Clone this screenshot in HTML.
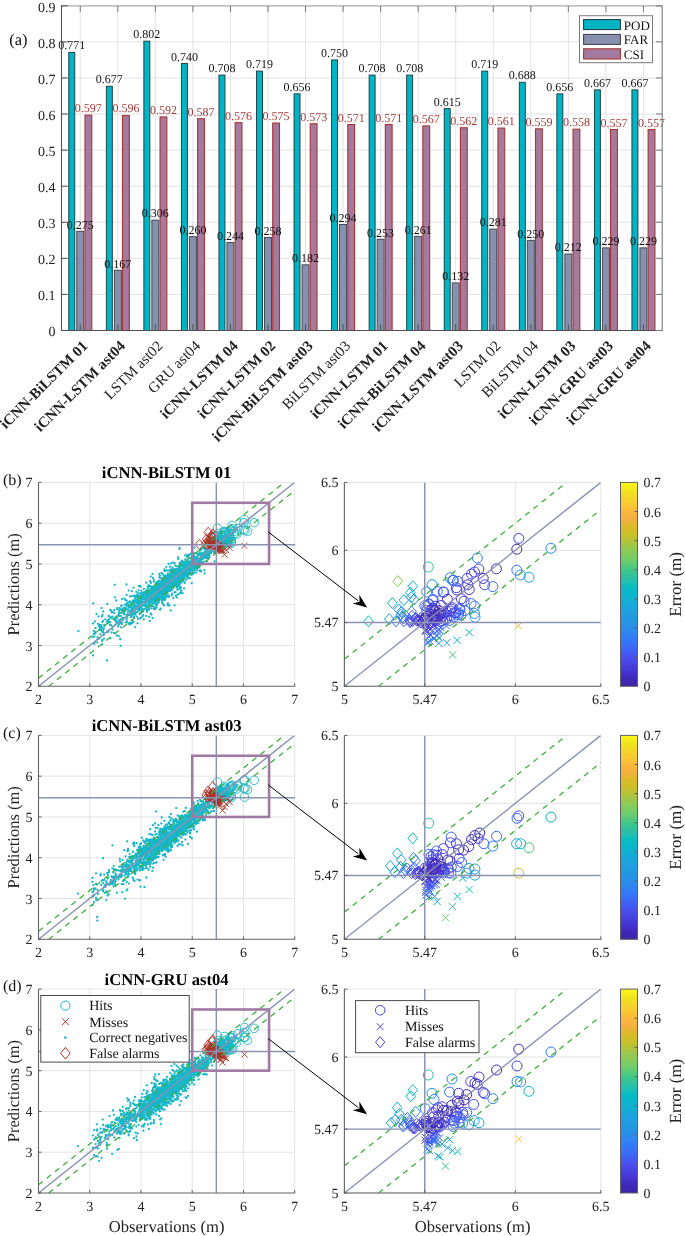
<!DOCTYPE html>
<html><head><meta charset="utf-8"><title>figure</title>
<style>
html,body{margin:0;padding:0;background:#fff;}
svg{display:block;will-change:transform;}
text{font-family:"Liberation Serif", serif;text-rendering:geometricPrecision;}
</style></head>
<body>
<svg width="685" height="1236" viewBox="0 0 685 1236">
<defs><linearGradient id="parula" x1="0" y1="0" x2="0" y2="1"><stop offset="0.000" stop-color="#f8f818"/><stop offset="0.050" stop-color="#f0e020"/><stop offset="0.100" stop-color="#f8cc30"/><stop offset="0.143" stop-color="#fbb83c"/><stop offset="0.180" stop-color="#f5b040"/><stop offset="0.220" stop-color="#daba28"/><stop offset="0.247" stop-color="#d0be28"/><stop offset="0.286" stop-color="#b4c438"/><stop offset="0.321" stop-color="#98c850"/><stop offset="0.357" stop-color="#80cc60"/><stop offset="0.390" stop-color="#68cc70"/><stop offset="0.429" stop-color="#40c888"/><stop offset="0.463" stop-color="#30c0a0"/><stop offset="0.489" stop-color="#20c0b0"/><stop offset="0.513" stop-color="#08bcc0"/><stop offset="0.537" stop-color="#08b8c8"/><stop offset="0.571" stop-color="#10b0d0"/><stop offset="0.601" stop-color="#18a8d8"/><stop offset="0.636" stop-color="#20a0e0"/><stop offset="0.670" stop-color="#2098e0"/><stop offset="0.704" stop-color="#2890e8"/><stop offset="0.733" stop-color="#3088f0"/><stop offset="0.773" stop-color="#3478f8"/><stop offset="0.811" stop-color="#3c68f8"/><stop offset="0.857" stop-color="#4850f0"/><stop offset="0.896" stop-color="#4840e0"/><stop offset="0.930" stop-color="#4434d0"/><stop offset="0.964" stop-color="#4028b8"/><stop offset="1.000" stop-color="#3c24a8"/></linearGradient></defs>
<rect width="685" height="1236" fill="#fff"/>
<line x1="61.5" y1="294.42" x2="662.2" y2="294.42" stroke="#e3e3e3" stroke-width="1"/>
<line x1="61.5" y1="258.34" x2="662.2" y2="258.34" stroke="#e3e3e3" stroke-width="1"/>
<line x1="61.5" y1="222.27" x2="662.2" y2="222.27" stroke="#e3e3e3" stroke-width="1"/>
<line x1="61.5" y1="186.19" x2="662.2" y2="186.19" stroke="#e3e3e3" stroke-width="1"/>
<line x1="61.5" y1="150.11" x2="662.2" y2="150.11" stroke="#e3e3e3" stroke-width="1"/>
<line x1="61.5" y1="114.03" x2="662.2" y2="114.03" stroke="#e3e3e3" stroke-width="1"/>
<line x1="61.5" y1="77.96" x2="662.2" y2="77.96" stroke="#e3e3e3" stroke-width="1"/>
<line x1="61.5" y1="41.88" x2="662.2" y2="41.88" stroke="#e3e3e3" stroke-width="1"/>
<line x1="80.27" y1="5.8" x2="80.27" y2="330.5" stroke="#e3e3e3" stroke-width="1"/>
<line x1="117.82" y1="5.8" x2="117.82" y2="330.5" stroke="#e3e3e3" stroke-width="1"/>
<line x1="155.36" y1="5.8" x2="155.36" y2="330.5" stroke="#e3e3e3" stroke-width="1"/>
<line x1="192.90" y1="5.8" x2="192.90" y2="330.5" stroke="#e3e3e3" stroke-width="1"/>
<line x1="230.45" y1="5.8" x2="230.45" y2="330.5" stroke="#e3e3e3" stroke-width="1"/>
<line x1="267.99" y1="5.8" x2="267.99" y2="330.5" stroke="#e3e3e3" stroke-width="1"/>
<line x1="305.53" y1="5.8" x2="305.53" y2="330.5" stroke="#e3e3e3" stroke-width="1"/>
<line x1="343.08" y1="5.8" x2="343.08" y2="330.5" stroke="#e3e3e3" stroke-width="1"/>
<line x1="380.62" y1="5.8" x2="380.62" y2="330.5" stroke="#e3e3e3" stroke-width="1"/>
<line x1="418.17" y1="5.8" x2="418.17" y2="330.5" stroke="#e3e3e3" stroke-width="1"/>
<line x1="455.71" y1="5.8" x2="455.71" y2="330.5" stroke="#e3e3e3" stroke-width="1"/>
<line x1="493.25" y1="5.8" x2="493.25" y2="330.5" stroke="#e3e3e3" stroke-width="1"/>
<line x1="530.80" y1="5.8" x2="530.80" y2="330.5" stroke="#e3e3e3" stroke-width="1"/>
<line x1="568.34" y1="5.8" x2="568.34" y2="330.5" stroke="#e3e3e3" stroke-width="1"/>
<line x1="605.88" y1="5.8" x2="605.88" y2="330.5" stroke="#e3e3e3" stroke-width="1"/>
<line x1="643.43" y1="5.8" x2="643.43" y2="330.5" stroke="#e3e3e3" stroke-width="1"/>
<rect x="68.77" y="52.34" width="6.00" height="278.16" fill="#00b4c4" stroke="#16393c" stroke-width="0.9"/>
<rect x="76.77" y="231.29" width="7.00" height="99.21" fill="#8791ad" stroke="#3a3d48" stroke-width="0.9"/>
<rect x="84.97" y="115.12" width="6.80" height="215.38" fill="#a47a9e" stroke="#a83434" stroke-width="1.1"/>
<rect x="106.32" y="86.25" width="6.00" height="244.25" fill="#00b4c4" stroke="#16393c" stroke-width="0.9"/>
<rect x="114.32" y="270.25" width="7.00" height="60.25" fill="#8791ad" stroke="#3a3d48" stroke-width="0.9"/>
<rect x="122.52" y="115.48" width="6.80" height="215.02" fill="#a47a9e" stroke="#a83434" stroke-width="1.1"/>
<rect x="143.86" y="41.16" width="6.00" height="289.34" fill="#00b4c4" stroke="#16393c" stroke-width="0.9"/>
<rect x="151.86" y="220.10" width="7.00" height="110.40" fill="#8791ad" stroke="#3a3d48" stroke-width="0.9"/>
<rect x="160.06" y="116.92" width="6.80" height="213.58" fill="#a47a9e" stroke="#a83434" stroke-width="1.1"/>
<rect x="181.40" y="63.52" width="6.00" height="266.98" fill="#00b4c4" stroke="#16393c" stroke-width="0.9"/>
<rect x="189.40" y="236.70" width="7.00" height="93.80" fill="#8791ad" stroke="#3a3d48" stroke-width="0.9"/>
<rect x="197.60" y="118.72" width="6.80" height="211.78" fill="#a47a9e" stroke="#a83434" stroke-width="1.1"/>
<rect x="218.95" y="75.07" width="6.00" height="255.43" fill="#00b4c4" stroke="#16393c" stroke-width="0.9"/>
<rect x="226.95" y="242.47" width="7.00" height="88.03" fill="#8791ad" stroke="#3a3d48" stroke-width="0.9"/>
<rect x="235.15" y="122.69" width="6.80" height="207.81" fill="#a47a9e" stroke="#a83434" stroke-width="1.1"/>
<rect x="256.49" y="71.10" width="6.00" height="259.40" fill="#00b4c4" stroke="#16393c" stroke-width="0.9"/>
<rect x="264.49" y="237.42" width="7.00" height="93.08" fill="#8791ad" stroke="#3a3d48" stroke-width="0.9"/>
<rect x="272.69" y="123.05" width="6.80" height="207.45" fill="#a47a9e" stroke="#a83434" stroke-width="1.1"/>
<rect x="294.03" y="93.83" width="6.00" height="236.67" fill="#00b4c4" stroke="#16393c" stroke-width="0.9"/>
<rect x="302.03" y="264.84" width="7.00" height="65.66" fill="#8791ad" stroke="#3a3d48" stroke-width="0.9"/>
<rect x="310.23" y="123.77" width="6.80" height="206.73" fill="#a47a9e" stroke="#a83434" stroke-width="1.1"/>
<rect x="331.58" y="59.92" width="6.00" height="270.58" fill="#00b4c4" stroke="#16393c" stroke-width="0.9"/>
<rect x="339.58" y="224.43" width="7.00" height="106.07" fill="#8791ad" stroke="#3a3d48" stroke-width="0.9"/>
<rect x="347.78" y="124.50" width="6.80" height="206.00" fill="#a47a9e" stroke="#a83434" stroke-width="1.1"/>
<rect x="369.12" y="75.07" width="6.00" height="255.43" fill="#00b4c4" stroke="#16393c" stroke-width="0.9"/>
<rect x="377.12" y="239.22" width="7.00" height="91.28" fill="#8791ad" stroke="#3a3d48" stroke-width="0.9"/>
<rect x="385.32" y="124.50" width="6.80" height="206.00" fill="#a47a9e" stroke="#a83434" stroke-width="1.1"/>
<rect x="406.67" y="75.07" width="6.00" height="255.43" fill="#00b4c4" stroke="#16393c" stroke-width="0.9"/>
<rect x="414.67" y="236.34" width="7.00" height="94.16" fill="#8791ad" stroke="#3a3d48" stroke-width="0.9"/>
<rect x="422.87" y="125.94" width="6.80" height="204.56" fill="#a47a9e" stroke="#a83434" stroke-width="1.1"/>
<rect x="444.21" y="108.62" width="6.00" height="221.88" fill="#00b4c4" stroke="#16393c" stroke-width="0.9"/>
<rect x="452.21" y="282.88" width="7.00" height="47.62" fill="#8791ad" stroke="#3a3d48" stroke-width="0.9"/>
<rect x="460.41" y="127.74" width="6.80" height="202.76" fill="#a47a9e" stroke="#a83434" stroke-width="1.1"/>
<rect x="481.75" y="71.10" width="6.00" height="259.40" fill="#00b4c4" stroke="#16393c" stroke-width="0.9"/>
<rect x="489.75" y="229.12" width="7.00" height="101.38" fill="#8791ad" stroke="#3a3d48" stroke-width="0.9"/>
<rect x="497.95" y="128.10" width="6.80" height="202.40" fill="#a47a9e" stroke="#a83434" stroke-width="1.1"/>
<rect x="519.30" y="82.28" width="6.00" height="248.22" fill="#00b4c4" stroke="#16393c" stroke-width="0.9"/>
<rect x="527.30" y="240.31" width="7.00" height="90.19" fill="#8791ad" stroke="#3a3d48" stroke-width="0.9"/>
<rect x="535.50" y="128.83" width="6.80" height="201.67" fill="#a47a9e" stroke="#a83434" stroke-width="1.1"/>
<rect x="556.84" y="93.83" width="6.00" height="236.67" fill="#00b4c4" stroke="#16393c" stroke-width="0.9"/>
<rect x="564.84" y="254.02" width="7.00" height="76.48" fill="#8791ad" stroke="#3a3d48" stroke-width="0.9"/>
<rect x="573.04" y="129.19" width="6.80" height="201.31" fill="#a47a9e" stroke="#a83434" stroke-width="1.1"/>
<rect x="594.38" y="89.86" width="6.00" height="240.64" fill="#00b4c4" stroke="#16393c" stroke-width="0.9"/>
<rect x="602.38" y="247.88" width="7.00" height="82.62" fill="#8791ad" stroke="#3a3d48" stroke-width="0.9"/>
<rect x="610.58" y="129.55" width="6.80" height="200.95" fill="#a47a9e" stroke="#a83434" stroke-width="1.1"/>
<rect x="631.93" y="89.86" width="6.00" height="240.64" fill="#00b4c4" stroke="#16393c" stroke-width="0.9"/>
<rect x="639.93" y="247.88" width="7.00" height="82.62" fill="#8791ad" stroke="#3a3d48" stroke-width="0.9"/>
<rect x="648.13" y="129.55" width="6.80" height="200.95" fill="#a47a9e" stroke="#a83434" stroke-width="1.1"/>
<text x="71.77" y="49.34" font-size="12" text-anchor="middle" fill="#111">0.771</text>
<text x="80.27" y="228.59" font-size="12" text-anchor="middle" fill="#111">0.275</text>
<text x="88.37" y="112.12" font-size="12" text-anchor="middle" fill="#a83838">0.597</text>
<text x="109.32" y="83.25" font-size="12" text-anchor="middle" fill="#111">0.677</text>
<text x="117.82" y="267.55" font-size="12" text-anchor="middle" fill="#111">0.167</text>
<text x="125.92" y="112.48" font-size="12" text-anchor="middle" fill="#a83838">0.596</text>
<text x="146.86" y="38.16" font-size="12" text-anchor="middle" fill="#111">0.802</text>
<text x="155.36" y="217.40" font-size="12" text-anchor="middle" fill="#111">0.306</text>
<text x="163.46" y="113.92" font-size="12" text-anchor="middle" fill="#a83838">0.592</text>
<text x="184.40" y="60.52" font-size="12" text-anchor="middle" fill="#111">0.740</text>
<text x="192.90" y="234.00" font-size="12" text-anchor="middle" fill="#111">0.260</text>
<text x="201.00" y="115.72" font-size="12" text-anchor="middle" fill="#a83838">0.587</text>
<text x="221.95" y="72.07" font-size="12" text-anchor="middle" fill="#111">0.708</text>
<text x="230.45" y="239.77" font-size="12" text-anchor="middle" fill="#111">0.244</text>
<text x="238.55" y="119.69" font-size="12" text-anchor="middle" fill="#a83838">0.576</text>
<text x="259.49" y="68.10" font-size="12" text-anchor="middle" fill="#111">0.719</text>
<text x="267.99" y="234.72" font-size="12" text-anchor="middle" fill="#111">0.258</text>
<text x="276.09" y="120.05" font-size="12" text-anchor="middle" fill="#a83838">0.575</text>
<text x="297.03" y="90.83" font-size="12" text-anchor="middle" fill="#111">0.656</text>
<text x="305.53" y="262.14" font-size="12" text-anchor="middle" fill="#111">0.182</text>
<text x="313.63" y="120.77" font-size="12" text-anchor="middle" fill="#a83838">0.573</text>
<text x="334.58" y="56.92" font-size="12" text-anchor="middle" fill="#111">0.750</text>
<text x="343.08" y="221.73" font-size="12" text-anchor="middle" fill="#111">0.294</text>
<text x="351.18" y="121.50" font-size="12" text-anchor="middle" fill="#a83838">0.571</text>
<text x="372.12" y="72.07" font-size="12" text-anchor="middle" fill="#111">0.708</text>
<text x="380.62" y="236.52" font-size="12" text-anchor="middle" fill="#111">0.253</text>
<text x="388.72" y="121.50" font-size="12" text-anchor="middle" fill="#a83838">0.571</text>
<text x="409.67" y="72.07" font-size="12" text-anchor="middle" fill="#111">0.708</text>
<text x="418.17" y="233.64" font-size="12" text-anchor="middle" fill="#111">0.261</text>
<text x="426.27" y="122.94" font-size="12" text-anchor="middle" fill="#a83838">0.567</text>
<text x="447.21" y="105.62" font-size="12" text-anchor="middle" fill="#111">0.615</text>
<text x="455.71" y="280.18" font-size="12" text-anchor="middle" fill="#111">0.132</text>
<text x="463.81" y="124.74" font-size="12" text-anchor="middle" fill="#a83838">0.562</text>
<text x="484.75" y="68.10" font-size="12" text-anchor="middle" fill="#111">0.719</text>
<text x="493.25" y="226.42" font-size="12" text-anchor="middle" fill="#111">0.281</text>
<text x="501.35" y="125.10" font-size="12" text-anchor="middle" fill="#a83838">0.561</text>
<text x="522.30" y="79.28" font-size="12" text-anchor="middle" fill="#111">0.688</text>
<text x="530.80" y="237.61" font-size="12" text-anchor="middle" fill="#111">0.250</text>
<text x="538.90" y="125.83" font-size="12" text-anchor="middle" fill="#a83838">0.559</text>
<text x="559.84" y="90.83" font-size="12" text-anchor="middle" fill="#111">0.656</text>
<text x="568.34" y="251.32" font-size="12" text-anchor="middle" fill="#111">0.212</text>
<text x="576.44" y="126.19" font-size="12" text-anchor="middle" fill="#a83838">0.558</text>
<text x="597.38" y="86.86" font-size="12" text-anchor="middle" fill="#111">0.667</text>
<text x="605.88" y="245.18" font-size="12" text-anchor="middle" fill="#111">0.229</text>
<text x="613.98" y="126.55" font-size="12" text-anchor="middle" fill="#a83838">0.557</text>
<text x="634.93" y="86.86" font-size="12" text-anchor="middle" fill="#111">0.667</text>
<text x="643.43" y="245.18" font-size="12" text-anchor="middle" fill="#111">0.229</text>
<text x="651.53" y="126.55" font-size="12" text-anchor="middle" fill="#a83838">0.557</text>
<line x1="61.5" y1="5.8" x2="662.2" y2="5.8" stroke="#a8a8a8" stroke-width="1.3"/>
<line x1="662.2" y1="5.8" x2="662.2" y2="330.5" stroke="#7a7a7a" stroke-width="1.1"/>
<line x1="61.5" y1="5.3" x2="61.5" y2="331.0" stroke="#505050" stroke-width="1.1"/>
<line x1="61.0" y1="330.5" x2="662.7" y2="330.5" stroke="#505050" stroke-width="1.1"/>
<line x1="61.5" y1="330.50" x2="67.7" y2="330.50" stroke="#505050" stroke-width="1"/>
<line x1="656.0" y1="330.50" x2="662.2" y2="330.50" stroke="#7a7a7a" stroke-width="1"/>
<text x="55.5" y="336.40" font-size="14" text-anchor="end" fill="#222222">0</text>
<line x1="61.5" y1="294.42" x2="67.7" y2="294.42" stroke="#505050" stroke-width="1"/>
<line x1="656.0" y1="294.42" x2="662.2" y2="294.42" stroke="#7a7a7a" stroke-width="1"/>
<text x="55.5" y="300.32" font-size="14" text-anchor="end" fill="#222222">0.1</text>
<line x1="61.5" y1="258.34" x2="67.7" y2="258.34" stroke="#505050" stroke-width="1"/>
<line x1="656.0" y1="258.34" x2="662.2" y2="258.34" stroke="#7a7a7a" stroke-width="1"/>
<text x="55.5" y="264.24" font-size="14" text-anchor="end" fill="#222222">0.2</text>
<line x1="61.5" y1="222.27" x2="67.7" y2="222.27" stroke="#505050" stroke-width="1"/>
<line x1="656.0" y1="222.27" x2="662.2" y2="222.27" stroke="#7a7a7a" stroke-width="1"/>
<text x="55.5" y="228.17" font-size="14" text-anchor="end" fill="#222222">0.3</text>
<line x1="61.5" y1="186.19" x2="67.7" y2="186.19" stroke="#505050" stroke-width="1"/>
<line x1="656.0" y1="186.19" x2="662.2" y2="186.19" stroke="#7a7a7a" stroke-width="1"/>
<text x="55.5" y="192.09" font-size="14" text-anchor="end" fill="#222222">0.4</text>
<line x1="61.5" y1="150.11" x2="67.7" y2="150.11" stroke="#505050" stroke-width="1"/>
<line x1="656.0" y1="150.11" x2="662.2" y2="150.11" stroke="#7a7a7a" stroke-width="1"/>
<text x="55.5" y="156.01" font-size="14" text-anchor="end" fill="#222222">0.5</text>
<line x1="61.5" y1="114.03" x2="67.7" y2="114.03" stroke="#505050" stroke-width="1"/>
<line x1="656.0" y1="114.03" x2="662.2" y2="114.03" stroke="#7a7a7a" stroke-width="1"/>
<text x="55.5" y="119.93" font-size="14" text-anchor="end" fill="#222222">0.6</text>
<line x1="61.5" y1="77.96" x2="67.7" y2="77.96" stroke="#505050" stroke-width="1"/>
<line x1="656.0" y1="77.96" x2="662.2" y2="77.96" stroke="#7a7a7a" stroke-width="1"/>
<text x="55.5" y="83.86" font-size="14" text-anchor="end" fill="#222222">0.7</text>
<line x1="61.5" y1="41.88" x2="67.7" y2="41.88" stroke="#505050" stroke-width="1"/>
<line x1="656.0" y1="41.88" x2="662.2" y2="41.88" stroke="#7a7a7a" stroke-width="1"/>
<text x="55.5" y="47.78" font-size="14" text-anchor="end" fill="#222222">0.8</text>
<line x1="61.5" y1="5.80" x2="67.7" y2="5.80" stroke="#505050" stroke-width="1"/>
<line x1="656.0" y1="5.80" x2="662.2" y2="5.80" stroke="#7a7a7a" stroke-width="1"/>
<text x="55.5" y="11.70" font-size="14" text-anchor="end" fill="#222222">0.9</text>
<line x1="80.27" y1="330.5" x2="80.27" y2="324.3" stroke="#505050" stroke-width="1"/>
<line x1="80.27" y1="5.8" x2="80.27" y2="12.0" stroke="#7a7a7a" stroke-width="1"/>
<line x1="117.82" y1="330.5" x2="117.82" y2="324.3" stroke="#505050" stroke-width="1"/>
<line x1="117.82" y1="5.8" x2="117.82" y2="12.0" stroke="#7a7a7a" stroke-width="1"/>
<line x1="155.36" y1="330.5" x2="155.36" y2="324.3" stroke="#505050" stroke-width="1"/>
<line x1="155.36" y1="5.8" x2="155.36" y2="12.0" stroke="#7a7a7a" stroke-width="1"/>
<line x1="192.90" y1="330.5" x2="192.90" y2="324.3" stroke="#505050" stroke-width="1"/>
<line x1="192.90" y1="5.8" x2="192.90" y2="12.0" stroke="#7a7a7a" stroke-width="1"/>
<line x1="230.45" y1="330.5" x2="230.45" y2="324.3" stroke="#505050" stroke-width="1"/>
<line x1="230.45" y1="5.8" x2="230.45" y2="12.0" stroke="#7a7a7a" stroke-width="1"/>
<line x1="267.99" y1="330.5" x2="267.99" y2="324.3" stroke="#505050" stroke-width="1"/>
<line x1="267.99" y1="5.8" x2="267.99" y2="12.0" stroke="#7a7a7a" stroke-width="1"/>
<line x1="305.53" y1="330.5" x2="305.53" y2="324.3" stroke="#505050" stroke-width="1"/>
<line x1="305.53" y1="5.8" x2="305.53" y2="12.0" stroke="#7a7a7a" stroke-width="1"/>
<line x1="343.08" y1="330.5" x2="343.08" y2="324.3" stroke="#505050" stroke-width="1"/>
<line x1="343.08" y1="5.8" x2="343.08" y2="12.0" stroke="#7a7a7a" stroke-width="1"/>
<line x1="380.62" y1="330.5" x2="380.62" y2="324.3" stroke="#505050" stroke-width="1"/>
<line x1="380.62" y1="5.8" x2="380.62" y2="12.0" stroke="#7a7a7a" stroke-width="1"/>
<line x1="418.17" y1="330.5" x2="418.17" y2="324.3" stroke="#505050" stroke-width="1"/>
<line x1="418.17" y1="5.8" x2="418.17" y2="12.0" stroke="#7a7a7a" stroke-width="1"/>
<line x1="455.71" y1="330.5" x2="455.71" y2="324.3" stroke="#505050" stroke-width="1"/>
<line x1="455.71" y1="5.8" x2="455.71" y2="12.0" stroke="#7a7a7a" stroke-width="1"/>
<line x1="493.25" y1="330.5" x2="493.25" y2="324.3" stroke="#505050" stroke-width="1"/>
<line x1="493.25" y1="5.8" x2="493.25" y2="12.0" stroke="#7a7a7a" stroke-width="1"/>
<line x1="530.80" y1="330.5" x2="530.80" y2="324.3" stroke="#505050" stroke-width="1"/>
<line x1="530.80" y1="5.8" x2="530.80" y2="12.0" stroke="#7a7a7a" stroke-width="1"/>
<line x1="568.34" y1="330.5" x2="568.34" y2="324.3" stroke="#505050" stroke-width="1"/>
<line x1="568.34" y1="5.8" x2="568.34" y2="12.0" stroke="#7a7a7a" stroke-width="1"/>
<line x1="605.88" y1="330.5" x2="605.88" y2="324.3" stroke="#505050" stroke-width="1"/>
<line x1="605.88" y1="5.8" x2="605.88" y2="12.0" stroke="#7a7a7a" stroke-width="1"/>
<line x1="643.43" y1="330.5" x2="643.43" y2="324.3" stroke="#505050" stroke-width="1"/>
<line x1="643.43" y1="5.8" x2="643.43" y2="12.0" stroke="#7a7a7a" stroke-width="1"/>
<text transform="translate(88.57,346.80) rotate(-45)" font-size="15" font-weight="bold" text-anchor="end" fill="#222222">iCNN-BiLSTM 01</text>
<text transform="translate(126.12,346.80) rotate(-45)" font-size="15" font-weight="bold" text-anchor="end" fill="#222222">iCNN-LSTM ast04</text>
<text transform="translate(163.66,346.80) rotate(-45)" font-size="15" font-weight="normal" text-anchor="end" fill="#222222">LSTM ast02</text>
<text transform="translate(201.20,346.80) rotate(-45)" font-size="15" font-weight="normal" text-anchor="end" fill="#222222">GRU ast04</text>
<text transform="translate(238.75,346.80) rotate(-45)" font-size="15" font-weight="bold" text-anchor="end" fill="#222222">iCNN-LSTM 04</text>
<text transform="translate(276.29,346.80) rotate(-45)" font-size="15" font-weight="bold" text-anchor="end" fill="#222222">iCNN-LSTM 02</text>
<text transform="translate(313.83,346.80) rotate(-45)" font-size="15" font-weight="bold" text-anchor="end" fill="#222222">iCNN-BiLSTM ast03</text>
<text transform="translate(351.38,346.80) rotate(-45)" font-size="15" font-weight="normal" text-anchor="end" fill="#222222">BiLSTM ast03</text>
<text transform="translate(388.92,346.80) rotate(-45)" font-size="15" font-weight="bold" text-anchor="end" fill="#222222">iCNN-LSTM 01</text>
<text transform="translate(426.47,346.80) rotate(-45)" font-size="15" font-weight="bold" text-anchor="end" fill="#222222">iCNN-BiLSTM 04</text>
<text transform="translate(464.01,346.80) rotate(-45)" font-size="15" font-weight="bold" text-anchor="end" fill="#222222">iCNN-LSTM ast03</text>
<text transform="translate(501.55,346.80) rotate(-45)" font-size="15" font-weight="normal" text-anchor="end" fill="#222222">LSTM 02</text>
<text transform="translate(539.10,346.80) rotate(-45)" font-size="15" font-weight="normal" text-anchor="end" fill="#222222">BiLSTM 04</text>
<text transform="translate(576.64,346.80) rotate(-45)" font-size="15" font-weight="bold" text-anchor="end" fill="#222222">iCNN-LSTM 03</text>
<text transform="translate(614.18,346.80) rotate(-45)" font-size="15" font-weight="bold" text-anchor="end" fill="#222222">iCNN-GRU ast03</text>
<text transform="translate(651.73,346.80) rotate(-45)" font-size="15" font-weight="bold" text-anchor="end" fill="#222222">iCNN-GRU ast04</text>
<text x="9.2" y="45.2" font-size="16.5" fill="#111">(a)</text>
<rect x="579.5" y="15.7" width="73" height="47" fill="#fff" stroke="#7a7a7a" stroke-width="1"/>
<rect x="583.6" y="19.6" width="36.8" height="10" fill="#00b4c4" stroke="#16393c" stroke-width="1"/>
<rect x="583.6" y="34.4" width="36.8" height="10" fill="#8791ad" stroke="#3a3d48" stroke-width="1"/>
<rect x="583.6" y="48.8" width="36.8" height="10.2" fill="#a47a9e" stroke="#a83434" stroke-width="1.1"/>
<text x="623.8" y="29.6" font-size="13" fill="#111">POD</text>
<text x="623.8" y="44.2" font-size="13" fill="#111">FAR</text>
<text x="623.8" y="58.8" font-size="13" fill="#111">CSI</text>
<line x1="89.74" y1="482.4" x2="89.74" y2="686.3" stroke="#e3e3e3" stroke-width="1"/>
<line x1="38.5" y1="645.52" x2="294.7" y2="645.52" stroke="#e3e3e3" stroke-width="1"/>
<line x1="140.98" y1="482.4" x2="140.98" y2="686.3" stroke="#e3e3e3" stroke-width="1"/>
<line x1="38.5" y1="604.74" x2="294.7" y2="604.74" stroke="#e3e3e3" stroke-width="1"/>
<line x1="192.22" y1="482.4" x2="192.22" y2="686.3" stroke="#e3e3e3" stroke-width="1"/>
<line x1="38.5" y1="563.96" x2="294.7" y2="563.96" stroke="#e3e3e3" stroke-width="1"/>
<line x1="243.46" y1="482.4" x2="243.46" y2="686.3" stroke="#e3e3e3" stroke-width="1"/>
<line x1="38.5" y1="523.18" x2="294.7" y2="523.18" stroke="#e3e3e3" stroke-width="1"/>
<line x1="294.70" y1="482.4" x2="294.70" y2="686.3" stroke="#e3e3e3" stroke-width="1"/>
<line x1="38.5" y1="482.40" x2="294.7" y2="482.40" stroke="#e3e3e3" stroke-width="1"/>
<clipPath id="cl0"><rect x="38.5" y="482.4" width="256.2" height="203.9"/></clipPath>
<g clip-path="url(#cl0)">
<path d="M157.0,590.8h0M198.6,560.0h0M198.9,564.6h0M165.3,587.9h0M170.6,572.7h0M158.4,597.3h0M197.9,554.1h0M128.5,607.6h0M110.8,625.0h0M176.3,578.0h0M201.3,555.5h0M190.7,568.9h0M159.3,594.3h0M120.2,639.0h0M164.0,585.0h0M143.8,597.6h0M168.5,586.3h0M192.8,556.5h0M169.4,581.6h0M165.2,577.1h0M165.7,593.0h0M134.6,614.5h0M141.6,607.5h0M155.0,598.1h0M176.2,582.5h0M142.4,611.8h0M196.2,563.2h0M174.5,577.6h0M136.0,606.1h0M166.0,593.7h0M154.3,589.5h0M187.0,557.0h0M214.9,547.5h0M170.8,583.3h0M151.0,589.0h0M192.3,570.7h0M151.0,599.5h0M118.1,615.7h0M210.2,551.0h0M141.7,602.0h0M181.6,575.1h0M147.3,598.9h0M165.1,585.9h0M187.3,573.2h0M162.5,588.6h0M180.5,574.8h0M187.3,567.8h0M131.8,591.2h0M152.9,589.1h0M199.4,566.1h0M133.9,609.2h0M155.0,597.5h0M137.3,611.9h0M161.0,597.2h0M160.5,590.9h0M181.3,571.1h0M177.2,579.3h0M187.3,566.6h0M160.7,584.2h0M104.7,625.7h0M152.5,573.9h0M104.1,625.2h0M161.2,585.8h0M194.0,563.4h0M163.6,591.4h0M173.6,573.9h0M142.0,595.0h0M190.0,568.9h0M154.3,597.7h0M128.0,609.4h0M192.7,567.0h0M195.4,564.0h0M139.5,601.6h0M204.3,570.1h0M149.4,591.4h0M139.2,601.6h0M149.0,608.2h0M206.0,555.2h0M144.6,602.2h0M151.9,600.2h0M199.7,561.3h0M181.4,572.6h0M173.2,586.4h0M145.5,601.5h0M102.1,640.9h0M177.0,573.1h0M165.0,586.5h0M150.0,590.3h0M124.4,598.6h0M153.8,579.7h0M180.1,570.2h0M183.2,572.0h0M199.1,554.4h0M198.7,560.6h0M157.7,584.8h0M176.1,569.6h0M182.6,574.6h0M186.8,566.9h0M177.0,577.2h0M142.9,598.3h0M142.0,603.5h0M207.4,554.0h0M191.3,569.9h0M166.2,586.3h0M185.9,563.0h0M137.2,597.8h0M184.6,583.2h0M202.3,547.7h0M165.9,589.2h0M137.1,603.4h0M189.6,569.4h0M182.4,570.0h0M165.7,589.5h0M173.4,576.5h0M155.2,600.2h0M144.9,601.6h0M139.6,607.6h0M134.8,602.4h0M170.8,581.9h0M145.4,603.8h0M145.6,603.4h0M100.0,628.6h0M183.7,575.1h0M158.9,591.9h0M147.8,595.8h0M157.7,585.4h0M130.0,596.4h0M182.0,572.4h0M199.0,554.6h0M158.2,599.2h0M126.3,614.9h0M189.3,573.2h0M167.1,591.8h0M187.0,576.0h0M118.4,621.1h0M157.0,590.9h0M131.2,623.6h0M154.9,595.9h0M138.5,590.3h0M172.9,585.8h0M203.3,558.5h0M205.3,552.7h0M174.7,563.5h0M168.0,583.5h0M162.9,604.0h0M187.2,568.1h0M190.5,566.1h0M149.6,601.4h0M133.1,610.7h0M179.5,573.8h0M159.8,594.2h0M157.5,594.5h0M114.2,612.9h0M174.7,578.7h0M163.9,585.3h0M158.4,587.9h0M186.7,565.9h0M164.7,593.4h0M160.1,592.4h0M188.9,567.8h0M152.3,594.1h0M153.4,595.9h0M169.9,566.7h0M184.4,578.2h0M169.3,575.2h0M185.3,561.5h0M203.9,557.9h0M124.8,610.1h0M184.9,569.2h0M192.7,573.9h0M183.2,572.6h0M154.4,602.1h0M156.0,603.3h0M161.8,587.6h0M150.3,593.9h0M176.0,584.3h0M152.0,605.9h0M180.6,578.2h0M105.3,619.3h0M140.0,586.5h0M160.7,593.2h0M187.2,565.7h0M134.8,604.4h0M165.3,582.2h0M106.9,621.5h0M95.0,632.2h0M199.6,561.7h0M146.6,598.7h0M173.6,578.4h0M208.9,547.6h0M155.6,593.1h0M193.8,559.1h0M179.6,575.8h0M210.7,552.7h0M171.0,584.6h0M186.6,572.3h0M187.1,563.9h0M185.1,576.3h0M160.2,594.8h0M167.8,591.1h0M147.3,597.9h0M96.5,613.9h0M193.7,565.5h0M160.1,582.6h0M205.7,555.3h0M159.2,594.8h0M170.1,579.9h0M157.9,582.3h0M148.2,593.3h0M204.8,553.4h0M145.4,604.1h0M166.5,587.7h0M182.6,566.5h0M189.5,565.5h0M159.5,593.0h0M172.9,571.5h0M183.9,568.1h0M94.8,642.7h0M157.3,591.9h0M167.4,591.7h0M136.9,601.0h0M146.4,594.3h0M170.1,585.3h0M163.6,584.0h0M159.8,585.0h0M196.2,572.6h0M204.4,557.2h0M196.1,562.0h0M132.1,614.3h0M140.3,609.0h0M99.0,629.9h0M191.6,562.9h0M189.7,568.6h0M93.6,634.0h0M204.7,573.4h0M164.1,605.4h0M170.4,583.3h0M193.0,562.1h0M171.7,587.2h0M165.8,578.6h0M189.9,578.2h0M148.3,595.9h0M174.8,577.2h0M157.5,590.7h0M195.8,557.1h0M154.5,595.6h0M198.3,560.8h0M201.1,550.0h0M165.5,585.6h0M175.2,579.2h0M164.1,586.5h0M137.5,623.4h0M102.3,622.1h0M171.4,581.0h0M173.3,576.9h0M135.3,609.8h0M141.4,590.6h0M133.5,606.8h0M179.2,586.6h0M196.7,558.3h0M141.2,606.3h0M98.1,623.9h0M156.5,593.8h0M144.1,601.2h0M172.9,579.7h0M179.5,565.4h0M154.9,594.1h0M194.0,569.9h0M146.9,598.6h0M162.0,596.8h0M178.9,575.0h0M188.6,570.2h0M171.1,563.4h0M203.5,548.4h0M195.5,561.0h0M153.0,577.8h0M158.9,580.7h0M168.1,581.6h0M190.0,567.9h0M187.4,560.8h0M150.4,593.6h0M157.3,587.7h0M183.0,580.7h0M160.0,590.2h0M194.7,561.8h0M177.0,574.8h0M146.0,601.4h0M161.8,596.8h0M171.4,573.2h0M126.4,584.5h0M159.8,597.1h0M153.7,596.5h0M186.6,572.8h0M161.2,586.4h0M163.4,588.7h0M137.0,602.3h0M148.6,595.6h0M164.3,597.0h0M132.8,612.1h0M199.4,553.2h0M165.7,577.4h0M147.2,605.6h0M179.5,572.4h0M169.0,585.5h0M157.3,600.8h0M120.5,620.2h0M150.7,597.0h0M179.8,574.7h0M132.0,623.0h0M198.8,554.8h0M161.7,598.8h0M165.1,588.0h0M162.1,602.3h0M164.8,588.9h0M162.6,592.1h0M121.6,609.8h0M176.7,586.5h0M133.4,621.9h0M156.8,588.5h0M126.4,603.7h0M212.2,545.9h0M174.2,579.9h0M141.8,598.8h0M201.3,555.9h0M174.8,582.0h0M196.6,560.0h0M165.4,594.8h0M144.5,601.1h0M209.3,557.4h0M149.7,594.4h0M187.4,554.6h0M173.0,577.7h0M171.1,581.0h0M156.6,586.4h0M164.8,590.3h0M149.2,591.0h0M164.1,597.1h0M176.6,578.3h0M182.2,580.0h0M156.2,588.4h0M151.5,597.7h0M206.8,551.3h0M188.6,564.9h0M183.1,562.4h0M164.1,595.7h0M170.9,585.7h0M142.1,598.1h0M112.5,626.4h0M181.3,593.2h0M144.3,601.9h0M196.5,567.2h0M172.0,584.0h0M104.0,638.6h0M173.3,588.1h0M194.0,567.2h0M184.0,574.5h0M147.2,600.8h0M184.1,561.9h0M173.9,574.0h0M195.4,565.4h0M166.3,576.0h0M102.2,644.4h0M176.4,578.2h0M177.7,589.8h0M171.7,583.3h0M188.4,562.9h0M161.2,588.3h0M176.5,570.4h0M168.2,581.7h0M142.6,596.9h0M175.2,569.2h0M185.6,575.8h0M192.6,573.8h0M133.3,604.6h0M177.0,576.0h0M179.5,547.8h0M195.4,565.9h0M174.4,580.6h0M191.0,574.0h0M114.7,584.8h0M192.8,572.8h0M164.9,584.5h0M173.7,569.5h0M171.9,589.9h0M186.5,576.6h0M150.3,601.0h0M191.1,561.9h0M150.1,601.1h0M182.8,571.6h0M152.6,617.9h0M119.0,613.6h0M119.1,615.8h0M161.7,599.4h0M167.1,583.0h0M177.2,580.1h0M202.5,552.8h0M127.7,613.6h0M178.0,557.5h0M187.0,572.6h0M168.2,578.8h0M156.5,599.2h0M182.6,575.4h0M176.3,587.3h0M172.1,580.0h0M139.9,604.5h0M157.4,598.6h0M117.9,622.9h0M142.5,594.1h0M173.2,578.6h0M155.5,593.8h0M197.2,569.9h0M181.1,587.5h0M169.7,589.6h0M173.7,573.2h0M169.9,587.0h0M169.7,576.1h0M128.2,611.3h0M138.5,607.7h0M146.3,607.2h0M175.6,565.8h0M176.4,577.0h0M144.1,604.7h0M189.1,570.2h0M157.0,590.5h0M177.1,581.1h0M167.7,604.1h0M192.2,568.6h0M187.0,567.8h0M133.6,610.7h0M162.4,581.4h0M178.4,580.1h0M136.8,595.0h0M209.4,553.8h0M115.3,624.6h0M161.7,593.4h0M205.5,557.0h0M148.5,591.8h0M136.8,607.6h0M151.8,593.8h0M149.0,600.8h0M130.7,605.7h0M174.9,578.5h0M163.6,588.9h0M184.9,570.0h0M101.9,616.6h0M166.3,566.9h0M151.3,589.0h0M149.3,616.9h0M135.4,607.3h0M191.4,563.7h0M188.0,556.8h0M164.0,596.1h0M184.9,562.1h0M207.3,555.9h0M159.5,577.5h0M163.7,585.9h0M162.9,599.8h0M160.4,588.1h0M140.9,599.2h0M134.8,597.5h0M150.7,594.5h0M149.2,616.7h0M132.8,612.5h0M158.8,591.6h0M176.1,572.7h0M187.7,560.4h0M110.1,624.6h0M154.4,589.4h0M154.9,602.8h0M163.6,584.4h0M180.8,562.2h0M152.5,604.8h0M158.9,592.8h0M126.6,594.9h0M167.2,587.2h0M149.4,596.5h0M154.8,597.6h0M173.7,573.8h0M153.4,599.8h0M203.8,561.6h0M171.7,586.0h0M142.0,611.9h0M165.3,583.3h0M185.1,566.2h0M132.6,614.5h0M171.8,571.1h0M177.3,579.5h0M164.3,591.8h0M181.2,576.8h0M192.1,566.2h0M121.8,624.1h0M135.2,627.1h0M183.8,562.9h0M162.7,587.2h0M151.8,602.5h0M130.8,617.1h0M174.8,578.7h0M147.5,589.9h0M98.6,616.4h0M160.3,597.3h0M155.0,603.3h0M172.1,579.5h0M155.6,587.1h0M137.7,605.4h0M115.5,617.8h0M155.3,599.0h0M180.8,570.9h0M93.1,623.5h0M176.3,568.9h0M138.9,602.1h0M137.2,616.7h0M173.9,582.8h0M172.9,583.3h0M185.5,575.6h0M193.3,558.7h0M166.3,584.3h0M184.2,565.6h0M188.3,562.2h0M181.8,573.5h0M178.5,582.9h0M119.6,608.1h0M170.6,577.0h0M170.1,587.2h0M202.9,554.6h0M120.8,613.1h0M162.5,587.3h0M193.1,562.2h0M131.3,603.0h0M181.3,576.8h0M162.3,580.7h0M204.0,554.3h0M148.9,604.3h0M192.1,567.4h0M189.4,566.7h0M159.2,585.8h0M162.9,599.7h0M162.2,591.4h0M194.4,562.6h0M162.9,586.6h0M146.7,601.8h0M213.0,547.3h0M206.4,548.6h0M130.8,612.5h0M99.3,638.4h0M169.0,583.7h0M182.9,564.8h0M190.7,558.6h0M191.7,583.2h0M162.4,582.9h0M93.7,630.8h0M207.5,552.7h0M182.6,572.8h0M179.0,581.1h0M185.4,568.9h0M110.2,609.8h0M157.7,590.4h0M187.8,568.1h0M204.4,552.5h0M185.4,568.8h0M183.2,575.5h0M137.6,609.1h0M142.2,596.6h0M129.6,624.5h0M146.5,595.9h0M131.9,603.0h0M142.3,601.6h0M153.2,601.9h0M197.3,567.9h0M122.7,609.1h0M159.8,575.8h0M195.8,564.6h0M170.5,584.0h0M149.4,604.0h0M127.2,617.4h0M151.7,598.9h0M178.2,571.0h0M153.7,588.1h0M153.8,581.8h0M131.9,609.4h0M165.3,588.8h0M142.0,604.2h0M143.5,595.2h0M206.0,555.3h0M169.1,581.4h0M167.4,592.6h0M205.9,553.3h0M170.6,578.5h0M162.4,584.8h0M192.4,567.4h0M174.4,571.3h0M142.4,605.1h0M125.0,611.0h0M179.9,568.6h0M152.6,593.6h0M169.2,576.9h0M159.9,588.7h0M202.5,559.2h0M192.4,566.5h0M177.0,597.6h0M138.5,597.0h0M134.0,595.7h0M145.5,591.8h0M197.5,563.0h0M165.4,588.7h0M163.8,595.4h0M132.8,600.7h0M203.8,557.9h0M167.2,575.7h0M162.9,592.0h0M197.2,557.0h0M175.3,575.6h0M159.5,597.7h0M185.2,566.5h0M161.0,585.1h0M173.2,579.6h0M176.8,586.7h0M185.2,555.4h0M212.6,546.9h0M162.3,582.2h0M207.2,557.8h0M188.5,568.8h0M153.3,590.0h0M126.7,600.7h0M163.6,595.5h0M182.7,574.5h0M179.5,549.0h0M146.7,599.7h0M206.8,554.9h0M152.4,597.9h0M187.5,578.5h0M155.3,588.8h0M152.5,586.4h0M190.5,564.3h0M157.8,584.2h0M176.0,583.8h0M140.2,613.2h0M139.9,598.4h0M182.7,575.9h0M190.8,561.3h0M156.9,589.0h0M177.5,575.8h0M189.8,562.2h0M194.8,556.9h0M187.4,569.2h0M177.3,581.8h0M208.0,551.8h0M107.3,631.3h0M101.5,608.1h0M168.6,580.6h0M157.5,590.1h0M148.9,595.0h0M177.3,589.3h0M118.9,624.5h0M170.4,571.1h0M184.6,575.9h0M174.8,577.1h0M182.2,573.2h0M153.7,606.8h0M209.1,555.7h0M190.3,564.6h0M174.6,584.6h0M180.2,564.0h0M139.8,609.5h0M154.5,595.4h0M173.2,576.7h0M185.7,574.3h0M180.3,583.1h0M198.3,562.8h0M180.0,578.0h0M190.3,564.1h0M174.6,578.7h0M173.5,580.2h0M130.2,610.7h0M164.6,581.6h0M165.4,584.6h0M180.2,577.9h0M107.4,603.9h0M176.8,578.5h0M141.6,599.8h0M155.5,599.1h0M182.2,566.0h0M124.8,604.8h0M120.4,623.0h0M114.4,609.9h0M156.1,596.0h0M140.9,599.0h0M184.4,571.1h0M186.5,573.5h0M174.4,582.5h0M185.0,572.3h0M183.4,567.5h0M213.4,551.5h0M188.4,570.1h0M160.4,593.7h0M148.6,585.2h0M147.2,595.6h0M185.3,559.3h0M172.9,579.9h0M159.1,598.7h0M111.4,610.8h0M197.6,563.7h0M163.6,580.9h0M196.9,559.7h0M148.1,590.9h0M107.7,623.3h0M176.9,569.0h0M169.4,581.1h0M179.3,581.7h0M176.7,582.0h0M128.3,606.3h0M177.0,581.1h0M187.3,573.9h0M164.1,577.4h0M165.4,586.5h0M160.2,586.7h0M172.3,567.6h0M127.6,603.2h0M159.4,593.3h0M125.6,610.0h0M138.1,607.7h0M194.4,561.2h0M198.1,565.5h0M144.9,594.7h0M168.0,603.4h0M142.9,599.1h0M162.8,588.6h0M193.8,565.1h0M177.7,578.8h0M135.5,597.6h0M147.2,593.3h0M144.4,599.1h0M110.1,622.2h0M173.2,582.1h0M151.8,593.7h0M102.1,631.2h0M171.7,587.7h0M168.3,579.4h0M128.3,605.7h0M130.9,611.7h0M112.5,616.7h0M161.2,598.9h0M167.6,596.5h0M156.1,603.3h0M170.7,583.0h0M205.1,548.5h0M130.5,607.2h0M158.4,588.3h0M129.8,614.9h0M168.0,605.4h0M184.7,564.8h0M157.7,596.1h0M155.5,607.4h0M177.4,566.3h0M161.9,600.5h0M142.0,595.5h0M172.1,584.9h0M172.7,581.7h0M119.9,620.1h0M140.7,586.4h0M140.6,603.1h0M187.6,576.4h0M200.3,554.4h0M199.2,558.5h0M161.1,591.9h0M133.1,614.5h0M170.9,569.7h0M149.0,596.4h0M169.9,589.6h0M159.4,591.2h0M153.5,590.4h0M180.4,574.4h0M101.9,631.7h0M150.9,596.5h0M192.0,562.0h0M163.2,579.2h0M155.4,599.7h0M107.8,632.0h0M170.9,580.9h0M184.8,572.7h0M129.2,611.3h0M98.8,626.2h0M168.7,584.0h0M102.5,615.0h0M163.1,590.3h0M146.8,596.6h0M133.2,603.9h0M177.7,579.9h0M131.8,610.2h0M171.3,573.0h0M166.3,585.9h0M152.9,589.6h0M127.2,615.5h0M179.4,573.0h0M170.8,579.9h0M148.9,592.6h0M199.0,564.4h0M150.2,594.8h0M180.1,588.1h0M178.4,581.5h0M146.2,597.4h0M201.2,562.8h0M190.6,569.1h0M147.2,599.4h0M145.1,598.1h0M164.5,593.9h0M169.0,596.8h0M181.1,578.8h0M156.9,595.1h0M169.4,575.6h0M177.2,575.7h0M190.1,562.9h0M155.3,584.3h0M165.2,591.4h0M167.9,584.3h0M166.9,592.2h0M164.0,591.3h0M164.0,585.0h0M160.8,597.7h0M176.2,578.5h0M92.7,637.3h0M150.2,597.4h0M187.0,574.1h0M126.6,619.4h0M152.2,595.1h0M158.8,602.3h0M156.9,592.9h0M151.1,593.0h0M146.0,605.2h0M157.6,582.2h0M150.7,576.6h0M161.4,591.9h0M160.9,587.9h0M168.2,581.7h0M131.3,608.2h0M170.4,589.3h0M169.4,576.6h0M158.8,592.2h0M119.4,621.3h0M177.7,575.9h0M128.5,623.4h0M171.8,579.1h0M166.0,570.7h0M160.5,591.3h0M144.9,604.4h0M128.9,605.1h0M187.7,561.9h0M162.7,593.1h0M178.0,571.8h0M169.3,590.9h0M216.1,550.9h0M125.7,622.4h0M161.7,597.5h0M101.2,627.2h0M162.1,588.0h0M161.3,584.1h0M180.4,588.9h0M158.3,586.2h0M164.8,589.1h0M190.7,553.6h0M185.7,573.8h0M127.8,603.1h0M160.0,609.8h0M159.1,583.5h0M173.2,579.2h0M109.0,619.3h0M158.7,599.1h0M156.6,582.7h0M175.3,578.0h0M122.7,617.9h0M128.4,605.9h0M132.8,607.7h0M163.2,586.1h0M94.0,643.8h0M152.5,599.7h0M147.3,589.7h0M192.1,566.9h0M139.7,614.0h0M187.5,566.1h0M180.5,568.5h0M176.3,580.8h0M205.5,551.0h0M112.5,612.0h0M145.4,601.5h0M158.3,591.1h0M119.0,610.3h0M208.1,551.1h0M143.7,604.8h0M123.2,619.8h0M164.8,577.1h0M180.6,580.4h0M183.3,567.4h0M214.3,549.0h0M135.7,596.9h0M181.9,578.5h0M152.0,594.0h0M195.0,568.7h0M159.5,590.2h0M151.6,592.7h0M176.5,578.8h0M138.1,598.2h0M170.4,571.1h0M139.5,605.6h0M161.6,587.0h0M171.5,587.9h0M167.8,584.0h0M173.1,572.3h0M192.8,567.7h0M175.6,571.1h0M200.2,554.0h0M179.1,567.7h0M173.5,570.5h0M194.7,567.5h0M186.3,573.1h0M141.7,610.8h0M117.2,608.2h0M168.0,573.3h0M167.4,581.8h0M156.5,598.2h0M181.6,574.8h0M99.7,625.0h0M182.7,573.0h0M164.8,587.8h0M187.6,566.4h0M175.6,583.6h0M186.2,569.4h0M123.9,608.0h0M135.7,612.5h0M165.7,575.4h0M175.4,582.0h0M182.6,593.1h0M177.7,576.1h0M160.9,595.8h0M170.0,584.8h0M151.7,590.4h0M203.0,554.5h0M191.3,565.3h0M158.2,590.6h0M199.2,567.4h0M167.9,582.9h0M116.1,622.2h0M131.9,596.1h0M102.8,630.5h0M200.1,553.9h0M181.0,572.4h0M95.4,633.3h0M159.5,596.2h0M177.6,594.6h0M135.4,598.0h0M164.5,569.4h0M101.3,625.2h0M188.2,577.6h0M190.0,572.5h0M177.2,586.9h0M165.2,579.8h0M174.6,605.3h0M154.0,593.0h0M178.1,569.1h0M174.5,576.5h0M204.9,556.8h0M160.8,591.6h0M152.0,595.1h0M146.1,608.9h0M148.1,595.1h0M149.1,593.5h0M177.3,580.3h0M162.1,597.0h0M186.2,571.3h0M128.6,602.5h0M167.7,587.7h0M174.6,592.4h0M185.8,575.5h0M139.6,600.5h0M141.4,600.4h0M168.0,586.0h0M184.6,573.8h0M160.6,581.5h0M185.0,573.0h0M100.3,629.8h0M146.0,591.0h0M156.4,597.9h0M138.0,605.9h0M100.9,629.5h0M169.6,585.3h0M193.2,560.0h0M155.3,596.2h0M178.5,574.8h0M136.1,611.9h0M179.6,572.6h0M148.6,609.0h0M156.7,586.8h0M179.6,585.0h0M148.4,602.6h0M149.1,609.7h0M134.9,612.6h0M163.8,575.7h0M151.1,594.0h0M139.3,597.3h0M171.4,580.2h0M199.5,570.8h0M208.3,558.6h0M165.6,576.8h0M170.0,576.6h0M155.3,588.1h0M206.5,556.3h0M138.3,610.7h0M161.1,593.0h0M186.1,566.7h0M156.8,598.7h0M192.1,563.5h0M175.5,572.1h0M179.5,563.3h0M189.3,564.9h0M184.1,572.8h0M157.2,594.9h0M159.4,594.4h0M159.0,584.6h0M179.1,578.7h0M153.0,594.4h0M155.9,595.8h0M164.7,600.0h0M161.7,599.4h0M196.7,562.8h0M165.5,587.6h0M128.5,607.4h0M165.7,588.4h0M201.0,553.8h0M177.4,581.8h0M201.1,557.5h0M157.0,588.3h0M147.0,610.8h0M133.2,605.7h0M179.9,569.1h0M93.3,603.4h0M159.3,573.9h0M171.5,579.8h0M157.0,597.9h0M179.6,565.9h0M170.2,587.3h0M173.3,579.2h0M172.4,582.4h0M195.1,558.6h0M192.5,563.1h0M163.1,584.9h0M111.5,632.5h0M159.3,581.1h0M166.2,589.7h0M165.7,583.5h0M137.7,605.2h0M185.7,571.5h0M194.1,563.2h0M168.7,589.0h0M164.9,585.4h0M148.9,594.6h0M117.3,622.9h0M161.8,597.2h0M158.3,588.7h0M155.3,596.9h0M180.1,592.8h0M157.8,603.2h0M175.5,581.3h0M173.7,584.1h0M190.1,564.2h0M195.5,567.9h0M190.2,568.9h0M141.4,608.7h0M140.0,598.0h0M176.0,576.8h0M111.5,617.8h0M179.5,571.8h0M122.1,599.0h0M174.8,582.9h0M138.3,593.5h0M125.3,599.9h0M156.0,589.4h0M185.7,579.9h0M204.2,554.6h0M204.6,552.0h0M119.4,615.9h0M112.4,629.5h0M155.2,599.2h0M170.4,583.4h0M195.7,556.9h0M159.8,598.4h0M153.9,609.0h0M139.5,601.4h0M214.6,561.4h0M183.1,572.4h0M150.1,581.1h0M164.0,592.1h0M201.9,556.5h0M152.8,586.7h0M181.7,578.4h0M160.3,589.3h0M123.9,614.3h0M161.8,578.2h0M117.2,618.4h0M122.7,612.4h0M157.4,596.8h0M157.3,598.3h0M194.9,560.1h0M120.1,622.4h0M153.6,591.5h0M151.0,594.8h0M116.7,635.4h0M159.1,593.5h0M183.9,573.3h0M168.9,588.8h0M163.9,597.8h0M211.2,553.1h0M160.2,588.6h0M193.2,566.0h0M190.0,568.6h0M155.7,600.9h0M164.0,593.4h0M150.2,599.3h0M153.5,597.0h0M160.8,590.9h0M121.5,605.5h0M155.6,590.9h0M139.6,603.8h0M199.9,550.3h0M128.7,615.1h0M186.1,568.4h0M162.5,573.8h0M158.3,583.7h0M160.8,592.5h0M143.8,619.3h0M179.4,577.6h0M176.8,572.8h0M165.9,586.6h0M160.4,584.5h0M141.4,617.6h0M161.1,592.1h0M173.2,580.1h0M173.5,574.0h0M193.2,567.5h0M188.5,556.3h0M181.1,576.7h0M158.0,596.7h0M164.9,591.4h0M169.8,587.3h0M190.2,569.4h0M140.9,595.3h0M184.4,577.0h0M196.8,562.6h0M183.8,572.4h0M191.8,559.7h0M172.7,582.2h0M189.4,565.0h0M145.9,599.6h0M165.3,594.4h0M180.7,569.0h0M187.8,567.3h0M165.5,580.7h0M162.0,580.1h0M196.5,564.7h0M110.5,617.8h0M157.7,588.7h0M174.0,578.9h0M194.9,558.7h0M208.3,552.5h0M199.8,559.4h0M156.2,592.0h0M174.1,572.2h0M173.2,562.4h0M161.5,572.9h0M175.7,595.8h0M177.9,578.1h0M107.0,660.5h0M189.9,571.9h0M205.3,554.0h0M178.0,573.1h0M145.2,602.2h0M197.7,555.5h0M169.1,590.9h0M187.2,568.3h0M116.2,617.4h0M181.0,571.5h0M144.7,592.5h0M195.3,558.9h0M177.1,577.5h0M190.1,569.8h0M141.0,606.2h0M150.6,597.2h0M140.2,597.1h0M149.1,593.0h0M145.1,597.7h0M151.0,582.9h0M173.8,584.0h0M124.4,612.6h0M180.3,574.8h0M130.3,607.6h0M169.6,582.0h0M191.2,561.9h0M160.4,593.1h0M102.3,627.5h0M143.2,592.8h0M139.8,607.7h0M173.6,582.4h0M169.7,578.9h0M184.3,570.1h0M136.4,595.9h0M97.3,642.5h0M174.9,573.2h0M179.0,574.0h0M140.4,593.2h0M163.0,598.5h0M129.9,601.3h0M178.9,584.2h0M154.5,588.9h0M134.0,617.2h0M162.9,579.8h0M134.7,599.9h0M177.1,572.8h0M141.7,608.6h0M148.3,602.5h0M172.2,577.3h0M171.7,581.0h0M167.2,581.0h0M171.5,582.7h0M153.6,587.3h0M157.4,586.3h0M134.8,601.7h0M176.1,581.8h0M161.7,598.1h0M141.2,598.0h0M191.9,562.8h0M165.3,599.6h0M142.7,604.5h0M168.5,564.0h0M115.9,620.4h0M179.7,573.0h0M186.3,576.0h0M161.6,588.0h0M176.0,575.8h0M172.8,575.2h0M159.0,593.0h0M208.2,552.0h0M148.0,599.4h0M103.3,611.5h0M212.3,547.7h0M150.0,593.0h0M162.1,588.6h0M175.8,572.1h0M177.4,575.3h0M201.0,558.9h0M185.3,570.1h0M182.7,577.1h0M171.7,595.4h0M189.4,571.0h0M159.3,591.9h0M138.8,603.5h0M189.2,561.6h0M147.3,595.4h0M200.7,559.0h0M108.5,622.0h0M194.0,561.9h0M144.8,604.4h0M146.1,604.1h0M130.2,622.6h0M167.0,586.3h0M185.6,568.7h0M142.1,598.4h0M179.3,578.4h0M186.2,570.8h0M114.9,597.3h0M168.2,577.4h0M174.3,577.2h0M165.9,586.4h0M180.2,572.9h0M201.0,559.8h0M97.7,639.3h0M153.7,603.3h0M152.0,593.8h0M167.7,587.3h0M166.4,584.9h0M166.2,589.5h0M172.3,576.3h0M200.8,559.1h0M160.4,578.1h0M163.7,583.8h0M148.9,595.5h0M186.8,564.9h0M180.9,578.0h0M120.4,609.5h0M170.0,583.1h0M169.5,588.6h0M178.2,577.2h0M179.7,573.0h0M190.3,567.2h0M146.9,598.8h0M152.6,588.1h0M107.7,620.4h0M132.8,601.6h0M151.5,594.2h0M160.9,591.6h0M168.3,585.0h0M144.0,609.2h0M166.1,582.6h0M137.6,596.0h0M162.4,583.4h0M166.9,570.4h0M196.4,553.1h0M187.9,575.7h0M135.0,605.8h0M184.4,568.8h0M156.1,594.4h0M168.2,574.9h0M178.9,580.4h0M153.5,602.8h0M175.4,574.3h0M178.3,580.3h0M123.4,610.9h0M168.1,578.6h0M146.7,594.0h0M194.6,547.6h0M180.8,578.5h0M166.1,577.8h0M179.3,567.2h0M103.1,632.2h0M169.3,580.4h0M154.3,587.1h0M191.5,574.9h0M174.7,569.7h0M165.2,592.9h0M156.5,592.1h0M195.1,561.3h0M181.5,591.1h0M204.1,556.9h0M166.5,578.5h0M142.7,615.9h0M139.7,602.2h0M108.7,630.7h0M172.2,585.9h0M148.4,587.9h0M174.7,578.3h0M186.6,565.7h0M175.0,575.7h0M176.7,580.8h0M169.9,583.5h0M178.2,584.8h0M193.7,555.2h0M196.5,561.8h0M201.2,571.5h0M174.9,582.0h0M170.4,590.8h0M172.1,579.2h0M195.0,566.1h0M158.3,595.0h0M131.6,616.7h0M172.8,582.6h0M208.5,548.2h0M150.8,586.4h0M171.5,584.1h0M158.3,584.4h0M143.7,609.4h0M155.5,590.4h0M163.9,588.9h0M166.7,586.1h0M134.5,609.5h0M170.4,574.6h0M155.8,595.0h0M114.1,613.1h0M150.1,594.5h0M149.0,585.9h0M209.4,555.5h0M201.7,558.6h0M161.1,598.7h0M171.0,580.8h0M185.3,575.6h0M155.1,588.6h0M151.4,591.2h0M131.0,607.2h0M165.8,597.4h0M171.2,578.8h0M196.8,558.3h0M140.8,612.8h0M159.5,596.1h0M138.9,585.8h0M158.3,585.4h0M155.6,602.1h0M135.7,608.5h0M200.8,560.6h0M160.5,586.0h0M149.7,595.8h0M142.6,598.7h0M204.4,552.3h0M171.5,577.2h0M163.6,585.5h0M191.2,561.9h0M162.6,589.3h0M166.8,588.7h0M166.4,593.9h0M131.7,615.6h0M185.0,570.0h0M117.3,616.2h0M167.2,595.9h0M102.3,640.0h0M162.1,590.3h0M177.3,578.9h0M103.6,632.6h0M175.7,579.2h0M161.3,587.6h0M206.8,555.5h0M168.5,576.0h0M118.9,612.5h0M186.7,564.3h0M205.2,551.8h0M173.1,584.6h0M100.3,634.3h0M163.4,583.1h0M159.0,591.1h0M187.9,577.6h0M147.0,596.6h0M139.0,597.4h0M181.9,568.3h0M144.3,601.6h0M149.0,605.2h0M154.4,589.9h0M97.5,637.1h0M192.5,560.0h0M163.6,595.7h0M149.5,597.2h0M140.3,618.2h0M149.3,591.9h0M191.0,562.6h0M109.2,615.9h0M164.0,585.7h0M209.4,551.4h0M119.2,621.6h0M165.9,585.2h0M168.8,582.4h0M158.7,588.3h0M200.3,555.6h0M160.6,590.4h0M151.3,591.9h0M110.4,638.3h0M157.6,586.4h0M178.8,579.8h0M174.7,574.6h0M152.4,590.4h0M183.0,572.1h0M160.8,584.4h0M192.7,571.9h0M188.8,567.3h0M156.8,598.4h0M168.8,581.8h0M199.9,560.7h0M203.3,553.1h0M157.2,591.3h0M155.7,595.6h0M211.3,551.5h0M144.1,601.3h0M198.8,563.5h0M193.6,568.5h0M157.6,589.5h0M184.7,575.8h0M192.1,561.7h0M164.2,587.8h0M162.7,591.1h0M113.9,619.5h0M124.2,607.7h0M155.1,596.9h0M147.4,592.2h0M176.8,578.4h0M179.8,567.5h0M121.2,618.9h0M168.3,588.9h0M193.0,565.6h0M199.8,552.6h0M178.0,571.3h0M150.8,594.7h0M171.5,569.1h0M148.7,596.4h0M126.8,605.5h0M164.3,586.9h0M152.2,593.8h0M171.4,587.6h0M200.9,549.0h0M201.7,554.8h0M179.2,575.1h0M147.1,592.2h0M164.3,578.9h0M151.7,590.6h0M181.6,582.3h0M168.0,574.0h0M169.2,582.3h0M133.5,587.7h0M154.3,595.8h0M164.0,590.4h0M147.5,599.3h0M171.0,579.6h0M180.0,566.7h0M125.7,608.0h0M213.8,552.2h0M156.0,604.9h0M171.3,577.7h0M188.2,565.6h0M152.9,593.3h0M162.3,593.9h0M168.5,587.5h0M185.0,570.4h0M163.1,582.0h0M155.7,587.9h0M154.0,592.3h0M167.3,581.1h0M184.1,588.5h0M170.5,586.7h0M118.0,626.4h0M194.0,569.8h0M178.6,572.9h0M139.5,599.9h0M141.5,593.5h0M158.6,586.4h0M123.6,612.7h0M160.1,598.5h0M136.5,596.4h0M110.1,625.0h0M197.4,566.6h0M165.3,580.4h0M194.0,573.2h0M172.7,581.4h0M174.5,570.9h0M178.0,569.3h0M188.5,562.1h0M188.9,563.9h0M146.8,592.7h0M177.9,589.2h0M151.1,590.7h0M194.9,570.6h0M184.5,582.1h0M180.5,571.0h0M194.8,563.0h0M143.9,588.9h0M184.3,568.1h0M120.9,615.9h0M206.4,555.5h0M156.3,596.6h0M207.0,552.9h0M183.3,565.8h0M159.1,581.7h0M165.1,584.6h0M197.5,562.3h0M168.3,589.6h0M179.6,571.3h0M173.6,574.8h0M209.9,547.9h0M154.8,600.4h0M197.3,569.1h0M200.8,561.6h0M146.1,595.5h0M186.4,571.0h0M162.2,593.8h0M135.2,596.4h0M143.2,592.4h0M177.3,569.7h0M94.5,636.4h0M188.8,569.0h0M184.3,567.9h0M187.8,561.3h0M153.2,595.0h0M171.2,576.3h0M129.4,602.3h0M188.3,574.2h0M143.5,605.5h0M173.3,578.0h0M176.0,576.6h0M132.1,620.2h0M140.1,605.7h0M176.6,578.1h0M194.6,563.1h0M133.7,603.0h0M159.1,591.6h0M146.0,615.9h0M181.5,564.9h0M183.9,571.4h0M182.5,574.8h0M135.7,614.6h0M182.0,560.6h0M164.6,578.3h0M177.7,582.7h0M148.8,601.6h0M158.5,590.5h0M160.6,608.6h0M165.1,584.4h0M175.3,579.4h0M195.0,558.6h0M150.3,593.8h0M161.4,587.4h0M153.4,595.9h0M168.6,595.5h0M160.1,586.9h0M155.9,583.4h0M146.7,606.0h0M161.8,592.1h0M144.0,592.9h0M188.3,569.3h0M202.1,562.4h0M185.7,572.6h0M186.1,575.1h0M203.9,555.3h0M157.0,588.1h0M175.5,592.0h0M159.2,600.5h0M164.3,598.1h0M187.4,564.3h0M171.5,575.8h0M176.2,579.6h0M146.1,582.7h0M182.6,577.6h0M145.2,606.4h0M172.0,583.5h0M158.9,590.1h0M143.5,595.7h0M159.7,589.6h0M188.1,573.1h0M170.6,583.8h0M178.8,584.4h0M143.3,611.1h0M137.3,603.3h0M128.5,606.5h0M162.3,574.2h0M180.0,578.0h0M136.3,600.1h0M189.4,569.9h0M158.3,586.4h0M204.6,548.9h0M189.5,554.8h0M205.4,549.4h0M190.8,570.1h0M134.8,604.8h0M151.5,608.3h0M159.6,598.0h0M166.1,588.8h0M173.4,598.0h0M132.7,604.1h0M170.4,588.7h0M158.3,586.6h0M171.8,581.2h0M126.6,609.2h0M214.5,552.4h0M138.6,595.9h0M169.0,570.4h0M154.3,596.3h0M139.0,605.3h0M157.2,583.3h0M162.4,594.6h0M199.1,560.7h0M148.7,600.1h0M164.1,587.9h0M159.5,593.6h0M108.1,620.7h0M165.5,580.5h0M162.4,591.0h0M175.9,572.7h0M177.0,573.7h0M199.6,565.1h0M182.4,565.0h0M210.2,553.0h0M169.5,605.5h0M135.1,606.4h0M143.1,615.1h0M149.9,603.3h0M146.8,609.4h0M182.0,576.8h0M159.6,592.4h0M167.5,577.3h0M172.7,584.6h0M194.7,560.9h0M186.8,572.8h0M138.7,600.8h0M128.6,614.1h0M170.4,590.8h0M167.4,585.9h0M177.0,580.2h0M183.9,576.8h0M187.8,572.3h0M117.2,609.0h0M144.9,592.1h0M147.0,611.8h0M208.1,548.5h0M178.8,575.8h0M175.4,579.9h0M149.7,597.9h0M164.6,579.4h0M177.5,594.7h0M170.5,580.9h0M164.9,582.8h0M172.7,571.4h0M114.8,619.9h0M178.5,575.4h0M194.4,565.4h0M188.8,566.3h0M188.5,562.7h0M181.4,570.4h0M174.2,578.7h0M135.2,606.9h0M174.5,583.2h0M146.3,607.4h0M170.7,610.4h0M150.9,606.2h0M152.0,591.8h0M167.7,590.0h0M171.6,585.9h0M195.6,557.2h0M174.5,584.9h0M131.0,612.6h0M155.2,609.2h0M169.0,582.7h0M168.8,586.1h0M194.0,553.1h0M206.8,561.3h0M156.9,583.4h0M150.7,582.3h0M167.3,580.6h0M185.0,573.1h0M178.4,580.9h0M179.4,576.4h0M169.8,583.8h0M172.9,584.8h0M171.8,575.4h0M154.4,594.4h0M171.0,583.8h0M190.1,572.4h0M192.5,565.0h0M180.9,574.9h0M162.0,580.1h0M176.0,577.3h0M182.7,572.2h0M160.7,591.2h0M170.4,579.7h0M164.6,593.7h0M192.8,564.9h0M153.4,593.5h0M142.4,610.0h0M171.2,585.8h0M172.7,580.5h0M93.0,655.4h0M174.3,582.0h0M151.2,588.2h0M161.6,591.0h0M157.8,593.0h0M213.1,547.4h0M168.3,587.9h0M183.5,578.7h0M167.4,576.0h0M116.2,600.4h0M94.8,621.4h0M95.6,628.0h0M111.6,612.3h0M184.2,575.5h0M187.2,570.2h0M156.1,591.0h0M188.2,564.8h0M203.8,553.7h0M157.7,595.7h0M118.8,636.1h0M177.2,578.8h0M150.9,601.9h0M153.5,599.0h0M179.3,567.8h0M166.9,590.1h0M206.1,558.2h0M167.0,587.9h0M150.7,613.3h0M179.5,580.3h0M99.6,626.5h0M104.1,628.5h0M203.0,554.3h0M190.5,569.0h0M157.0,605.1h0M200.5,570.5h0M120.6,645.9h0M176.7,584.6h0M188.4,569.6h0M166.0,587.9h0M198.3,558.1h0M172.4,575.2h0M138.0,619.0h0M108.4,621.1h0M180.2,577.5h0M174.9,583.4h0M108.5,616.1h0M164.4,571.0h0M211.2,546.4h0M139.1,596.8h0M157.3,581.8h0M172.2,593.6h0M197.0,560.1h0M136.4,592.0h0M156.3,588.2h0M166.9,585.2h0M145.8,596.4h0M168.0,582.6h0M161.0,586.1h0M175.9,574.7h0M150.0,599.2h0M153.8,601.7h0M180.3,574.5h0M151.3,596.5h0M202.5,556.4h0M146.8,600.6h0M180.7,590.5h0M121.9,622.4h0M167.4,593.2h0M166.7,583.4h0M157.7,593.6h0M164.3,583.4h0M178.8,571.1h0M170.2,587.3h0M127.1,621.6h0M149.0,593.7h0M178.3,576.8h0M155.6,595.0h0M168.0,579.1h0M103.7,634.9h0M103.1,620.9h0M187.6,564.3h0M97.8,638.8h0M155.8,600.4h0M156.3,591.0h0M168.8,578.6h0M145.7,597.5h0M179.1,580.9h0M189.0,561.9h0M187.2,557.3h0M159.2,600.1h0M160.5,591.0h0M181.9,570.1h0M151.6,593.2h0M159.5,591.0h0M114.0,632.9h0M190.7,564.2h0M185.0,565.7h0M179.3,583.1h0M197.4,558.7h0M177.8,575.6h0M169.9,579.9h0M124.7,617.8h0M151.4,614.5h0M163.4,586.1h0M184.6,582.8h0M160.3,593.1h0M203.7,555.4h0M163.7,585.7h0M121.2,605.6h0M150.4,599.9h0M163.7,589.5h0M160.9,597.1h0M187.0,567.2h0M156.7,588.3h0M156.5,589.6h0M110.9,617.4h0M103.7,628.7h0M184.0,567.6h0M148.0,601.9h0M167.3,582.8h0M130.6,605.8h0M179.4,571.9h0M164.5,587.5h0M165.6,586.5h0M164.3,585.2h0M174.8,577.2h0M121.1,627.4h0M159.2,599.4h0M178.3,559.1h0M175.2,582.0h0M147.2,590.3h0M145.3,604.8h0M177.7,576.3h0M177.6,572.0h0M205.3,556.1h0M150.7,597.1h0M149.7,620.9h0M198.0,558.1h0M156.6,607.5h0M147.6,586.6h0M173.2,578.1h0M139.2,608.9h0M179.5,566.6h0M164.6,587.4h0M182.2,574.3h0M179.5,566.9h0M139.8,596.7h0M139.4,610.3h0M158.7,601.3h0M121.6,606.4h0M178.4,594.2h0M135.6,607.3h0M128.7,590.6h0M78.5,631.2h0" stroke="#17b6c8" stroke-width="2.3" stroke-linecap="round" fill="none"/>
<g><circle cx="244.5" cy="519.6" r="4.3" fill="none" stroke="#17b6c8" stroke-width="0.9"/><circle cx="243.9" cy="522.8" r="4.3" fill="none" stroke="#17b6c8" stroke-width="0.9"/><circle cx="254.2" cy="522.6" r="4.3" fill="none" stroke="#17b6c8" stroke-width="0.9"/><circle cx="232.1" cy="525.5" r="4.3" fill="none" stroke="#17b6c8" stroke-width="0.9"/><circle cx="217.4" cy="528.2" r="4.3" fill="none" stroke="#17b6c8" stroke-width="0.9"/><circle cx="237.8" cy="528.7" r="4.3" fill="none" stroke="#17b6c8" stroke-width="0.9"/><circle cx="243.9" cy="529.1" r="4.3" fill="none" stroke="#17b6c8" stroke-width="0.9"/><circle cx="244.9" cy="530.5" r="4.3" fill="none" stroke="#17b6c8" stroke-width="0.9"/><circle cx="247.6" cy="531.2" r="4.3" fill="none" stroke="#17b6c8" stroke-width="0.9"/><circle cx="232.5" cy="528.8" r="4.3" fill="none" stroke="#17b6c8" stroke-width="0.9"/><circle cx="231.2" cy="529.7" r="4.3" fill="none" stroke="#17b6c8" stroke-width="0.9"/><circle cx="230.3" cy="530.3" r="4.3" fill="none" stroke="#17b6c8" stroke-width="0.9"/><circle cx="233.8" cy="531.6" r="4.3" fill="none" stroke="#17b6c8" stroke-width="0.9"/><circle cx="234.3" cy="533.5" r="4.3" fill="none" stroke="#17b6c8" stroke-width="0.9"/><circle cx="236.7" cy="534.0" r="4.3" fill="none" stroke="#17b6c8" stroke-width="0.9"/><circle cx="229.0" cy="531.6" r="4.3" fill="none" stroke="#17b6c8" stroke-width="0.9"/><circle cx="229.2" cy="533.5" r="4.3" fill="none" stroke="#17b6c8" stroke-width="0.9"/><circle cx="229.6" cy="534.9" r="4.3" fill="none" stroke="#17b6c8" stroke-width="0.9"/><circle cx="226.1" cy="532.5" r="4.3" fill="none" stroke="#17b6c8" stroke-width="0.9"/><circle cx="225.9" cy="535.1" r="4.3" fill="none" stroke="#17b6c8" stroke-width="0.9"/><circle cx="223.9" cy="531.4" r="4.3" fill="none" stroke="#17b6c8" stroke-width="0.9"/><circle cx="224.7" cy="532.2" r="4.3" fill="none" stroke="#17b6c8" stroke-width="0.9"/><circle cx="218.5" cy="533.5" r="4.3" fill="none" stroke="#17b6c8" stroke-width="0.9"/><circle cx="222.0" cy="535.7" r="4.3" fill="none" stroke="#17b6c8" stroke-width="0.9"/><circle cx="231.2" cy="539.9" r="4.3" fill="none" stroke="#17b6c8" stroke-width="0.9"/><circle cx="231.2" cy="542.1" r="4.3" fill="none" stroke="#17b6c8" stroke-width="0.9"/><circle cx="231.4" cy="543.2" r="4.3" fill="none" stroke="#17b6c8" stroke-width="0.9"/><circle cx="227.3" cy="537.7" r="4.3" fill="none" stroke="#17b6c8" stroke-width="0.9"/><circle cx="220.1" cy="535.5" r="4.3" fill="none" stroke="#17b6c8" stroke-width="0.9"/><circle cx="221.8" cy="535.7" r="4.3" fill="none" stroke="#17b6c8" stroke-width="0.9"/><circle cx="224.9" cy="532.2" r="4.3" fill="none" stroke="#17b6c8" stroke-width="0.9"/><circle cx="225.8" cy="534.4" r="4.3" fill="none" stroke="#17b6c8" stroke-width="0.9"/><circle cx="226.7" cy="540.6" r="4.3" fill="none" stroke="#17b6c8" stroke-width="0.9"/><circle cx="216.9" cy="535.6" r="4.3" fill="none" stroke="#17b6c8" stroke-width="0.9"/><circle cx="216.3" cy="539.8" r="4.3" fill="none" stroke="#17b6c8" stroke-width="0.9"/><circle cx="219.2" cy="541.3" r="4.3" fill="none" stroke="#17b6c8" stroke-width="0.9"/><circle cx="219.4" cy="543.9" r="4.3" fill="none" stroke="#17b6c8" stroke-width="0.9"/><circle cx="220.9" cy="544.5" r="4.3" fill="none" stroke="#17b6c8" stroke-width="0.9"/><circle cx="219.7" cy="544.2" r="4.3" fill="none" stroke="#17b6c8" stroke-width="0.9"/><circle cx="221.7" cy="544.3" r="4.3" fill="none" stroke="#17b6c8" stroke-width="0.9"/><circle cx="226.5" cy="542.5" r="4.3" fill="none" stroke="#17b6c8" stroke-width="0.9"/><circle cx="225.1" cy="543.1" r="4.3" fill="none" stroke="#17b6c8" stroke-width="0.9"/><circle cx="218.8" cy="538.0" r="4.3" fill="none" stroke="#17b6c8" stroke-width="0.9"/><circle cx="219.2" cy="542.8" r="4.3" fill="none" stroke="#17b6c8" stroke-width="0.9"/><circle cx="226.5" cy="542.0" r="4.3" fill="none" stroke="#17b6c8" stroke-width="0.9"/><circle cx="224.6" cy="540.4" r="4.3" fill="none" stroke="#17b6c8" stroke-width="0.9"/><circle cx="227.2" cy="542.6" r="4.3" fill="none" stroke="#17b6c8" stroke-width="0.9"/><circle cx="219.4" cy="539.9" r="4.3" fill="none" stroke="#17b6c8" stroke-width="0.9"/><circle cx="218.7" cy="538.1" r="4.3" fill="none" stroke="#17b6c8" stroke-width="0.9"/><circle cx="217.6" cy="539.3" r="4.3" fill="none" stroke="#17b6c8" stroke-width="0.9"/><circle cx="216.9" cy="544.1" r="4.3" fill="none" stroke="#17b6c8" stroke-width="0.9"/><circle cx="221.3" cy="539.7" r="4.3" fill="none" stroke="#17b6c8" stroke-width="0.9"/><circle cx="216.9" cy="541.3" r="4.3" fill="none" stroke="#17b6c8" stroke-width="0.9"/><circle cx="218.7" cy="542.3" r="4.3" fill="none" stroke="#17b6c8" stroke-width="0.9"/><circle cx="216.9" cy="539.9" r="4.3" fill="none" stroke="#17b6c8" stroke-width="0.9"/><circle cx="224.3" cy="540.8" r="4.3" fill="none" stroke="#17b6c8" stroke-width="0.9"/><circle cx="218.1" cy="541.2" r="4.3" fill="none" stroke="#17b6c8" stroke-width="0.9"/><circle cx="220.5" cy="542.4" r="4.3" fill="none" stroke="#17b6c8" stroke-width="0.9"/><circle cx="225.5" cy="541.9" r="4.3" fill="none" stroke="#17b6c8" stroke-width="0.9"/><circle cx="222.7" cy="541.4" r="4.3" fill="none" stroke="#17b6c8" stroke-width="0.9"/><circle cx="217.5" cy="539.5" r="4.3" fill="none" stroke="#17b6c8" stroke-width="0.9"/><circle cx="220.8" cy="542.7" r="4.3" fill="none" stroke="#17b6c8" stroke-width="0.9"/><circle cx="217.5" cy="542.8" r="4.3" fill="none" stroke="#17b6c8" stroke-width="0.9"/><circle cx="228.1" cy="538.4" r="4.3" fill="none" stroke="#17b6c8" stroke-width="0.9"/><circle cx="219.7" cy="542.9" r="4.3" fill="none" stroke="#17b6c8" stroke-width="0.9"/><circle cx="223.1" cy="537.9" r="4.3" fill="none" stroke="#17b6c8" stroke-width="0.9"/><circle cx="230.2" cy="539.1" r="4.3" fill="none" stroke="#17b6c8" stroke-width="0.9"/><circle cx="220.6" cy="541.3" r="4.3" fill="none" stroke="#17b6c8" stroke-width="0.9"/><circle cx="218.7" cy="540.6" r="4.3" fill="none" stroke="#17b6c8" stroke-width="0.9"/><circle cx="219.3" cy="543.7" r="4.3" fill="none" stroke="#17b6c8" stroke-width="0.9"/><circle cx="225.1" cy="542.0" r="4.3" fill="none" stroke="#17b6c8" stroke-width="0.9"/><circle cx="221.1" cy="542.1" r="4.3" fill="none" stroke="#17b6c8" stroke-width="0.9"/><circle cx="226.9" cy="541.0" r="4.3" fill="none" stroke="#17b6c8" stroke-width="0.9"/><circle cx="219.3" cy="541.3" r="4.3" fill="none" stroke="#17b6c8" stroke-width="0.9"/><circle cx="223.9" cy="544.2" r="4.3" fill="none" stroke="#17b6c8" stroke-width="0.9"/><circle cx="221.6" cy="543.0" r="4.3" fill="none" stroke="#17b6c8" stroke-width="0.9"/><circle cx="216.4" cy="543.5" r="4.3" fill="none" stroke="#17b6c8" stroke-width="0.9"/><circle cx="222.8" cy="543.6" r="4.3" fill="none" stroke="#17b6c8" stroke-width="0.9"/><circle cx="220.2" cy="543.3" r="4.3" fill="none" stroke="#17b6c8" stroke-width="0.9"/><circle cx="225.7" cy="541.9" r="4.3" fill="none" stroke="#17b6c8" stroke-width="0.9"/><circle cx="222.2" cy="543.9" r="4.3" fill="none" stroke="#17b6c8" stroke-width="0.9"/><circle cx="222.1" cy="541.9" r="4.3" fill="none" stroke="#17b6c8" stroke-width="0.9"/><circle cx="219.5" cy="543.9" r="4.3" fill="none" stroke="#17b6c8" stroke-width="0.9"/><circle cx="224.0" cy="542.8" r="4.3" fill="none" stroke="#17b6c8" stroke-width="0.9"/><circle cx="228.3" cy="541.3" r="4.3" fill="none" stroke="#17b6c8" stroke-width="0.9"/><circle cx="218.7" cy="543.3" r="4.3" fill="none" stroke="#17b6c8" stroke-width="0.9"/><circle cx="223.9" cy="541.4" r="4.3" fill="none" stroke="#17b6c8" stroke-width="0.9"/></g>
<g><path d="M241.3,542.8L247.3,548.8M241.3,548.8L247.3,542.8" stroke="#a83228" stroke-width="0.9" fill="none"/><path d="M226.6,544.8L232.6,550.8M226.6,550.8L232.6,544.8" stroke="#a83228" stroke-width="0.9" fill="none"/><path d="M223.0,547.2L229.0,553.2M223.0,553.2L229.0,547.2" stroke="#a83228" stroke-width="0.9" fill="none"/><path d="M221.7,551.5L227.7,557.5M221.7,557.5L227.7,551.5" stroke="#a83228" stroke-width="0.9" fill="none"/><path d="M217.5,548.1L223.5,554.1M217.5,554.1L223.5,548.1" stroke="#a83228" stroke-width="0.9" fill="none"/><path d="M217.0,544.3L223.0,550.3M217.0,550.3L223.0,544.3" stroke="#a83228" stroke-width="0.9" fill="none"/><path d="M218.2,543.4L224.2,549.4M218.2,549.4L224.2,543.4" stroke="#a83228" stroke-width="0.9" fill="none"/><path d="M215.6,542.0L221.6,548.0M215.6,548.0L221.6,542.0" stroke="#a83228" stroke-width="0.9" fill="none"/><path d="M217.7,546.4L223.7,552.4M217.7,552.4L223.7,546.4" stroke="#a83228" stroke-width="0.9" fill="none"/><path d="M217.4,544.0L223.4,550.0M217.4,550.0L223.4,544.0" stroke="#a83228" stroke-width="0.9" fill="none"/><path d="M213.7,544.1L219.7,550.1M213.7,550.1L219.7,544.1" stroke="#a83228" stroke-width="0.9" fill="none"/><path d="M216.1,546.4L222.1,552.4M216.1,552.4L222.1,546.4" stroke="#a83228" stroke-width="0.9" fill="none"/><path d="M216.0,546.7L222.0,552.7M216.0,552.7L222.0,546.7" stroke="#a83228" stroke-width="0.9" fill="none"/><path d="M213.6,544.0L219.6,550.0M213.6,550.0L219.6,544.0" stroke="#a83228" stroke-width="0.9" fill="none"/><path d="M214.7,542.4L220.7,548.4M214.7,548.4L220.7,542.4" stroke="#a83228" stroke-width="0.9" fill="none"/><path d="M216.9,544.5L222.9,550.5M216.9,550.5L222.9,544.5" stroke="#a83228" stroke-width="0.9" fill="none"/><path d="M215.0,545.5L221.0,551.5M215.0,551.5L221.0,545.5" stroke="#a83228" stroke-width="0.9" fill="none"/><path d="M214.9,547.4L220.9,553.4M214.9,553.4L220.9,547.4" stroke="#a83228" stroke-width="0.9" fill="none"/><path d="M219.9,547.9L225.9,553.9M219.9,553.9L225.9,547.9" stroke="#a83228" stroke-width="0.9" fill="none"/><path d="M214.2,544.4L220.2,550.4M214.2,550.4L220.2,544.4" stroke="#a83228" stroke-width="0.9" fill="none"/><path d="M214.6,546.2L220.6,552.2M214.6,552.2L220.6,546.2" stroke="#a83228" stroke-width="0.9" fill="none"/><path d="M215.4,544.5L221.4,550.5M215.4,550.5L221.4,544.5" stroke="#a83228" stroke-width="0.9" fill="none"/><path d="M214.0,543.0L220.0,549.0M214.0,549.0L220.0,543.0" stroke="#a83228" stroke-width="0.9" fill="none"/><path d="M218.0,544.3L224.0,550.3M218.0,550.3L224.0,544.3" stroke="#a83228" stroke-width="0.9" fill="none"/><path d="M219.8,542.9L225.8,548.9M219.8,548.9L225.8,542.9" stroke="#a83228" stroke-width="0.9" fill="none"/><path d="M215.2,543.7L221.2,549.7M215.2,549.7L221.2,543.7" stroke="#a83228" stroke-width="0.9" fill="none"/><path d="M215.9,542.7L221.9,548.7M215.9,548.7L221.9,542.7" stroke="#a83228" stroke-width="0.9" fill="none"/><path d="M217.1,545.8L223.1,551.8M217.1,551.8L223.1,545.8" stroke="#a83228" stroke-width="0.9" fill="none"/><path d="M214.1,547.9L220.1,553.9M214.1,553.9L220.1,547.9" stroke="#a83228" stroke-width="0.9" fill="none"/><path d="M216.0,542.4L222.0,548.4M216.0,548.4L222.0,542.4" stroke="#a83228" stroke-width="0.9" fill="none"/><path d="M213.5,544.4L219.5,550.4M213.5,550.4L219.5,544.4" stroke="#a83228" stroke-width="0.9" fill="none"/><path d="M213.8,542.2L219.8,548.2M213.8,548.2L219.8,542.2" stroke="#a83228" stroke-width="0.9" fill="none"/><path d="M214.4,547.7L220.4,553.7M214.4,553.7L220.4,547.7" stroke="#a83228" stroke-width="0.9" fill="none"/></g>
<g><path d="M208.2,527.2L212.4,532.4L208.2,537.6L204.0,532.4Z" stroke="#a83228" stroke-width="0.9" fill="none"/><path d="M212.7,528.8L216.9,534.0L212.7,539.2L208.5,534.0Z" stroke="#a83228" stroke-width="0.9" fill="none"/><path d="M206.6,533.8L210.8,539.0L206.6,544.2L202.4,539.0Z" stroke="#a83228" stroke-width="0.9" fill="none"/><path d="M199.4,539.3L203.6,544.5L199.4,549.7L195.2,544.5Z" stroke="#a83228" stroke-width="0.9" fill="none"/><path d="M210.0,532.9L214.2,538.1L210.0,543.3L205.8,538.1Z" stroke="#a83228" stroke-width="0.9" fill="none"/><path d="M212.0,530.7L216.2,535.9L212.0,541.1L207.8,535.9Z" stroke="#a83228" stroke-width="0.9" fill="none"/><path d="M212.2,532.0L216.4,537.2L212.2,542.4L208.0,537.2Z" stroke="#a83228" stroke-width="0.9" fill="none"/><path d="M213.1,532.7L217.3,537.9L213.1,543.1L208.9,537.9Z" stroke="#a83228" stroke-width="0.9" fill="none"/><path d="M208.5,535.8L212.7,541.0L208.5,546.2L204.3,541.0Z" stroke="#a83228" stroke-width="0.9" fill="none"/><path d="M209.4,536.4L213.6,541.6L209.4,546.8L205.2,541.6Z" stroke="#a83228" stroke-width="0.9" fill="none"/><path d="M205.6,538.6L209.8,543.8L205.6,549.0L201.4,543.8Z" stroke="#a83228" stroke-width="0.9" fill="none"/><path d="M207.6,539.3L211.8,544.5L207.6,549.7L203.4,544.5Z" stroke="#a83228" stroke-width="0.9" fill="none"/><path d="M210.0,539.3L214.2,544.5L210.0,549.7L205.8,544.5Z" stroke="#a83228" stroke-width="0.9" fill="none"/><path d="M211.8,538.8L216.0,544.0L211.8,549.2L207.6,544.0Z" stroke="#a83228" stroke-width="0.9" fill="none"/><path d="M213.5,538.4L217.7,543.6L213.5,548.8L209.3,543.6Z" stroke="#a83228" stroke-width="0.9" fill="none"/><path d="M214.4,539.0L218.6,544.2L214.4,549.5L210.2,544.2Z" stroke="#a83228" stroke-width="0.9" fill="none"/><path d="M215.0,538.3L219.2,543.5L215.0,548.7L210.8,543.5Z" stroke="#a83228" stroke-width="0.9" fill="none"/><path d="M212.5,537.6L216.7,542.8L212.5,548.0L208.3,542.8Z" stroke="#a83228" stroke-width="0.9" fill="none"/><path d="M212.0,539.1L216.2,544.3L212.0,549.5L207.8,544.3Z" stroke="#a83228" stroke-width="0.9" fill="none"/><path d="M212.7,539.1L216.9,544.3L212.7,549.5L208.5,544.3Z" stroke="#a83228" stroke-width="0.9" fill="none"/><path d="M209.7,537.9L213.9,543.1L209.7,548.3L205.5,543.1Z" stroke="#a83228" stroke-width="0.9" fill="none"/><path d="M215.7,539.0L219.9,544.2L215.7,549.4L211.5,544.2Z" stroke="#a83228" stroke-width="0.9" fill="none"/><path d="M213.8,538.4L218.0,543.6L213.8,548.8L209.6,543.6Z" stroke="#a83228" stroke-width="0.9" fill="none"/><path d="M213.9,539.1L218.1,544.3L213.9,549.5L209.7,544.3Z" stroke="#a83228" stroke-width="0.9" fill="none"/><path d="M215.9,538.8L220.1,544.0L215.9,549.2L211.7,544.0Z" stroke="#a83228" stroke-width="0.9" fill="none"/><path d="M209.9,538.4L214.1,543.6L209.9,548.8L205.7,543.6Z" stroke="#a83228" stroke-width="0.9" fill="none"/><path d="M211.9,539.5L216.1,544.7L211.9,549.9L207.7,544.7Z" stroke="#a83228" stroke-width="0.9" fill="none"/><path d="M216.0,538.3L220.2,543.5L216.0,548.7L211.8,543.5Z" stroke="#a83228" stroke-width="0.9" fill="none"/><path d="M214.8,539.1L219.0,544.3L214.8,549.5L210.6,544.3Z" stroke="#a83228" stroke-width="0.9" fill="none"/><path d="M215.2,539.6L219.4,544.8L215.2,550.0L211.0,544.8Z" stroke="#a83228" stroke-width="0.9" fill="none"/><path d="M212.3,536.4L216.5,541.6L212.3,546.8L208.1,541.6Z" stroke="#a83228" stroke-width="0.9" fill="none"/><path d="M209.2,537.3L213.4,542.5L209.2,547.7L205.0,542.5Z" stroke="#a83228" stroke-width="0.9" fill="none"/></g>
<line x1="38.50" y1="686.30" x2="294.70" y2="482.40" stroke="#8a93b2" stroke-width="1.45"/>
<line x1="38.50" y1="678.14" x2="284.45" y2="482.40" stroke="#3aad3a" stroke-width="1.25" stroke-dasharray="5.5,5"/>
<line x1="48.75" y1="686.30" x2="294.70" y2="490.56" stroke="#3aad3a" stroke-width="1.25" stroke-dasharray="5.5,5"/>
<line x1="216.30" y1="482.4" x2="216.30" y2="686.3" stroke="#8a93b2" stroke-width="1.45"/>
</g>
<line x1="38.5" y1="544.79" x2="295.2" y2="544.79" stroke="#8a93b2" stroke-width="1.45"/>
<rect x="192.22" y="502.79" width="76.86" height="61.17" fill="none" stroke="#a07aa4" stroke-width="2.6"/>
<line x1="38.5" y1="482.4" x2="38.5" y2="686.8" stroke="#626262" stroke-width="1.1"/>
<line x1="38.0" y1="686.3" x2="295.2" y2="686.3" stroke="#626262" stroke-width="1.1"/>
<line x1="38.50" y1="686.3" x2="38.50" y2="683.3" stroke="#626262" stroke-width="1"/>
<line x1="38.5" y1="686.30" x2="41.5" y2="686.30" stroke="#626262" stroke-width="1"/>
<text x="38.50" y="704.30" font-size="14" text-anchor="middle" fill="#222222">2</text>
<text x="32.50" y="691.30" font-size="14" text-anchor="end" fill="#222222">2</text>
<line x1="89.74" y1="686.3" x2="89.74" y2="683.3" stroke="#626262" stroke-width="1"/>
<line x1="38.5" y1="645.52" x2="41.5" y2="645.52" stroke="#626262" stroke-width="1"/>
<text x="89.74" y="704.30" font-size="14" text-anchor="middle" fill="#222222">3</text>
<text x="32.50" y="650.52" font-size="14" text-anchor="end" fill="#222222">3</text>
<line x1="140.98" y1="686.3" x2="140.98" y2="683.3" stroke="#626262" stroke-width="1"/>
<line x1="38.5" y1="604.74" x2="41.5" y2="604.74" stroke="#626262" stroke-width="1"/>
<text x="140.98" y="704.30" font-size="14" text-anchor="middle" fill="#222222">4</text>
<text x="32.50" y="609.74" font-size="14" text-anchor="end" fill="#222222">4</text>
<line x1="192.22" y1="686.3" x2="192.22" y2="683.3" stroke="#626262" stroke-width="1"/>
<line x1="38.5" y1="563.96" x2="41.5" y2="563.96" stroke="#626262" stroke-width="1"/>
<text x="192.22" y="704.30" font-size="14" text-anchor="middle" fill="#222222">5</text>
<text x="32.50" y="568.96" font-size="14" text-anchor="end" fill="#222222">5</text>
<line x1="243.46" y1="686.3" x2="243.46" y2="683.3" stroke="#626262" stroke-width="1"/>
<line x1="38.5" y1="523.18" x2="41.5" y2="523.18" stroke="#626262" stroke-width="1"/>
<text x="243.46" y="704.30" font-size="14" text-anchor="middle" fill="#222222">6</text>
<text x="32.50" y="528.18" font-size="14" text-anchor="end" fill="#222222">6</text>
<line x1="294.70" y1="686.3" x2="294.70" y2="683.3" stroke="#626262" stroke-width="1"/>
<line x1="38.5" y1="482.40" x2="41.5" y2="482.40" stroke="#626262" stroke-width="1"/>
<text x="294.70" y="704.30" font-size="14" text-anchor="middle" fill="#222222">7</text>
<text x="32.50" y="487.40" font-size="14" text-anchor="end" fill="#222222">7</text>
<text x="166.60" y="478.40" font-size="16.6" font-weight="bold" text-anchor="middle" fill="#000">iCNN-BiLSTM 01</text>
<text x="3" y="484.60" font-size="16" fill="#111">(b)</text>
<text transform="translate(18.5,584.35) rotate(-90)" font-size="16.5" text-anchor="middle" fill="#222222">Predictions (m)</text>
<line x1="344.40" y1="482.4" x2="344.40" y2="686.3" stroke="#e3e3e3" stroke-width="1"/>
<line x1="344.4" y1="686.30" x2="600.8" y2="686.30" stroke="#e3e3e3" stroke-width="1"/>
<line x1="424.74" y1="482.4" x2="424.74" y2="686.3" stroke="#e3e3e3" stroke-width="1"/>
<line x1="344.4" y1="622.41" x2="600.8" y2="622.41" stroke="#e3e3e3" stroke-width="1"/>
<line x1="515.33" y1="482.4" x2="515.33" y2="686.3" stroke="#e3e3e3" stroke-width="1"/>
<line x1="344.4" y1="550.37" x2="600.8" y2="550.37" stroke="#e3e3e3" stroke-width="1"/>
<line x1="600.80" y1="482.4" x2="600.80" y2="686.3" stroke="#e3e3e3" stroke-width="1"/>
<line x1="344.4" y1="482.40" x2="600.8" y2="482.40" stroke="#e3e3e3" stroke-width="1"/>
<clipPath id="cr0"><rect x="344.4" y="482.4" width="256.4" height="203.9"/></clipPath>
<g clip-path="url(#cr0)">
<g><circle cx="518.8" cy="538.4" r="5.0" fill="none" stroke="#473ddd" stroke-width="1"/><circle cx="516.8" cy="549.2" r="5.0" fill="none" stroke="#3c24a8" stroke-width="1"/><circle cx="551.0" cy="548.3" r="5.0" fill="none" stroke="#2d8bed" stroke-width="1"/><circle cx="477.4" cy="558.0" r="5.0" fill="none" stroke="#337cf6" stroke-width="1"/><circle cx="428.3" cy="567.0" r="5.0" fill="none" stroke="#37c495" stroke-width="1"/><circle cx="496.4" cy="568.8" r="5.0" fill="none" stroke="#4028b8" stroke-width="1"/><circle cx="516.8" cy="570.2" r="5.0" fill="none" stroke="#3575f8" stroke-width="1"/><circle cx="520.3" cy="574.9" r="5.0" fill="none" stroke="#2791e7" stroke-width="1"/><circle cx="529.0" cy="577.2" r="5.0" fill="none" stroke="#19a7d9" stroke-width="1"/><circle cx="478.8" cy="569.0" r="5.0" fill="none" stroke="#4842e2" stroke-width="1"/><circle cx="474.5" cy="572.0" r="5.0" fill="none" stroke="#4844e4" stroke-width="1"/><circle cx="471.5" cy="574.0" r="5.0" fill="none" stroke="#4846e6" stroke-width="1"/><circle cx="483.2" cy="578.4" r="5.0" fill="none" stroke="#3f27b4" stroke-width="1"/><circle cx="484.7" cy="584.8" r="5.0" fill="none" stroke="#4841e1" stroke-width="1"/><circle cx="492.8" cy="586.6" r="5.0" fill="none" stroke="#3b69f8" stroke-width="1"/><circle cx="467.2" cy="578.4" r="5.0" fill="none" stroke="#4842e2" stroke-width="1"/><circle cx="467.7" cy="584.8" r="5.0" fill="none" stroke="#4028b8" stroke-width="1"/><circle cx="469.2" cy="589.5" r="5.0" fill="none" stroke="#3f27b3" stroke-width="1"/><circle cx="457.5" cy="581.3" r="5.0" fill="none" stroke="#4458f3" stroke-width="1"/><circle cx="456.9" cy="590.0" r="5.0" fill="none" stroke="#4435d1" stroke-width="1"/><circle cx="450.2" cy="577.8" r="5.0" fill="none" stroke="#3184f2" stroke-width="1"/><circle cx="452.6" cy="580.4" r="5.0" fill="none" stroke="#3870f8" stroke-width="1"/><circle cx="432.1" cy="584.8" r="5.0" fill="none" stroke="#2099e0" stroke-width="1"/><circle cx="443.8" cy="592.1" r="5.0" fill="none" stroke="#4458f3" stroke-width="1"/><circle cx="474.5" cy="606.1" r="5.0" fill="none" stroke="#327ff5" stroke-width="1"/><circle cx="474.5" cy="613.4" r="5.0" fill="none" stroke="#2296e2" stroke-width="1"/><circle cx="475.0" cy="617.2" r="5.0" fill="none" stroke="#20a0e0" stroke-width="1"/><circle cx="461.3" cy="598.8" r="5.0" fill="none" stroke="#4330c7" stroke-width="1"/><circle cx="437.4" cy="591.4" r="5.0" fill="none" stroke="#3575f8" stroke-width="1"/><circle cx="443.2" cy="592.1" r="5.0" fill="none" stroke="#425bf4" stroke-width="1"/><circle cx="453.4" cy="580.4" r="5.0" fill="none" stroke="#396df8" stroke-width="1"/><circle cx="456.4" cy="587.7" r="5.0" fill="none" stroke="#483fde" stroke-width="1"/><circle cx="459.4" cy="608.5" r="5.0" fill="none" stroke="#4851f0" stroke-width="1"/><circle cx="426.6" cy="591.9" r="5.0" fill="none" stroke="#2692e6" stroke-width="1"/><circle cx="424.8" cy="605.7" r="5.0" fill="none" stroke="#4061f6" stroke-width="1"/><circle cx="434.5" cy="610.7" r="5.0" fill="none" stroke="#412abc" stroke-width="1"/><circle cx="435.1" cy="619.3" r="5.0" fill="none" stroke="#422ec5" stroke-width="1"/><circle cx="440.1" cy="621.5" r="5.0" fill="none" stroke="#4846e6" stroke-width="1"/><circle cx="436.1" cy="620.5" r="5.0" fill="none" stroke="#4536d2" stroke-width="1"/><circle cx="442.7" cy="620.8" r="5.0" fill="none" stroke="#484cec" stroke-width="1"/><circle cx="458.6" cy="614.6" r="5.0" fill="none" stroke="#396df8" stroke-width="1"/><circle cx="454.2" cy="616.9" r="5.0" fill="none" stroke="#3c68f8" stroke-width="1"/><circle cx="433.1" cy="599.8" r="5.0" fill="none" stroke="#415df4" stroke-width="1"/><circle cx="434.5" cy="615.8" r="5.0" fill="none" stroke="#3d25ae" stroke-width="1"/><circle cx="458.6" cy="613.0" r="5.0" fill="none" stroke="#3d66f7" stroke-width="1"/><circle cx="452.3" cy="607.7" r="5.0" fill="none" stroke="#4536d2" stroke-width="1"/><circle cx="461.0" cy="615.1" r="5.0" fill="none" stroke="#3478f8" stroke-width="1"/><circle cx="435.1" cy="606.2" r="5.0" fill="none" stroke="#4639d6" stroke-width="1"/><circle cx="432.6" cy="600.1" r="5.0" fill="none" stroke="#415df4" stroke-width="1"/><circle cx="429.1" cy="604.0" r="5.0" fill="none" stroke="#4457f2" stroke-width="1"/><circle cx="426.8" cy="620.0" r="5.0" fill="none" stroke="#3d25ac" stroke-width="1"/><circle cx="441.3" cy="605.5" r="5.0" fill="none" stroke="#4029bb" stroke-width="1"/><circle cx="426.7" cy="610.6" r="5.0" fill="none" stroke="#4842e2" stroke-width="1"/><circle cx="432.9" cy="614.1" r="5.0" fill="none" stroke="#3e26b1" stroke-width="1"/><circle cx="426.8" cy="606.2" r="5.0" fill="none" stroke="#4556f2" stroke-width="1"/><circle cx="451.3" cy="609.2" r="5.0" fill="none" stroke="#4639d6" stroke-width="1"/><circle cx="430.9" cy="610.4" r="5.0" fill="none" stroke="#4536d2" stroke-width="1"/><circle cx="438.6" cy="614.4" r="5.0" fill="none" stroke="#4028b6" stroke-width="1"/><circle cx="455.6" cy="612.8" r="5.0" fill="none" stroke="#4557f2" stroke-width="1"/><circle cx="446.1" cy="611.1" r="5.0" fill="none" stroke="#4330c8" stroke-width="1"/><circle cx="428.7" cy="604.6" r="5.0" fill="none" stroke="#4556f2" stroke-width="1"/><circle cx="439.9" cy="615.3" r="5.0" fill="none" stroke="#422ec3" stroke-width="1"/><circle cx="428.8" cy="615.9" r="5.0" fill="none" stroke="#4028b8" stroke-width="1"/><circle cx="464.1" cy="601.2" r="5.0" fill="none" stroke="#4841e1" stroke-width="1"/><circle cx="436.0" cy="616.0" r="5.0" fill="none" stroke="#3f27b4" stroke-width="1"/><circle cx="447.4" cy="599.3" r="5.0" fill="none" stroke="#422ec4" stroke-width="1"/><circle cx="471.1" cy="603.5" r="5.0" fill="none" stroke="#3c68f8" stroke-width="1"/><circle cx="439.0" cy="610.7" r="5.0" fill="none" stroke="#3c24aa" stroke-width="1"/><circle cx="432.8" cy="608.3" r="5.0" fill="none" stroke="#4538d5" stroke-width="1"/><circle cx="434.6" cy="618.7" r="5.0" fill="none" stroke="#412bbd" stroke-width="1"/><circle cx="454.0" cy="613.0" r="5.0" fill="none" stroke="#4751f0" stroke-width="1"/><circle cx="440.7" cy="613.5" r="5.0" fill="none" stroke="#4029ba" stroke-width="1"/><circle cx="460.0" cy="609.8" r="5.0" fill="none" stroke="#435af3" stroke-width="1"/><circle cx="434.7" cy="610.8" r="5.0" fill="none" stroke="#4029b9" stroke-width="1"/><circle cx="450.0" cy="620.4" r="5.0" fill="none" stroke="#3c69f8" stroke-width="1"/><circle cx="442.5" cy="616.4" r="5.0" fill="none" stroke="#4639d7" stroke-width="1"/><circle cx="425.2" cy="618.2" r="5.0" fill="none" stroke="#4029bb" stroke-width="1"/><circle cx="446.6" cy="618.4" r="5.0" fill="none" stroke="#484fef" stroke-width="1"/><circle cx="437.8" cy="617.6" r="5.0" fill="none" stroke="#4330c8" stroke-width="1"/><circle cx="456.1" cy="612.6" r="5.0" fill="none" stroke="#4459f3" stroke-width="1"/><circle cx="444.5" cy="619.6" r="5.0" fill="none" stroke="#484ded" stroke-width="1"/><circle cx="443.9" cy="612.6" r="5.0" fill="none" stroke="#4330c7" stroke-width="1"/><circle cx="435.4" cy="619.3" r="5.0" fill="none" stroke="#422fc7" stroke-width="1"/><circle cx="450.4" cy="615.6" r="5.0" fill="none" stroke="#4850f0" stroke-width="1"/><circle cx="464.8" cy="610.6" r="5.0" fill="none" stroke="#3771f8" stroke-width="1"/><circle cx="432.9" cy="617.4" r="5.0" fill="none" stroke="#3e26af" stroke-width="1"/><circle cx="450.2" cy="611.0" r="5.0" fill="none" stroke="#473cdb" stroke-width="1"/></g>
<g><path d="M514.6,622.1L521.8,629.3M514.6,629.3L521.8,622.1" stroke="#f2b13d" stroke-width="1" fill="none"/><path d="M465.6,628.8L472.8,636.0M465.6,636.0L472.8,628.8" stroke="#08bac3" stroke-width="1" fill="none"/><path d="M453.5,636.7L460.7,643.9M453.5,643.9L460.7,636.7" stroke="#09b7c9" stroke-width="1" fill="none"/><path d="M449.0,651.3L456.2,658.5M449.0,658.5L456.2,651.3" stroke="#43c886" stroke-width="1" fill="none"/><path d="M435.2,639.8L442.4,647.0M435.2,647.0L442.4,639.8" stroke="#209ae0" stroke-width="1" fill="none"/><path d="M433.3,627.2L440.5,634.4M433.3,634.4L440.5,627.2" stroke="#3c69f8" stroke-width="1" fill="none"/><path d="M437.4,624.1L444.6,631.3M437.4,631.3L444.6,624.1" stroke="#3c69f8" stroke-width="1" fill="none"/><path d="M428.8,619.5L436.0,626.7M428.8,626.7L436.0,619.5" stroke="#4435d1" stroke-width="1" fill="none"/><path d="M435.7,634.3L442.9,641.5M435.7,641.5L442.9,634.3" stroke="#2b8deb" stroke-width="1" fill="none"/><path d="M435.0,626.3L442.2,633.5M435.0,633.5L442.2,626.3" stroke="#3b6af8" stroke-width="1" fill="none"/><path d="M422.4,626.5L429.6,633.7M422.4,633.7L429.6,626.5" stroke="#473cda" stroke-width="1" fill="none"/><path d="M430.3,634.2L437.5,641.4M430.3,641.4L437.5,634.2" stroke="#337df6" stroke-width="1" fill="none"/><path d="M430.1,635.2L437.3,642.4M430.1,642.4L437.3,635.2" stroke="#3280f4" stroke-width="1" fill="none"/><path d="M422.0,626.3L429.2,633.5M422.0,633.5L429.2,626.3" stroke="#463ad8" stroke-width="1" fill="none"/><path d="M425.7,620.7L432.9,627.9M425.7,627.9L432.9,620.7" stroke="#4330c8" stroke-width="1" fill="none"/><path d="M433.3,627.7L440.5,634.9M433.3,634.9L440.5,627.7" stroke="#3b6bf8" stroke-width="1" fill="none"/><path d="M426.6,631.1L433.8,638.3M426.6,638.3L433.8,631.1" stroke="#4061f6" stroke-width="1" fill="none"/><path d="M426.3,637.4L433.5,644.6M426.3,644.6L433.5,637.4" stroke="#337df6" stroke-width="1" fill="none"/><path d="M443.2,639.1L450.4,646.3M443.2,646.3L450.4,639.1" stroke="#18a8d8" stroke-width="1" fill="none"/><path d="M424.1,627.7L431.3,634.9M424.1,634.9L431.3,627.7" stroke="#4846e6" stroke-width="1" fill="none"/><path d="M425.5,633.4L432.7,640.6M425.5,640.6L432.7,633.4" stroke="#3c69f8" stroke-width="1" fill="none"/><path d="M428.3,627.9L435.5,635.1M428.3,635.1L435.5,627.9" stroke="#4556f2" stroke-width="1" fill="none"/><path d="M423.6,622.9L430.8,630.1M423.6,630.1L430.8,622.9" stroke="#4332cb" stroke-width="1" fill="none"/><path d="M436.8,627.3L444.0,634.5M436.8,634.5L444.0,627.3" stroke="#3575f8" stroke-width="1" fill="none"/><path d="M442.9,622.4L450.1,629.6M442.9,629.6L450.1,622.4" stroke="#3675f8" stroke-width="1" fill="none"/><path d="M427.5,625.2L434.7,632.4M427.5,632.4L434.7,625.2" stroke="#4847e7" stroke-width="1" fill="none"/><path d="M429.8,621.8L437.0,629.0M429.8,629.0L437.0,621.8" stroke="#4840e0" stroke-width="1" fill="none"/><path d="M433.9,632.3L441.1,639.5M433.9,639.5L441.1,632.3" stroke="#3281f4" stroke-width="1" fill="none"/><path d="M423.7,639.1L430.9,646.3M423.7,646.3L430.9,639.1" stroke="#337bf6" stroke-width="1" fill="none"/><path d="M430.1,620.7L437.3,627.9M430.1,627.9L437.3,620.7" stroke="#473ddc" stroke-width="1" fill="none"/><path d="M422.0,627.7L429.2,634.9M422.0,634.9L429.2,627.7" stroke="#483fde" stroke-width="1" fill="none"/><path d="M422.8,620.3L430.0,627.5M422.8,627.5L430.0,620.3" stroke="#3f27b5" stroke-width="1" fill="none"/><path d="M424.7,638.7L431.9,645.9M424.7,645.9L431.9,638.7" stroke="#337df6" stroke-width="1" fill="none"/></g>
<g><path d="M397.7,575.6L402.5,581.2L397.7,586.8L392.9,581.2Z" stroke="#8bca59" stroke-width="1" fill="none"/><path d="M412.8,580.7L417.6,586.3L412.8,591.9L408.0,586.3Z" stroke="#08bbc3" stroke-width="1" fill="none"/><path d="M392.4,597.5L397.2,603.1L392.4,608.7L387.6,603.1Z" stroke="#08bac5" stroke-width="1" fill="none"/><path d="M368.5,615.7L373.3,621.3L368.5,626.9L363.7,621.3Z" stroke="#08bbc2" stroke-width="1" fill="none"/><path d="M403.8,594.5L408.6,600.1L403.8,605.7L399.0,600.1Z" stroke="#15abd5" stroke-width="1" fill="none"/><path d="M410.4,587.2L415.2,592.8L410.4,598.4L405.6,592.8Z" stroke="#10b0d0" stroke-width="1" fill="none"/><path d="M411.1,591.6L415.9,597.2L411.1,602.8L406.3,597.2Z" stroke="#1da3dd" stroke-width="1" fill="none"/><path d="M414.0,593.8L418.8,599.4L414.0,605.0L409.2,599.4Z" stroke="#2098e0" stroke-width="1" fill="none"/><path d="M398.7,604.0L403.5,609.6L398.7,615.2L393.9,609.6Z" stroke="#209de0" stroke-width="1" fill="none"/><path d="M401.6,606.2L406.4,611.8L401.6,617.4L396.8,611.8Z" stroke="#2692e6" stroke-width="1" fill="none"/><path d="M389.2,613.5L394.0,619.1L389.2,624.7L384.4,619.1Z" stroke="#2098e0" stroke-width="1" fill="none"/><path d="M395.8,615.7L400.6,621.3L395.8,626.9L391.0,621.3Z" stroke="#3183f3" stroke-width="1" fill="none"/><path d="M403.8,615.7L408.6,621.3L403.8,626.9L399.0,621.3Z" stroke="#3d67f8" stroke-width="1" fill="none"/><path d="M409.6,614.3L414.4,619.9L409.6,625.5L404.8,619.9Z" stroke="#4555f2" stroke-width="1" fill="none"/><path d="M415.5,612.8L420.3,618.4L415.5,624.0L410.7,618.4Z" stroke="#4846e6" stroke-width="1" fill="none"/><path d="M418.4,615.0L423.2,620.6L418.4,626.2L413.6,620.6Z" stroke="#4435d1" stroke-width="1" fill="none"/><path d="M420.5,612.6L425.3,618.2L420.5,623.8L415.7,618.2Z" stroke="#4537d5" stroke-width="1" fill="none"/><path d="M412.0,610.2L416.8,615.8L412.0,621.4L407.2,615.8Z" stroke="#3f61f6" stroke-width="1" fill="none"/><path d="M410.3,615.3L415.1,620.9L410.3,626.5L405.5,620.9Z" stroke="#484ded" stroke-width="1" fill="none"/><path d="M412.6,615.3L417.4,620.9L412.6,626.5L407.8,620.9Z" stroke="#4846e6" stroke-width="1" fill="none"/><path d="M402.8,611.3L407.6,616.9L402.8,622.5L398.0,616.9Z" stroke="#337ef5" stroke-width="1" fill="none"/><path d="M422.6,614.8L427.4,620.4L422.6,626.0L417.8,620.4Z" stroke="#4029ba" stroke-width="1" fill="none"/><path d="M416.3,612.8L421.1,618.4L416.3,624.0L411.5,618.4Z" stroke="#4843e3" stroke-width="1" fill="none"/><path d="M416.7,615.1L421.5,620.7L416.7,626.3L411.9,620.7Z" stroke="#4639d7" stroke-width="1" fill="none"/><path d="M423.3,614.2L428.1,619.8L423.3,625.4L418.5,619.8Z" stroke="#4029bb" stroke-width="1" fill="none"/><path d="M403.4,612.9L408.2,618.5L403.4,624.1L398.6,618.5Z" stroke="#3675f8" stroke-width="1" fill="none"/><path d="M410.0,616.6L414.8,622.2L410.0,627.8L405.2,622.2Z" stroke="#4849e9" stroke-width="1" fill="none"/><path d="M423.6,612.5L428.4,618.1L423.6,623.7L418.8,618.1Z" stroke="#422ec5" stroke-width="1" fill="none"/><path d="M419.8,615.1L424.6,620.7L419.8,626.3L415.0,620.7Z" stroke="#4330c8" stroke-width="1" fill="none"/><path d="M420.9,616.8L425.7,622.4L420.9,628.0L416.1,622.4Z" stroke="#4028b7" stroke-width="1" fill="none"/><path d="M411.5,606.0L416.3,611.6L411.5,617.2L406.7,611.6Z" stroke="#3577f8" stroke-width="1" fill="none"/><path d="M400.9,609.1L405.7,614.7L400.9,620.3L396.1,614.7Z" stroke="#2c8cec" stroke-width="1" fill="none"/></g>
<line x1="344.40" y1="686.30" x2="600.80" y2="482.40" stroke="#8a93b2" stroke-width="1.45"/>
<line x1="344.40" y1="659.11" x2="566.61" y2="482.40" stroke="#3aad3a" stroke-width="1.25" stroke-dasharray="5.5,5"/>
<line x1="378.59" y1="686.30" x2="600.80" y2="509.59" stroke="#3aad3a" stroke-width="1.25" stroke-dasharray="5.5,5"/>
<line x1="424.74" y1="482.4" x2="424.74" y2="686.3" stroke="#8a93b2" stroke-width="1.45"/>
<line x1="344.4" y1="622.41" x2="600.8" y2="622.41" stroke="#8a93b2" stroke-width="1.45"/>
</g>
<line x1="344.4" y1="482.4" x2="344.4" y2="686.8" stroke="#626262" stroke-width="1.1"/>
<line x1="343.9" y1="686.3" x2="601.3" y2="686.3" stroke="#626262" stroke-width="1.1"/>
<line x1="344.40" y1="686.3" x2="344.40" y2="683.3" stroke="#626262" stroke-width="1"/>
<line x1="344.4" y1="686.30" x2="347.4" y2="686.30" stroke="#626262" stroke-width="1"/>
<text x="344.40" y="704.30" font-size="14" text-anchor="middle" fill="#222222">5</text>
<text x="338.50" y="691.30" font-size="14" text-anchor="end" fill="#222222">5</text>
<line x1="424.74" y1="686.3" x2="424.74" y2="683.3" stroke="#626262" stroke-width="1"/>
<line x1="344.4" y1="622.41" x2="347.4" y2="622.41" stroke="#626262" stroke-width="1"/>
<text x="424.74" y="704.30" font-size="14" text-anchor="middle" fill="#222222">5.47</text>
<text x="338.50" y="627.41" font-size="14" text-anchor="end" fill="#222222">5.47</text>
<line x1="515.33" y1="686.3" x2="515.33" y2="683.3" stroke="#626262" stroke-width="1"/>
<line x1="344.4" y1="550.37" x2="347.4" y2="550.37" stroke="#626262" stroke-width="1"/>
<text x="515.33" y="704.30" font-size="14" text-anchor="middle" fill="#222222">6</text>
<text x="338.50" y="555.37" font-size="14" text-anchor="end" fill="#222222">6</text>
<line x1="600.80" y1="686.3" x2="600.80" y2="683.3" stroke="#626262" stroke-width="1"/>
<line x1="344.4" y1="482.40" x2="347.4" y2="482.40" stroke="#626262" stroke-width="1"/>
<text x="600.80" y="704.30" font-size="14" text-anchor="middle" fill="#222222">6.5</text>
<text x="338.50" y="487.40" font-size="14" text-anchor="end" fill="#222222">6.5</text>
<rect x="620.5" y="482.4" width="17.0" height="203.9" fill="url(#parula)" stroke="#626262" stroke-width="1"/>
<text x="643.50" y="691.30" font-size="14" text-anchor="start" fill="#222222">0</text>
<line x1="634.5" y1="657.17" x2="637.5" y2="657.17" stroke="#626262" stroke-width="1"/>
<text x="643.50" y="662.17" font-size="14" text-anchor="start" fill="#222222">0.1</text>
<line x1="634.5" y1="628.04" x2="637.5" y2="628.04" stroke="#626262" stroke-width="1"/>
<text x="643.50" y="633.04" font-size="14" text-anchor="start" fill="#222222">0.2</text>
<line x1="634.5" y1="598.91" x2="637.5" y2="598.91" stroke="#626262" stroke-width="1"/>
<text x="643.50" y="603.91" font-size="14" text-anchor="start" fill="#222222">0.3</text>
<line x1="634.5" y1="569.79" x2="637.5" y2="569.79" stroke="#626262" stroke-width="1"/>
<text x="643.50" y="574.79" font-size="14" text-anchor="start" fill="#222222">0.4</text>
<line x1="634.5" y1="540.66" x2="637.5" y2="540.66" stroke="#626262" stroke-width="1"/>
<text x="643.50" y="545.66" font-size="14" text-anchor="start" fill="#222222">0.5</text>
<line x1="634.5" y1="511.53" x2="637.5" y2="511.53" stroke="#626262" stroke-width="1"/>
<text x="643.50" y="516.53" font-size="14" text-anchor="start" fill="#222222">0.6</text>
<text x="643.50" y="487.40" font-size="14" text-anchor="start" fill="#222222">0.7</text>
<text transform="translate(680.6,584.35) rotate(-90)" font-size="17" text-anchor="middle" fill="#222222">Error (m)</text>
<line x1="268.2" y1="531.90" x2="358.37" y2="600.91" stroke="#000" stroke-width="1"/>
<path d="M367.10,607.60L352.64,603.46L359.56,601.83L359.33,594.72Z" fill="#000"/>
<line x1="89.74" y1="735.4" x2="89.74" y2="939.3" stroke="#e3e3e3" stroke-width="1"/>
<line x1="38.5" y1="898.52" x2="294.7" y2="898.52" stroke="#e3e3e3" stroke-width="1"/>
<line x1="140.98" y1="735.4" x2="140.98" y2="939.3" stroke="#e3e3e3" stroke-width="1"/>
<line x1="38.5" y1="857.74" x2="294.7" y2="857.74" stroke="#e3e3e3" stroke-width="1"/>
<line x1="192.22" y1="735.4" x2="192.22" y2="939.3" stroke="#e3e3e3" stroke-width="1"/>
<line x1="38.5" y1="816.96" x2="294.7" y2="816.96" stroke="#e3e3e3" stroke-width="1"/>
<line x1="243.46" y1="735.4" x2="243.46" y2="939.3" stroke="#e3e3e3" stroke-width="1"/>
<line x1="38.5" y1="776.18" x2="294.7" y2="776.18" stroke="#e3e3e3" stroke-width="1"/>
<line x1="294.70" y1="735.4" x2="294.70" y2="939.3" stroke="#e3e3e3" stroke-width="1"/>
<line x1="38.5" y1="735.40" x2="294.7" y2="735.40" stroke="#e3e3e3" stroke-width="1"/>
<clipPath id="cl1"><rect x="38.5" y="735.4" width="256.2" height="203.9"/></clipPath>
<g clip-path="url(#cl1)">
<path d="M180.9,827.3h0M148.7,858.7h0M156.4,855.7h0M169.6,832.5h0M164.6,848.0h0M140.7,866.4h0M194.1,823.2h0M182.8,828.1h0M190.3,821.5h0M186.0,816.2h0M134.1,842.3h0M180.8,828.2h0M166.7,843.6h0M176.1,829.9h0M193.3,813.9h0M165.8,829.5h0M161.4,831.6h0M151.3,834.5h0M162.8,840.2h0M146.7,852.9h0M192.3,823.5h0M146.4,852.4h0M152.5,834.9h0M169.4,837.9h0M188.2,823.7h0M196.2,814.9h0M191.2,822.3h0M134.8,869.6h0M189.6,819.3h0M191.1,824.7h0M140.2,859.0h0M135.8,865.6h0M166.1,847.9h0M141.7,869.0h0M140.0,855.7h0M171.9,834.6h0M164.7,849.4h0M188.2,820.7h0M167.1,850.8h0M182.0,817.5h0M141.1,862.1h0M155.7,849.2h0M111.0,883.9h0M187.9,816.1h0M134.3,843.8h0M161.6,843.9h0M162.0,840.5h0M155.4,848.3h0M169.9,828.6h0M193.7,817.1h0M175.2,837.9h0M190.5,822.2h0M167.9,832.5h0M171.4,830.5h0M167.7,843.6h0M181.3,827.5h0M185.9,830.8h0M158.8,845.1h0M107.9,874.5h0M174.8,836.6h0M160.1,846.9h0M173.5,823.0h0M158.7,852.4h0M190.2,822.5h0M145.5,865.4h0M173.5,822.7h0M171.0,827.1h0M148.1,859.4h0M179.0,826.4h0M177.8,827.7h0M151.6,854.3h0M129.7,861.4h0M143.8,853.2h0M187.9,824.4h0M163.8,842.0h0M164.6,845.8h0M103.2,883.1h0M146.3,846.3h0M128.1,869.4h0M160.6,838.2h0M136.2,867.6h0M178.1,821.7h0M192.4,817.0h0M118.9,876.9h0M165.3,834.2h0M179.2,822.5h0M126.7,864.3h0M187.0,816.4h0M171.0,835.6h0M149.2,853.0h0M128.3,870.1h0M177.4,826.7h0M179.5,828.7h0M179.4,829.2h0M138.5,853.2h0M173.1,829.1h0M143.7,851.0h0M151.4,855.9h0M190.5,824.0h0M93.3,896.2h0M172.3,834.7h0M150.0,843.4h0M198.7,810.1h0M165.5,838.7h0M171.3,826.7h0M173.3,820.7h0M193.9,817.1h0M161.6,830.3h0M193.1,808.8h0M132.2,865.1h0M150.0,847.7h0M145.2,845.8h0M178.1,832.7h0M156.7,846.6h0M191.9,838.4h0M178.4,827.9h0M165.7,824.7h0M187.2,830.9h0M148.5,861.2h0M199.7,810.4h0M169.9,836.2h0M161.9,846.6h0M205.8,802.7h0M185.9,819.8h0M189.9,816.5h0M203.2,807.0h0M174.2,821.0h0M136.2,868.2h0M138.5,861.2h0M183.6,825.5h0M128.2,876.7h0M145.5,851.6h0M163.1,846.1h0M144.0,851.5h0M160.7,834.1h0M170.7,828.1h0M184.5,827.0h0M202.8,815.9h0M189.0,815.7h0M149.3,834.2h0M168.4,835.8h0M181.7,830.9h0M134.5,880.9h0M181.2,823.5h0M181.3,826.3h0M135.4,853.8h0M197.6,811.1h0M180.6,829.7h0M154.4,850.3h0M168.4,835.5h0M166.0,841.8h0M162.9,848.9h0M179.9,825.6h0M128.0,871.5h0M150.1,847.6h0M194.4,817.9h0M188.3,815.8h0M187.0,823.1h0M169.6,832.4h0M173.1,836.4h0M114.5,877.5h0M108.8,894.3h0M94.1,895.0h0M158.3,844.3h0M114.0,869.6h0M141.1,855.9h0M149.7,849.2h0M172.3,831.8h0M121.5,866.9h0M196.9,831.7h0M131.5,860.1h0M186.2,829.1h0M213.1,808.3h0M184.8,822.9h0M195.5,811.0h0M190.6,823.8h0M190.7,824.9h0M201.3,801.2h0M176.0,841.6h0M141.7,852.6h0M169.3,827.0h0M161.5,837.4h0M190.2,820.3h0M132.5,860.5h0M120.5,873.8h0M168.3,851.2h0M92.7,895.9h0M179.6,826.8h0M145.7,855.0h0M172.2,835.8h0M133.4,867.3h0M145.7,840.6h0M202.7,814.1h0M159.4,846.3h0M155.6,842.9h0M150.7,854.9h0M126.2,874.1h0M154.4,847.3h0M153.4,848.4h0M162.1,839.3h0M163.3,833.9h0M138.8,847.0h0M145.8,852.0h0M200.0,813.0h0M115.9,874.7h0M149.7,839.8h0M211.7,811.2h0M132.5,877.6h0M155.5,849.1h0M165.8,835.9h0M173.1,837.5h0M148.6,861.5h0M161.4,848.0h0M142.6,849.6h0M188.6,820.4h0M163.2,843.1h0M134.6,868.6h0M155.1,831.5h0M156.4,850.7h0M143.5,849.0h0M192.5,808.3h0M115.6,873.7h0M172.7,838.2h0M168.3,839.6h0M156.3,850.6h0M127.4,851.0h0M153.1,852.6h0M154.3,851.3h0M170.9,842.8h0M153.6,842.5h0M197.6,813.0h0M152.8,849.7h0M193.3,813.1h0M176.3,841.3h0M124.7,880.3h0M92.5,892.2h0M170.6,827.9h0M153.3,850.8h0M179.2,823.3h0M168.8,842.3h0M184.4,822.9h0M136.0,855.9h0M185.1,816.2h0M187.6,815.6h0M144.3,852.1h0M169.8,845.5h0M166.1,840.1h0M173.1,830.1h0M143.3,859.2h0M105.8,884.8h0M150.0,847.6h0M144.9,858.3h0M191.3,814.5h0M194.9,810.8h0M127.5,870.0h0M197.5,817.9h0M143.9,853.2h0M159.2,841.3h0M196.8,810.7h0M160.9,833.2h0M158.6,853.8h0M165.9,845.0h0M179.5,824.6h0M182.7,820.6h0M196.1,811.1h0M157.2,849.3h0M145.8,866.6h0M104.1,880.1h0M125.3,872.2h0M176.3,824.9h0M184.1,824.3h0M203.7,802.7h0M166.7,840.3h0M189.8,817.0h0M152.8,860.6h0M153.3,849.4h0M177.5,829.9h0M178.6,826.7h0M143.0,849.6h0M207.0,807.7h0M138.2,850.3h0M200.0,799.9h0M174.7,831.3h0M145.0,852.2h0M148.2,851.0h0M140.1,861.1h0M182.1,842.1h0M181.2,831.2h0M160.5,848.8h0M159.9,841.1h0M192.0,809.0h0M166.4,834.4h0M158.1,847.9h0M172.9,832.3h0M171.1,840.1h0M165.0,834.3h0M148.4,852.4h0M181.1,828.6h0M166.8,837.8h0M171.1,833.2h0M137.5,879.6h0M146.5,845.9h0M164.3,841.7h0M161.9,842.4h0M118.7,879.3h0M161.6,848.9h0M192.8,825.7h0M135.0,856.1h0M159.4,854.0h0M189.3,818.6h0M195.0,820.6h0M155.8,862.8h0M206.0,801.5h0M128.9,873.6h0M186.7,828.0h0M179.2,816.5h0M166.9,835.6h0M157.6,849.2h0M184.7,834.0h0M179.7,832.7h0M115.2,877.5h0M154.1,848.3h0M147.4,850.5h0M167.8,826.5h0M208.9,801.3h0M151.1,854.8h0M163.6,843.9h0M146.9,849.5h0M155.1,851.8h0M160.2,847.4h0M171.0,841.1h0M174.2,828.7h0M144.0,861.1h0M181.0,826.4h0M200.0,807.2h0M170.4,845.0h0M166.3,845.5h0M154.5,845.1h0M166.0,839.8h0M151.9,849.2h0M139.6,854.7h0M125.6,856.3h0M163.4,837.9h0M187.9,825.1h0M187.3,816.4h0M154.9,843.0h0M184.1,833.2h0M97.2,916.9h0M153.8,837.5h0M155.6,847.6h0M147.3,852.3h0M176.9,835.9h0M192.6,826.3h0M174.5,833.8h0M167.0,838.5h0M168.7,842.8h0M172.6,839.9h0M210.4,812.4h0M169.4,816.9h0M129.0,862.0h0M166.2,839.7h0M143.8,863.0h0M162.5,844.5h0M184.3,830.3h0M174.9,837.8h0M203.1,811.2h0M127.9,868.3h0M154.2,844.5h0M137.0,858.5h0M179.7,830.9h0M204.2,805.9h0M199.6,812.4h0M169.0,840.0h0M159.9,839.4h0M145.9,862.9h0M162.8,844.5h0M154.7,840.6h0M176.5,825.4h0M148.9,841.6h0M164.6,854.3h0M171.3,818.4h0M166.7,850.3h0M170.9,847.6h0M155.0,849.6h0M167.0,835.4h0M151.7,844.9h0M164.8,834.7h0M158.7,844.2h0M188.6,820.0h0M147.4,847.3h0M205.1,799.0h0M168.6,835.5h0M147.0,844.2h0M157.0,842.4h0M191.5,815.6h0M165.7,835.0h0M140.4,853.2h0M183.7,830.2h0M120.4,871.1h0M171.4,831.1h0M193.9,811.4h0M178.3,833.3h0M148.1,860.8h0M136.2,866.6h0M160.3,843.1h0M183.4,827.5h0M141.0,852.9h0M213.6,800.8h0M167.1,835.4h0M192.7,816.6h0M198.7,813.8h0M179.3,826.9h0M187.2,827.8h0M178.2,832.4h0M162.6,847.2h0M158.9,834.4h0M165.6,856.8h0M157.4,842.7h0M142.8,851.7h0M187.5,826.2h0M154.0,847.8h0M168.1,846.5h0M174.6,828.0h0M179.9,826.1h0M122.1,875.4h0M202.7,811.3h0M160.6,838.5h0M172.6,834.1h0M139.5,858.6h0M110.6,882.7h0M174.9,835.3h0M158.9,841.9h0M202.0,811.8h0M214.4,802.8h0M179.3,827.2h0M165.8,828.0h0M122.9,864.4h0M156.7,853.7h0M106.8,891.5h0M149.9,847.8h0M174.0,836.8h0M182.2,825.9h0M156.6,862.2h0M190.5,821.2h0M158.0,846.9h0M165.6,833.9h0M160.7,836.0h0M163.9,845.0h0M190.0,814.5h0M193.0,803.6h0M123.2,880.9h0M139.2,867.3h0M166.7,845.5h0M137.7,856.2h0M156.3,846.6h0M166.2,848.9h0M129.3,874.4h0M198.0,804.6h0M155.6,827.8h0M172.4,832.5h0M160.9,845.4h0M144.6,856.6h0M158.3,838.9h0M183.0,830.0h0M170.3,836.7h0M155.3,853.7h0M180.9,837.5h0M162.1,840.5h0M96.0,884.0h0M170.4,825.8h0M126.1,872.0h0M163.9,836.3h0M185.7,818.8h0M141.2,867.4h0M200.8,811.2h0M161.6,843.6h0M188.7,818.0h0M192.8,824.3h0M187.1,818.5h0M171.3,828.3h0M192.9,818.4h0M152.2,848.7h0M153.2,848.0h0M153.7,858.6h0M180.3,829.0h0M175.9,828.6h0M162.5,842.0h0M199.5,810.0h0M174.6,833.8h0M148.6,853.1h0M117.9,877.0h0M152.6,843.8h0M198.3,816.6h0M193.1,815.7h0M102.8,890.9h0M181.0,824.5h0M163.3,843.4h0M193.7,810.4h0M201.4,808.1h0M148.2,854.2h0M187.6,821.6h0M172.5,834.7h0M169.9,829.2h0M208.7,804.5h0M150.4,847.8h0M172.4,835.0h0M144.3,860.6h0M113.0,881.9h0M183.2,835.0h0M115.4,881.0h0M159.1,832.0h0M107.0,884.0h0M169.3,835.7h0M162.5,850.7h0M126.3,867.2h0M136.9,850.3h0M182.0,815.5h0M119.8,858.9h0M177.1,824.7h0M184.0,825.2h0M164.7,839.5h0M155.5,850.1h0M186.4,818.0h0M176.9,831.3h0M167.4,824.3h0M120.2,875.0h0M145.7,868.2h0M152.9,852.2h0M209.3,808.2h0M189.9,817.5h0M180.9,828.0h0M139.4,861.1h0M172.7,832.9h0M123.4,884.2h0M146.9,858.3h0M173.0,837.8h0M204.7,805.3h0M128.0,848.9h0M180.1,834.5h0M109.1,871.9h0M185.5,825.6h0M160.9,847.1h0M167.4,831.8h0M137.4,870.0h0M160.7,845.8h0M171.7,838.5h0M157.8,838.4h0M172.0,836.3h0M213.5,800.5h0M186.2,824.4h0M177.5,845.8h0M180.0,831.1h0M138.5,863.9h0M195.7,813.2h0M162.9,845.2h0M179.2,831.6h0M180.0,823.5h0M166.7,827.1h0M96.3,884.0h0M155.0,856.6h0M161.4,847.1h0M185.4,823.5h0M174.2,830.8h0M113.6,886.3h0M196.9,817.5h0M190.5,813.3h0M215.4,801.4h0M183.1,821.8h0M134.5,865.9h0M174.5,823.3h0M144.1,861.1h0M166.9,850.8h0M181.8,825.1h0M131.0,871.2h0M151.0,848.8h0M185.9,820.4h0M154.0,859.0h0M92.4,881.8h0M130.0,867.1h0M194.8,807.7h0M191.4,822.3h0M92.5,905.2h0M182.3,821.7h0M178.7,831.3h0M175.6,826.9h0M181.0,826.7h0M111.5,876.5h0M183.8,825.5h0M178.1,840.9h0M171.4,832.2h0M181.0,820.3h0M180.6,816.2h0M201.6,806.9h0M172.5,835.2h0M194.3,821.0h0M183.5,822.8h0M153.3,843.9h0M179.8,828.4h0M159.8,839.9h0M187.2,815.2h0M143.2,861.9h0M187.3,832.6h0M196.8,808.1h0M190.3,810.9h0M196.8,822.0h0M185.9,827.1h0M145.0,842.6h0M134.9,873.7h0M151.4,853.7h0M154.3,846.9h0M190.4,818.7h0M203.3,811.5h0M193.7,813.2h0M160.7,850.5h0M163.3,841.2h0M172.6,826.4h0M189.4,825.2h0M156.4,847.4h0M169.6,834.3h0M172.9,826.1h0M195.7,810.1h0M101.3,884.9h0M200.1,812.5h0M149.0,861.3h0M176.3,829.9h0M194.3,817.7h0M169.8,850.7h0M158.6,839.5h0M185.5,820.1h0M176.6,827.8h0M199.0,807.2h0M196.0,823.9h0M180.8,825.9h0M193.4,826.0h0M177.6,828.0h0M146.6,849.7h0M152.7,847.0h0M159.0,845.7h0M151.6,858.7h0M194.5,822.0h0M158.8,853.0h0M151.2,849.9h0M177.6,827.8h0M136.4,864.2h0M146.2,863.8h0M180.8,818.7h0M172.3,835.6h0M204.7,812.5h0M127.5,859.6h0M168.5,829.5h0M161.5,840.7h0M158.4,844.1h0M158.6,849.5h0M182.8,821.5h0M184.0,828.3h0M180.4,832.9h0M198.8,815.6h0M176.8,826.9h0M129.0,868.2h0M126.4,863.2h0M178.2,830.0h0M120.4,875.8h0M177.4,822.6h0M96.3,899.5h0M178.3,834.3h0M149.6,858.3h0M207.6,810.5h0M206.1,807.2h0M167.8,834.6h0M176.2,808.1h0M134.7,858.2h0M136.7,843.2h0M161.7,840.2h0M203.7,807.3h0M175.8,839.3h0M197.1,816.9h0M158.6,842.1h0M212.4,801.4h0M196.2,808.7h0M173.4,841.4h0M181.2,829.9h0M169.3,828.5h0M161.1,841.5h0M122.7,867.5h0M123.5,871.3h0M97.6,890.1h0M113.4,872.4h0M158.4,825.2h0M194.1,815.2h0M182.5,818.0h0M191.7,818.0h0M128.9,868.0h0M186.1,822.8h0M153.3,843.5h0M153.7,851.2h0M181.2,830.2h0M209.1,807.3h0M155.0,847.4h0M147.8,844.4h0M150.4,845.0h0M145.6,858.2h0M150.8,849.6h0M209.5,800.4h0M115.5,881.8h0M170.1,836.5h0M174.5,837.5h0M206.1,808.8h0M121.7,884.1h0M141.1,843.4h0M166.1,836.1h0M212.1,798.1h0M167.6,837.1h0M163.0,843.4h0M146.1,862.3h0M165.3,848.9h0M195.6,811.1h0M142.6,854.1h0M166.7,840.3h0M162.4,839.7h0M176.7,825.9h0M201.1,801.5h0M154.1,845.0h0M169.5,840.6h0M133.3,878.3h0M162.2,843.9h0M203.8,809.4h0M157.2,851.1h0M168.6,851.6h0M149.1,857.2h0M198.2,810.7h0M150.0,841.2h0M169.3,844.7h0M169.4,833.6h0M152.7,858.5h0M159.4,843.7h0M143.9,841.8h0M140.5,886.7h0M131.1,869.7h0M187.5,815.4h0M162.6,838.8h0M195.0,813.6h0M158.0,842.4h0M121.1,874.3h0M152.3,870.9h0M115.7,879.4h0M139.4,867.5h0M151.0,862.7h0M173.2,834.5h0M94.1,901.8h0M173.4,826.7h0M155.2,834.6h0M113.7,883.4h0M187.7,824.3h0M139.7,848.8h0M169.9,845.5h0M185.0,819.6h0M194.4,826.2h0M190.7,813.0h0M142.9,854.7h0M142.4,848.5h0M190.7,826.6h0M157.9,844.2h0M191.3,816.4h0M182.3,821.2h0M144.2,851.8h0M167.5,828.1h0M170.5,837.8h0M207.7,811.3h0M130.1,868.1h0M150.1,866.6h0M126.8,882.0h0M123.5,863.8h0M169.4,851.1h0M153.0,849.7h0M93.5,888.7h0M155.4,845.9h0M139.9,859.6h0M177.8,836.6h0M180.9,829.5h0M197.7,815.3h0M159.6,850.1h0M156.0,843.1h0M162.6,850.8h0M158.4,846.2h0M150.0,849.9h0M162.3,833.8h0M194.2,814.4h0M176.5,825.1h0M187.6,819.1h0M141.6,851.1h0M177.5,833.9h0M158.3,836.9h0M196.5,806.2h0M180.9,823.1h0M129.2,865.4h0M164.9,847.9h0M138.7,865.4h0M162.3,846.5h0M142.6,870.0h0M174.4,826.2h0M170.9,833.3h0M169.1,835.6h0M158.7,848.8h0M192.9,817.0h0M173.9,833.3h0M152.7,854.5h0M170.7,845.3h0M177.6,839.3h0M160.5,837.3h0M216.2,799.8h0M153.5,858.0h0M181.7,818.2h0M178.6,824.2h0M180.0,824.7h0M97.4,900.3h0M195.1,815.9h0M178.8,822.7h0M126.6,890.4h0M167.1,834.6h0M103.0,858.2h0M168.0,832.1h0M172.3,835.7h0M143.7,854.9h0M136.4,863.0h0M105.7,892.1h0M174.6,835.5h0M154.4,846.2h0M187.8,820.5h0M160.6,830.6h0M150.1,829.2h0M148.1,852.3h0M187.1,831.3h0M209.7,800.4h0M175.8,840.5h0M174.1,834.6h0M151.7,842.9h0M184.3,826.7h0M153.1,825.2h0M171.3,834.5h0M199.1,816.4h0M156.6,840.1h0M157.4,843.4h0M164.8,828.4h0M189.0,830.6h0M121.4,869.6h0M159.2,842.9h0M183.4,823.2h0M156.6,834.1h0M159.9,831.5h0M179.6,823.4h0M127.1,877.3h0M180.8,826.2h0M157.6,828.2h0M147.7,839.9h0M169.1,840.2h0M140.6,850.2h0M134.1,872.6h0M141.2,853.6h0M165.6,844.5h0M123.7,869.4h0M144.5,854.7h0M180.5,832.1h0M181.7,834.3h0M183.5,821.2h0M196.5,818.2h0M203.1,807.9h0M151.7,845.5h0M185.6,815.5h0M143.1,849.3h0M98.1,894.1h0M178.2,827.8h0M129.0,883.6h0M173.5,835.5h0M195.0,822.7h0M176.4,832.8h0M179.1,835.8h0M132.8,857.9h0M196.1,812.9h0M135.3,872.0h0M172.3,833.7h0M174.9,837.3h0M145.9,847.4h0M160.1,835.2h0M155.3,840.7h0M183.6,829.6h0M138.2,861.4h0M149.6,843.2h0M165.1,854.0h0M162.8,834.0h0M119.5,875.3h0M181.4,837.3h0M150.0,864.5h0M154.8,852.2h0M159.4,831.6h0M161.6,849.0h0M178.9,833.0h0M131.6,857.9h0M152.7,850.3h0M140.3,862.4h0M206.4,802.7h0M184.4,830.8h0M170.1,827.8h0M216.1,803.6h0M185.3,830.5h0M103.4,889.6h0M175.3,833.6h0M165.3,847.5h0M163.9,844.5h0M198.3,803.4h0M192.7,817.1h0M145.0,858.1h0M183.9,821.5h0M190.5,816.2h0M183.4,832.5h0M160.9,841.3h0M176.7,832.9h0M159.3,849.3h0M168.9,836.7h0M186.5,824.7h0M129.2,857.0h0M172.2,837.5h0M138.4,860.9h0M149.5,851.0h0M188.3,822.6h0M198.9,806.4h0M149.2,858.4h0M199.5,815.8h0M104.3,874.7h0M202.8,809.8h0M177.7,834.6h0M179.2,826.0h0M92.3,877.9h0M161.8,843.1h0M170.6,836.5h0M182.7,828.1h0M183.5,819.1h0M180.6,820.3h0M148.6,844.2h0M147.8,864.0h0M169.4,833.9h0M139.0,863.0h0M202.5,806.5h0M147.6,855.6h0M190.4,822.2h0M130.6,862.7h0M176.2,828.5h0M163.1,846.1h0M143.4,853.2h0M182.2,825.6h0M165.1,829.5h0M185.7,825.5h0M108.9,870.2h0M143.0,863.0h0M95.6,888.8h0M187.1,818.6h0M140.5,847.0h0M124.2,850.2h0M147.4,859.0h0M167.2,848.4h0M189.4,812.9h0M159.3,832.3h0M202.7,808.7h0M127.5,865.4h0M201.3,813.8h0M140.1,853.9h0M134.1,871.5h0M179.5,826.0h0M197.2,817.2h0M209.9,799.3h0M139.0,862.5h0M193.0,815.1h0M122.6,867.2h0M176.6,830.1h0M169.1,839.7h0M183.6,825.5h0M193.0,824.9h0M142.2,857.0h0M153.0,840.1h0M188.7,821.6h0M152.1,848.9h0M185.3,824.0h0M150.3,840.7h0M192.2,800.2h0M201.2,815.4h0M172.9,836.5h0M161.6,833.0h0M115.2,884.5h0M128.3,864.6h0M186.2,823.0h0M153.7,856.4h0M171.2,839.1h0M146.3,854.1h0M162.3,846.2h0M125.7,870.4h0M193.4,828.1h0M198.9,811.5h0M163.3,854.8h0M151.7,841.0h0M144.7,854.9h0M138.7,861.0h0M143.6,846.0h0M167.7,841.4h0M171.4,834.4h0M181.1,825.5h0M179.8,831.3h0M132.9,852.1h0M125.0,898.7h0M171.3,839.2h0M186.8,827.4h0M163.6,839.9h0M160.7,838.8h0M137.5,865.0h0M151.8,846.2h0M139.6,880.2h0M148.5,851.2h0M151.1,850.3h0M203.0,801.4h0M164.0,833.2h0M182.0,830.8h0M174.2,833.6h0M177.5,833.9h0M205.5,809.0h0M147.9,840.7h0M181.8,826.0h0M203.1,820.4h0M161.3,823.4h0M145.0,843.0h0M193.0,818.3h0M185.8,828.2h0M105.4,886.9h0M107.9,877.3h0M140.0,867.8h0M181.9,825.1h0M144.4,855.2h0M155.2,857.6h0M176.4,832.3h0M197.5,810.0h0M145.7,852.5h0M155.4,840.5h0M149.8,846.2h0M167.4,837.9h0M195.9,813.2h0M125.3,871.2h0M110.6,882.5h0M156.9,843.4h0M199.1,812.8h0M139.3,865.4h0M182.5,821.8h0M169.6,840.6h0M156.4,843.4h0M154.9,844.2h0M171.2,835.9h0M154.7,850.8h0M201.9,814.0h0M154.9,852.0h0M181.4,826.5h0M128.7,873.6h0M158.5,837.1h0M163.6,831.4h0M170.6,843.0h0M203.8,806.7h0M183.8,828.4h0M191.6,819.6h0M167.4,839.2h0M107.1,872.8h0M151.2,844.4h0M146.5,863.1h0M134.2,846.0h0M146.3,858.4h0M187.0,828.3h0M177.7,831.1h0M180.4,821.7h0M102.7,879.9h0M171.0,849.9h0M146.9,845.4h0M172.0,835.8h0M123.2,867.3h0M206.2,809.7h0M139.8,854.8h0M181.3,826.9h0M156.0,847.5h0M136.4,855.3h0M164.0,840.0h0M171.7,839.5h0M126.1,869.5h0M143.3,853.4h0M152.7,853.3h0M190.0,836.8h0M175.7,826.5h0M195.8,812.4h0M122.5,870.6h0M172.0,830.4h0M169.5,842.9h0M121.2,877.1h0M198.7,807.4h0M183.2,824.5h0M172.1,830.2h0M156.3,851.1h0M181.6,828.2h0M168.2,840.2h0M166.0,831.0h0M201.8,814.8h0M184.9,831.3h0M178.8,823.1h0M148.0,850.7h0M207.6,806.8h0M165.1,843.9h0M130.2,867.1h0M173.2,834.6h0M137.7,869.2h0M154.6,842.7h0M202.6,809.7h0M199.3,806.6h0M209.0,806.6h0M169.7,836.8h0M198.4,817.5h0M196.6,814.7h0M189.9,815.1h0M181.9,827.0h0M151.0,843.5h0M189.3,819.0h0M157.9,847.5h0M171.6,835.6h0M172.1,832.1h0M155.9,856.5h0M198.3,823.0h0M114.2,879.1h0M164.6,835.2h0M139.1,851.2h0M151.9,854.2h0M190.1,821.1h0M158.4,843.0h0M138.1,860.5h0M113.5,876.8h0M186.9,826.4h0M183.3,820.1h0M206.0,816.2h0M178.9,821.8h0M125.9,866.5h0M148.6,850.5h0M194.0,829.4h0M196.8,821.4h0M163.4,834.5h0M151.9,843.9h0M112.5,877.7h0M197.5,816.2h0M145.0,848.0h0M138.2,849.3h0M203.4,810.0h0M177.2,836.2h0M175.9,827.5h0M159.3,850.4h0M164.3,820.8h0M191.7,819.3h0M204.1,808.1h0M117.7,877.9h0M156.8,857.0h0M112.4,868.4h0M190.4,821.1h0M180.7,823.2h0M146.1,856.3h0M184.3,816.9h0M168.0,845.3h0M177.2,829.4h0M176.9,840.0h0M144.7,850.8h0M180.9,830.3h0M163.6,839.6h0M173.1,829.9h0M126.4,863.8h0M204.7,804.3h0M164.3,839.5h0M176.1,826.9h0M175.9,829.3h0M175.7,835.5h0M159.7,830.4h0M131.3,856.7h0M172.7,830.2h0M189.8,812.2h0M164.1,832.2h0M167.8,842.9h0M119.3,866.7h0M167.8,840.0h0M121.9,864.8h0M193.8,807.7h0M188.6,816.0h0M163.0,831.4h0M170.3,835.9h0M144.4,887.2h0M146.1,851.1h0M168.5,849.0h0M171.0,843.3h0M158.5,841.9h0M162.1,831.0h0M146.4,855.2h0M142.2,850.6h0M93.5,884.9h0M113.8,865.8h0M135.6,860.6h0M156.5,848.8h0M157.9,852.7h0M172.7,835.7h0M178.2,825.3h0M135.3,874.2h0M128.5,861.0h0M167.9,836.1h0M165.7,836.0h0M176.8,829.3h0M158.9,840.2h0M124.6,875.7h0M183.1,824.8h0M139.9,880.5h0M121.0,871.0h0M176.7,829.0h0M200.9,816.5h0M154.3,846.2h0M150.9,848.6h0M208.0,802.7h0M112.4,845.4h0M141.1,860.6h0M155.6,846.1h0M195.9,811.4h0M190.2,818.5h0M122.3,892.2h0M194.1,816.1h0M167.5,844.4h0M144.0,852.4h0M177.8,827.9h0M111.0,880.2h0M197.7,804.4h0M180.8,821.4h0M184.0,816.7h0M141.1,862.9h0M141.4,858.9h0M177.1,830.0h0M148.7,853.4h0M154.4,849.7h0M209.7,808.2h0M141.3,851.7h0M173.4,820.8h0M188.1,822.4h0M179.5,827.6h0M175.3,834.4h0M129.6,854.1h0M161.4,849.1h0M170.6,834.5h0M179.9,821.9h0M199.4,810.0h0M186.8,820.2h0M177.8,821.6h0M167.4,834.8h0M174.9,834.8h0M187.6,824.0h0M191.1,830.0h0M158.3,837.9h0M191.3,827.1h0M155.1,823.4h0M195.4,819.0h0M163.7,836.8h0M176.4,835.0h0M127.4,889.5h0M174.2,834.1h0M157.6,847.7h0M169.4,844.5h0M167.5,836.7h0M159.5,853.3h0M164.7,845.2h0M163.8,831.0h0M186.6,822.8h0M191.7,825.7h0M165.2,845.2h0M125.2,873.1h0M96.0,873.3h0M179.6,830.7h0M179.7,818.1h0M198.4,807.7h0M211.3,806.6h0M160.5,847.8h0M133.6,855.8h0M168.8,843.4h0M204.2,818.6h0M188.4,826.9h0M196.0,820.5h0M126.6,861.6h0M200.1,805.2h0M194.1,819.2h0M164.2,837.3h0M164.4,847.0h0M143.0,867.2h0M172.7,836.2h0M165.8,838.4h0M162.7,838.6h0M141.8,837.7h0M174.5,831.6h0M168.6,834.1h0M154.5,854.3h0M120.2,877.0h0M146.6,857.8h0M161.7,817.4h0M188.0,823.7h0M203.8,808.8h0M175.6,839.5h0M176.1,827.2h0M182.8,831.4h0M191.0,814.5h0M174.1,830.4h0M150.1,845.7h0M201.2,809.3h0M158.4,838.5h0M172.2,829.7h0M178.8,844.4h0M185.4,831.0h0M164.3,845.8h0M194.0,813.2h0M175.5,819.6h0M186.1,827.4h0M164.9,855.2h0M169.5,837.4h0M136.4,857.6h0M125.4,869.5h0M161.8,837.4h0M189.7,814.8h0M151.3,847.3h0M194.5,805.5h0M174.6,835.8h0M171.9,830.9h0M213.0,806.7h0M177.4,829.7h0M169.9,841.3h0M210.5,798.3h0M173.2,833.3h0M182.9,832.4h0M137.5,859.8h0M186.3,821.8h0M153.2,852.5h0M192.4,813.9h0M154.9,843.1h0M112.4,884.1h0M186.3,823.3h0M135.5,856.9h0M133.5,879.9h0M177.2,822.8h0M156.1,857.9h0M142.8,863.9h0M151.3,849.2h0M158.4,844.7h0M160.1,841.7h0M205.4,809.8h0M148.5,843.7h0M97.3,920.6h0M165.8,836.1h0M154.4,839.5h0M188.5,822.4h0M175.9,819.0h0M106.5,883.1h0M174.6,835.7h0M152.4,842.1h0M215.6,799.3h0M123.5,869.1h0M173.8,837.0h0M133.1,851.6h0M143.2,840.3h0M153.3,863.7h0M126.0,872.6h0M193.9,802.7h0M174.0,826.3h0M176.5,820.5h0M171.0,838.3h0M92.8,896.6h0M132.4,867.6h0M155.5,843.6h0M149.3,848.6h0M191.2,812.5h0M172.3,841.2h0M150.0,843.2h0M151.9,845.6h0M147.5,850.9h0M196.8,815.2h0M181.9,822.0h0M192.6,816.2h0M187.4,818.3h0M175.8,820.9h0M172.8,838.2h0M117.6,876.8h0M167.8,839.3h0M106.2,900.1h0M159.6,841.9h0M133.3,865.0h0M204.4,817.3h0M210.0,805.4h0M186.2,830.6h0M191.2,824.9h0M175.9,837.8h0M149.9,851.0h0M180.3,830.7h0M162.6,833.7h0M174.1,839.9h0M189.1,828.2h0M165.8,843.5h0M167.1,840.8h0M175.9,835.2h0M187.4,823.9h0M197.4,814.5h0M177.8,824.8h0M130.9,857.8h0M202.1,811.2h0M172.5,836.9h0M164.6,835.7h0M162.3,843.8h0M127.6,869.4h0M180.8,818.8h0M163.3,840.4h0M158.3,842.3h0M169.9,833.2h0M146.8,857.8h0M190.6,816.2h0M162.5,828.7h0M148.9,858.8h0M150.4,846.1h0M111.9,882.6h0M209.0,804.6h0M156.8,850.2h0M132.5,865.4h0M181.4,822.4h0M190.4,836.9h0M177.4,829.1h0M161.5,843.8h0M205.0,820.1h0M153.5,856.6h0M168.2,842.7h0M176.2,831.9h0M132.5,859.4h0M171.0,814.0h0M151.7,844.7h0M169.2,835.6h0M104.8,885.3h0M180.6,827.4h0M160.5,841.8h0M180.8,829.4h0M182.4,830.6h0M168.7,844.4h0M155.9,848.5h0M164.6,845.3h0M210.1,807.7h0M139.7,857.0h0M145.1,850.9h0M173.3,830.0h0M101.7,880.8h0M146.5,853.6h0M148.2,854.6h0M201.6,808.8h0M199.1,811.6h0M133.7,863.8h0M165.2,835.3h0M206.7,810.3h0M187.4,819.4h0M155.8,841.9h0M146.1,856.5h0M168.2,836.0h0M184.8,826.5h0M192.9,819.2h0M168.9,841.5h0M191.5,823.7h0M141.5,851.7h0M139.9,866.8h0M205.7,809.5h0M115.2,876.0h0M175.1,834.8h0M190.2,830.6h0M163.0,837.3h0M180.9,824.4h0M166.8,828.8h0M165.3,845.3h0M213.2,799.6h0M115.8,877.2h0M172.6,828.3h0M137.3,864.3h0M158.9,843.2h0M211.6,804.8h0M186.5,815.5h0M188.8,826.9h0M170.1,824.6h0M161.7,842.8h0M171.2,843.1h0M181.6,824.1h0M94.4,888.5h0M190.8,826.6h0M186.3,819.3h0M167.7,839.5h0M169.3,823.3h0M144.8,863.3h0M162.5,841.3h0M154.1,849.1h0M196.5,811.0h0M173.3,832.3h0M169.9,832.8h0M183.2,824.6h0M207.6,802.0h0M147.3,848.9h0M201.4,813.4h0M187.9,844.0h0M190.0,819.2h0M136.6,861.8h0M172.3,831.6h0M201.5,818.7h0M140.0,844.4h0M191.9,822.3h0M171.3,833.0h0M180.9,820.7h0M142.4,852.8h0M162.0,840.4h0M152.3,858.2h0M148.8,847.9h0M128.3,874.1h0M162.4,837.8h0M149.7,843.8h0M147.8,868.3h0M160.6,844.3h0M127.2,841.4h0M151.2,844.2h0M177.7,831.9h0M165.4,837.7h0M178.2,826.4h0M180.0,822.9h0M124.3,866.0h0M186.0,821.6h0M189.8,832.6h0M185.7,829.4h0M134.0,870.4h0M183.3,811.7h0M190.1,824.2h0M158.2,846.4h0M206.4,806.2h0M158.6,856.9h0M190.1,816.1h0M164.7,837.4h0M152.8,839.4h0M189.1,826.5h0M170.9,841.4h0M185.3,814.8h0M159.7,850.1h0M195.4,821.1h0M170.8,829.8h0M168.5,835.6h0M154.9,852.0h0M113.7,880.7h0M187.4,819.4h0M163.9,828.9h0M215.2,802.8h0M181.3,825.3h0M142.0,855.5h0M190.6,822.2h0M151.2,851.4h0M205.8,811.3h0M173.2,821.5h0M152.0,855.3h0M143.5,847.9h0M152.3,849.3h0M128.6,869.8h0M185.6,821.2h0M192.6,813.9h0M151.7,860.4h0M176.8,822.2h0M185.8,834.5h0M162.2,838.4h0M156.7,842.1h0M167.5,837.7h0M177.6,824.9h0M131.8,856.3h0M117.9,876.9h0M136.5,854.0h0M152.3,855.7h0M155.7,840.3h0M150.4,847.1h0M185.6,815.9h0M165.5,834.4h0M127.7,874.4h0M103.0,891.3h0M165.4,841.2h0M202.0,804.3h0M212.7,803.3h0M176.0,838.3h0M141.8,854.2h0M133.0,867.4h0M173.3,834.6h0M173.5,834.8h0M182.3,825.7h0M175.3,830.8h0M162.6,845.2h0M170.4,820.5h0M161.8,846.1h0M161.5,846.2h0M153.8,856.3h0M128.0,866.1h0M160.0,849.8h0M178.9,831.8h0M160.9,836.2h0M148.2,840.9h0M191.2,818.8h0M189.8,817.0h0M178.8,828.9h0M156.4,850.4h0M147.7,849.7h0M186.2,826.4h0M143.8,849.8h0M158.0,842.1h0M116.0,870.4h0M158.8,841.4h0M186.9,821.9h0M148.2,858.1h0M106.6,883.5h0M206.3,806.3h0M205.4,805.3h0M182.8,832.8h0M185.6,818.8h0M111.2,882.6h0M198.1,810.3h0M166.8,839.1h0M192.6,817.3h0M177.6,822.3h0M179.0,828.4h0M189.8,819.4h0M204.1,812.4h0M104.7,886.7h0M107.5,895.6h0M191.2,808.6h0M160.0,847.6h0M175.9,836.9h0M179.6,828.8h0M116.0,874.6h0M162.8,855.4h0M179.4,832.6h0M183.5,825.7h0M152.8,858.0h0M176.5,820.9h0M161.3,846.4h0M202.2,804.5h0M160.2,845.2h0M139.9,870.4h0M193.0,818.3h0M187.4,826.6h0M175.0,829.9h0M191.0,819.8h0M185.4,839.6h0M151.5,841.0h0M180.8,844.3h0M139.4,850.5h0M187.5,822.7h0M150.6,849.8h0M205.9,811.5h0M162.8,831.0h0M157.5,857.0h0M176.3,828.5h0M177.8,833.6h0M159.2,845.2h0M188.1,827.0h0M145.7,857.9h0M114.4,869.1h0M147.5,861.3h0M143.5,869.2h0M180.1,828.3h0M136.4,870.6h0M132.9,865.3h0M157.1,848.2h0M177.9,828.3h0M182.7,825.9h0M208.8,813.6h0M133.9,868.2h0M178.9,823.0h0M144.7,853.6h0M172.2,825.8h0M176.9,827.2h0M135.5,870.8h0M148.3,847.5h0M189.7,819.2h0M96.1,898.0h0M194.7,817.8h0M147.1,841.3h0M190.3,833.6h0M214.0,811.0h0M151.6,854.1h0M137.0,858.5h0M179.9,834.6h0M169.8,834.5h0M173.5,819.7h0M122.2,870.7h0M165.7,845.9h0M201.5,807.5h0M146.4,839.0h0M162.1,842.3h0M185.2,820.8h0M150.7,860.6h0M156.8,852.8h0M176.3,841.5h0M170.6,833.1h0M163.2,837.3h0M198.1,809.2h0M180.9,826.4h0M130.1,866.3h0M165.5,837.5h0M160.0,847.8h0M155.7,854.9h0M175.1,831.2h0M177.7,815.4h0M166.7,835.4h0M175.4,828.7h0M160.5,831.9h0M139.2,859.6h0M180.5,829.2h0M138.2,860.2h0M179.4,829.2h0M185.2,826.2h0M195.7,809.9h0M151.4,852.8h0M160.2,843.0h0M183.8,829.8h0M150.4,856.4h0M175.7,830.4h0M161.6,835.2h0M144.5,861.6h0M165.0,837.3h0M180.6,830.4h0M156.0,811.4h0M154.2,841.7h0M155.6,854.7h0M169.4,837.8h0M161.6,851.0h0M133.0,843.7h0M185.0,821.2h0M191.9,819.6h0M181.7,826.7h0M167.2,837.4h0M162.8,843.3h0M160.2,843.9h0M168.4,829.6h0M155.3,857.9h0M156.8,850.0h0M199.8,820.1h0M161.0,838.5h0M165.4,844.6h0M158.7,845.9h0M170.5,836.8h0M179.0,823.2h0M187.6,822.0h0M132.3,857.2h0M164.6,840.5h0M164.6,843.1h0M187.9,819.0h0M202.9,819.7h0M178.6,835.6h0M167.9,842.4h0M190.2,816.2h0M148.6,869.8h0M214.5,806.5h0M122.9,869.8h0M180.2,819.9h0M192.3,824.0h0M186.2,816.4h0M185.5,821.0h0M155.8,851.1h0M178.3,831.5h0M197.6,800.9h0M193.6,822.6h0M168.2,835.6h0M170.1,839.0h0M172.8,831.3h0M154.0,843.7h0M197.0,811.1h0M182.2,831.1h0M162.3,837.5h0M167.7,839.5h0M175.3,827.0h0M168.7,837.3h0M172.7,831.9h0M192.9,819.7h0M194.5,814.8h0M200.0,807.5h0M145.1,857.6h0M168.8,833.6h0M170.0,841.6h0M197.6,815.3h0M162.2,842.7h0M133.5,858.7h0M178.6,823.5h0M152.7,847.2h0M175.3,841.4h0M146.7,863.1h0M150.4,843.0h0M139.6,860.8h0M185.2,827.2h0M157.0,846.9h0M148.8,844.3h0M202.4,808.2h0M173.2,838.3h0M175.8,841.5h0M172.1,846.9h0M128.8,869.8h0M198.8,819.5h0M184.5,815.9h0M145.5,846.0h0M193.2,809.4h0M175.1,829.9h0M195.3,817.2h0M131.7,864.7h0M149.3,852.6h0M187.0,820.4h0M178.1,822.5h0M175.9,833.4h0M170.6,832.6h0M185.7,807.9h0M137.3,854.0h0M146.0,865.3h0M146.3,859.2h0M129.1,871.1h0M171.8,837.9h0M143.5,864.8h0M170.6,839.1h0M180.3,833.4h0M194.7,814.6h0M106.4,881.4h0M191.7,817.2h0M175.7,826.8h0M125.3,865.2h0M142.6,869.9h0M161.7,841.5h0M184.8,811.1h0M173.9,831.1h0M204.0,804.9h0M191.9,819.1h0M157.7,837.3h0M162.5,830.8h0M192.4,807.8h0M153.7,841.0h0M171.8,845.7h0M203.1,812.3h0M164.7,839.8h0M182.6,829.4h0M171.6,832.4h0M200.7,805.0h0M155.1,844.5h0M167.1,837.8h0M184.1,830.3h0M188.2,821.0h0M122.4,860.1h0M165.1,841.7h0M164.5,826.6h0M193.1,809.8h0M173.0,836.8h0M180.9,826.5h0M179.2,833.0h0M131.7,871.3h0M131.4,864.3h0M109.2,884.9h0M172.9,829.9h0M140.2,853.6h0M158.3,848.0h0M175.5,829.8h0M203.3,810.9h0M191.0,822.2h0M152.9,852.9h0M184.6,825.4h0M196.6,807.6h0M188.8,818.4h0M192.2,814.2h0M168.0,851.7h0M160.3,828.8h0M153.0,842.4h0M175.3,834.2h0M206.9,807.8h0M183.6,826.5h0M131.5,859.7h0M178.7,829.2h0M168.2,849.0h0M147.9,855.5h0M173.4,827.8h0M185.8,824.7h0M141.8,866.2h0M117.0,892.7h0M174.6,839.7h0M132.1,856.3h0M171.8,824.9h0M136.1,863.9h0M181.2,818.5h0M131.9,862.6h0M175.2,830.5h0M163.3,837.5h0M160.9,839.8h0M120.1,861.4h0M163.5,859.8h0M174.7,827.7h0M93.6,891.0h0M162.4,841.4h0M157.6,847.6h0M173.7,835.7h0M145.8,849.7h0M154.3,858.2h0M118.5,870.4h0M194.2,821.2h0M165.2,848.2h0M146.4,877.5h0M196.1,817.2h0M188.9,814.7h0M107.6,878.5h0M121.5,874.5h0M169.6,844.6h0M174.7,839.5h0M151.1,859.1h0M180.6,822.2h0M149.2,863.1h0M115.0,877.3h0M199.4,820.7h0M165.2,840.0h0M182.7,845.4h0M100.5,875.4h0M177.4,825.7h0M152.6,841.5h0M195.8,811.8h0M156.3,852.9h0M116.9,870.2h0M152.3,841.8h0M180.4,833.7h0M177.2,829.3h0M199.0,814.1h0M167.8,838.0h0M145.0,856.0h0M150.1,857.3h0M165.0,841.7h0M182.7,834.4h0M100.8,873.9h0M165.9,833.0h0M163.2,834.1h0M171.4,828.8h0M178.3,826.8h0M206.8,803.0h0M174.5,843.1h0M163.1,843.2h0M171.8,844.5h0M158.7,851.5h0M168.7,822.5h0M157.0,841.5h0M196.1,815.0h0M156.7,848.4h0M215.2,798.8h0M127.6,860.7h0M162.8,848.1h0M190.5,818.7h0M194.0,809.5h0M162.4,841.6h0M148.5,856.2h0M150.8,839.5h0M189.2,817.1h0M168.9,834.4h0M156.0,852.0h0M165.6,835.0h0M167.7,837.9h0M161.7,834.1h0M142.1,865.7h0M181.5,824.9h0M170.4,829.5h0M128.2,850.7h0M147.7,849.0h0M207.7,801.3h0M128.8,867.4h0M174.9,833.1h0M130.7,861.0h0M158.6,845.7h0M180.8,832.6h0M104.8,892.8h0M193.3,819.8h0M148.4,839.7h0M129.9,869.1h0M153.9,849.6h0M153.8,863.2h0M175.2,833.5h0M154.4,851.9h0M167.3,834.2h0M171.1,842.1h0M191.4,820.4h0M162.3,850.0h0M162.0,838.5h0M174.4,825.2h0M177.7,825.8h0M177.7,827.5h0M193.6,815.0h0M153.1,867.7h0M140.6,848.9h0M164.5,836.6h0M167.6,850.3h0M164.2,842.4h0M78.0,893.6h0" stroke="#17b6c8" stroke-width="2.3" stroke-linecap="round" fill="none"/>
<g><circle cx="217.5" cy="782.1" r="4.3" fill="none" stroke="#17b6c8" stroke-width="0.9"/><circle cx="244.5" cy="779.9" r="4.3" fill="none" stroke="#17b6c8" stroke-width="0.9"/><circle cx="244.0" cy="780.7" r="4.3" fill="none" stroke="#17b6c8" stroke-width="0.9"/><circle cx="254.2" cy="780.3" r="4.3" fill="none" stroke="#17b6c8" stroke-width="0.9"/><circle cx="237.8" cy="786.1" r="4.3" fill="none" stroke="#17b6c8" stroke-width="0.9"/><circle cx="232.8" cy="785.1" r="4.3" fill="none" stroke="#17b6c8" stroke-width="0.9"/><circle cx="231.3" cy="785.8" r="4.3" fill="none" stroke="#17b6c8" stroke-width="0.9"/><circle cx="230.4" cy="787.0" r="4.3" fill="none" stroke="#17b6c8" stroke-width="0.9"/><circle cx="232.3" cy="786.7" r="4.3" fill="none" stroke="#17b6c8" stroke-width="0.9"/><circle cx="234.0" cy="788.3" r="4.3" fill="none" stroke="#17b6c8" stroke-width="0.9"/><circle cx="236.7" cy="789.0" r="4.3" fill="none" stroke="#17b6c8" stroke-width="0.9"/><circle cx="229.5" cy="789.1" r="4.3" fill="none" stroke="#17b6c8" stroke-width="0.9"/><circle cx="226.5" cy="790.1" r="4.3" fill="none" stroke="#17b6c8" stroke-width="0.9"/><circle cx="225.8" cy="788.3" r="4.3" fill="none" stroke="#17b6c8" stroke-width="0.9"/><circle cx="224.2" cy="786.3" r="4.3" fill="none" stroke="#17b6c8" stroke-width="0.9"/><circle cx="224.0" cy="788.0" r="4.3" fill="none" stroke="#17b6c8" stroke-width="0.9"/><circle cx="221.9" cy="789.8" r="4.3" fill="none" stroke="#17b6c8" stroke-width="0.9"/><circle cx="219.8" cy="790.5" r="4.3" fill="none" stroke="#17b6c8" stroke-width="0.9"/><circle cx="218.8" cy="791.6" r="4.3" fill="none" stroke="#17b6c8" stroke-width="0.9"/><circle cx="243.8" cy="788.3" r="4.3" fill="none" stroke="#17b6c8" stroke-width="0.9"/><circle cx="245.1" cy="788.3" r="4.3" fill="none" stroke="#17b6c8" stroke-width="0.9"/><circle cx="247.5" cy="789.5" r="4.3" fill="none" stroke="#17b6c8" stroke-width="0.9"/><circle cx="244.5" cy="797.1" r="4.3" fill="none" stroke="#17b6c8" stroke-width="0.9"/><circle cx="231.3" cy="795.9" r="4.3" fill="none" stroke="#17b6c8" stroke-width="0.9"/><circle cx="231.3" cy="797.7" r="4.3" fill="none" stroke="#17b6c8" stroke-width="0.9"/><circle cx="228.9" cy="797.1" r="4.3" fill="none" stroke="#17b6c8" stroke-width="0.9"/><circle cx="220.2" cy="792.9" r="4.3" fill="none" stroke="#17b6c8" stroke-width="0.9"/><circle cx="223.4" cy="797.0" r="4.3" fill="none" stroke="#17b6c8" stroke-width="0.9"/><circle cx="218.2" cy="796.9" r="4.3" fill="none" stroke="#17b6c8" stroke-width="0.9"/><circle cx="228.0" cy="790.2" r="4.3" fill="none" stroke="#17b6c8" stroke-width="0.9"/><circle cx="218.5" cy="795.2" r="4.3" fill="none" stroke="#17b6c8" stroke-width="0.9"/><circle cx="219.8" cy="791.8" r="4.3" fill="none" stroke="#17b6c8" stroke-width="0.9"/><circle cx="217.2" cy="796.3" r="4.3" fill="none" stroke="#17b6c8" stroke-width="0.9"/><circle cx="226.6" cy="792.7" r="4.3" fill="none" stroke="#17b6c8" stroke-width="0.9"/><circle cx="223.9" cy="793.5" r="4.3" fill="none" stroke="#17b6c8" stroke-width="0.9"/><circle cx="221.4" cy="795.2" r="4.3" fill="none" stroke="#17b6c8" stroke-width="0.9"/><circle cx="219.9" cy="796.9" r="4.3" fill="none" stroke="#17b6c8" stroke-width="0.9"/><circle cx="218.7" cy="796.2" r="4.3" fill="none" stroke="#17b6c8" stroke-width="0.9"/><circle cx="217.6" cy="791.5" r="4.3" fill="none" stroke="#17b6c8" stroke-width="0.9"/><circle cx="219.3" cy="794.3" r="4.3" fill="none" stroke="#17b6c8" stroke-width="0.9"/><circle cx="226.1" cy="795.1" r="4.3" fill="none" stroke="#17b6c8" stroke-width="0.9"/><circle cx="221.6" cy="791.6" r="4.3" fill="none" stroke="#17b6c8" stroke-width="0.9"/><circle cx="222.2" cy="796.9" r="4.3" fill="none" stroke="#17b6c8" stroke-width="0.9"/><circle cx="221.6" cy="796.3" r="4.3" fill="none" stroke="#17b6c8" stroke-width="0.9"/><circle cx="222.0" cy="796.4" r="4.3" fill="none" stroke="#17b6c8" stroke-width="0.9"/><circle cx="223.2" cy="793.1" r="4.3" fill="none" stroke="#17b6c8" stroke-width="0.9"/><circle cx="217.7" cy="797.0" r="4.3" fill="none" stroke="#17b6c8" stroke-width="0.9"/><circle cx="220.5" cy="796.5" r="4.3" fill="none" stroke="#17b6c8" stroke-width="0.9"/><circle cx="221.1" cy="795.9" r="4.3" fill="none" stroke="#17b6c8" stroke-width="0.9"/><circle cx="218.6" cy="793.9" r="4.3" fill="none" stroke="#17b6c8" stroke-width="0.9"/><circle cx="219.6" cy="796.8" r="4.3" fill="none" stroke="#17b6c8" stroke-width="0.9"/><circle cx="217.0" cy="796.1" r="4.3" fill="none" stroke="#17b6c8" stroke-width="0.9"/><circle cx="227.4" cy="793.9" r="4.3" fill="none" stroke="#17b6c8" stroke-width="0.9"/><circle cx="219.4" cy="795.7" r="4.3" fill="none" stroke="#17b6c8" stroke-width="0.9"/><circle cx="216.3" cy="795.6" r="4.3" fill="none" stroke="#17b6c8" stroke-width="0.9"/><circle cx="220.2" cy="796.8" r="4.3" fill="none" stroke="#17b6c8" stroke-width="0.9"/><circle cx="219.1" cy="796.2" r="4.3" fill="none" stroke="#17b6c8" stroke-width="0.9"/><circle cx="220.8" cy="795.0" r="4.3" fill="none" stroke="#17b6c8" stroke-width="0.9"/><circle cx="218.6" cy="795.9" r="4.3" fill="none" stroke="#17b6c8" stroke-width="0.9"/><circle cx="217.3" cy="795.1" r="4.3" fill="none" stroke="#17b6c8" stroke-width="0.9"/><circle cx="229.5" cy="795.7" r="4.3" fill="none" stroke="#17b6c8" stroke-width="0.9"/><circle cx="223.3" cy="795.8" r="4.3" fill="none" stroke="#17b6c8" stroke-width="0.9"/><circle cx="218.2" cy="792.1" r="4.3" fill="none" stroke="#17b6c8" stroke-width="0.9"/><circle cx="219.7" cy="794.3" r="4.3" fill="none" stroke="#17b6c8" stroke-width="0.9"/><circle cx="221.5" cy="795.9" r="4.3" fill="none" stroke="#17b6c8" stroke-width="0.9"/><circle cx="224.1" cy="797.1" r="4.3" fill="none" stroke="#17b6c8" stroke-width="0.9"/><circle cx="218.5" cy="793.1" r="4.3" fill="none" stroke="#17b6c8" stroke-width="0.9"/><circle cx="219.4" cy="794.8" r="4.3" fill="none" stroke="#17b6c8" stroke-width="0.9"/><circle cx="222.1" cy="796.4" r="4.3" fill="none" stroke="#17b6c8" stroke-width="0.9"/><circle cx="218.5" cy="794.3" r="4.3" fill="none" stroke="#17b6c8" stroke-width="0.9"/><circle cx="224.3" cy="795.3" r="4.3" fill="none" stroke="#17b6c8" stroke-width="0.9"/></g>
<g><path d="M219.5,807.5L225.5,813.5M219.5,813.5L225.5,807.5" stroke="#a83228" stroke-width="0.9" fill="none"/><path d="M221.6,804.1L227.6,810.1M221.6,810.1L227.6,804.1" stroke="#a83228" stroke-width="0.9" fill="none"/><path d="M223.1,801.1L229.1,807.1M223.1,807.1L229.1,801.1" stroke="#a83228" stroke-width="0.9" fill="none"/><path d="M226.6,799.0L232.6,805.0M226.6,805.0L232.6,799.0" stroke="#a83228" stroke-width="0.9" fill="none"/><path d="M224.7,795.6L230.7,801.6M224.7,801.6L230.7,795.6" stroke="#a83228" stroke-width="0.9" fill="none"/><path d="M216.3,801.1L222.3,807.1M216.3,807.1L222.3,801.1" stroke="#a83228" stroke-width="0.9" fill="none"/><path d="M214.9,799.5L220.9,805.5M214.9,805.5L220.9,799.5" stroke="#a83228" stroke-width="0.9" fill="none"/><path d="M217.1,796.5L223.1,802.5M217.1,802.5L223.1,796.5" stroke="#a83228" stroke-width="0.9" fill="none"/><path d="M214.9,795.9L220.9,801.9M214.9,801.9L220.9,795.9" stroke="#a83228" stroke-width="0.9" fill="none"/><path d="M214.1,797.3L220.1,803.3M214.1,803.3L220.1,797.3" stroke="#a83228" stroke-width="0.9" fill="none"/><path d="M213.7,800.7L219.7,806.7M213.7,806.7L219.7,800.7" stroke="#a83228" stroke-width="0.9" fill="none"/><path d="M215.5,797.9L221.5,803.9M215.5,803.9L221.5,797.9" stroke="#a83228" stroke-width="0.9" fill="none"/><path d="M217.0,802.6L223.0,808.6M217.0,808.6L223.0,802.6" stroke="#a83228" stroke-width="0.9" fill="none"/><path d="M213.7,799.3L219.7,805.3M213.7,805.3L219.7,799.3" stroke="#a83228" stroke-width="0.9" fill="none"/><path d="M216.2,797.6L222.2,803.6M216.2,803.6L222.2,797.6" stroke="#a83228" stroke-width="0.9" fill="none"/><path d="M213.4,796.5L219.4,802.5M213.4,802.5L219.4,796.5" stroke="#a83228" stroke-width="0.9" fill="none"/><path d="M213.6,799.9L219.6,805.9M213.6,805.9L219.6,799.9" stroke="#a83228" stroke-width="0.9" fill="none"/><path d="M213.6,796.7L219.6,802.7M213.6,802.7L219.6,796.7" stroke="#a83228" stroke-width="0.9" fill="none"/><path d="M214.6,801.3L220.6,807.3M214.6,807.3L220.6,801.3" stroke="#a83228" stroke-width="0.9" fill="none"/><path d="M214.3,795.7L220.3,801.7M214.3,801.7L220.3,795.7" stroke="#a83228" stroke-width="0.9" fill="none"/><path d="M214.5,797.4L220.5,803.4M214.5,803.4L220.5,797.4" stroke="#a83228" stroke-width="0.9" fill="none"/><path d="M214.9,795.9L220.9,801.9M214.9,801.9L220.9,795.9" stroke="#a83228" stroke-width="0.9" fill="none"/><path d="M216.4,796.0L222.4,802.0M216.4,802.0L222.4,796.0" stroke="#a83228" stroke-width="0.9" fill="none"/><path d="M218.2,795.3L224.2,801.3M218.2,801.3L224.2,795.3" stroke="#a83228" stroke-width="0.9" fill="none"/><path d="M215.0,798.5L221.0,804.5M215.0,804.5L221.0,798.5" stroke="#a83228" stroke-width="0.9" fill="none"/><path d="M214.2,797.1L220.2,803.1M214.2,803.1L220.2,797.1" stroke="#a83228" stroke-width="0.9" fill="none"/><path d="M215.0,797.4L221.0,803.4M215.0,803.4L221.0,797.4" stroke="#a83228" stroke-width="0.9" fill="none"/><path d="M214.0,798.0L220.0,804.0M214.0,804.0L220.0,798.0" stroke="#a83228" stroke-width="0.9" fill="none"/><path d="M216.2,796.2L222.2,802.2M216.2,802.2L222.2,796.2" stroke="#a83228" stroke-width="0.9" fill="none"/><path d="M214.4,798.7L220.4,804.7M214.4,804.7L220.4,798.7" stroke="#a83228" stroke-width="0.9" fill="none"/><path d="M216.7,797.5L222.7,803.5M216.7,803.5L222.7,797.5" stroke="#a83228" stroke-width="0.9" fill="none"/><path d="M214.2,795.7L220.2,801.7M214.2,801.7L220.2,795.7" stroke="#a83228" stroke-width="0.9" fill="none"/><path d="M215.0,797.9L221.0,803.9M215.0,803.9L221.0,797.9" stroke="#a83228" stroke-width="0.9" fill="none"/><path d="M216.6,796.0L222.6,802.0M216.6,802.0L222.6,796.0" stroke="#a83228" stroke-width="0.9" fill="none"/><path d="M214.6,799.7L220.6,805.7M214.6,805.7L220.6,799.7" stroke="#a83228" stroke-width="0.9" fill="none"/></g>
<g><path d="M212.7,781.5L216.9,786.7L212.7,791.9L208.5,786.7Z" stroke="#a83228" stroke-width="0.9" fill="none"/><path d="M208.0,786.0L212.2,791.2L208.0,796.4L203.8,791.2Z" stroke="#a83228" stroke-width="0.9" fill="none"/><path d="M209.0,790.1L213.2,795.3L209.0,800.5L204.8,795.3Z" stroke="#a83228" stroke-width="0.9" fill="none"/><path d="M209.9,791.9L214.1,797.1L209.9,802.3L205.7,797.1Z" stroke="#a83228" stroke-width="0.9" fill="none"/><path d="M212.3,791.9L216.5,797.1L212.3,802.3L208.1,797.1Z" stroke="#a83228" stroke-width="0.9" fill="none"/><path d="M213.6,788.2L217.8,793.4L213.6,798.6L209.4,793.4Z" stroke="#a83228" stroke-width="0.9" fill="none"/><path d="M213.0,787.4L217.2,792.6L213.0,797.8L208.8,792.6Z" stroke="#a83228" stroke-width="0.9" fill="none"/><path d="M210.4,790.9L214.6,796.1L210.4,801.3L206.2,796.1Z" stroke="#a83228" stroke-width="0.9" fill="none"/><path d="M213.9,791.8L218.1,797.0L213.9,802.2L209.7,797.0Z" stroke="#a83228" stroke-width="0.9" fill="none"/><path d="M215.3,792.3L219.5,797.5L215.3,802.7L211.1,797.5Z" stroke="#a83228" stroke-width="0.9" fill="none"/><path d="M213.1,790.3L217.3,795.5L213.1,800.7L208.9,795.5Z" stroke="#a83228" stroke-width="0.9" fill="none"/><path d="M207.3,791.6L211.5,796.8L207.3,802.0L203.1,796.8Z" stroke="#a83228" stroke-width="0.9" fill="none"/><path d="M213.5,792.2L217.7,797.4L213.5,802.6L209.3,797.4Z" stroke="#a83228" stroke-width="0.9" fill="none"/><path d="M209.3,787.9L213.5,793.1L209.3,798.3L205.1,793.1Z" stroke="#a83228" stroke-width="0.9" fill="none"/><path d="M215.7,791.9L219.9,797.1L215.7,802.3L211.5,797.1Z" stroke="#a83228" stroke-width="0.9" fill="none"/><path d="M206.0,789.8L210.2,795.0L206.0,800.2L201.8,795.0Z" stroke="#a83228" stroke-width="0.9" fill="none"/><path d="M212.3,791.1L216.5,796.3L212.3,801.5L208.1,796.3Z" stroke="#a83228" stroke-width="0.9" fill="none"/><path d="M211.1,790.5L215.3,795.7L211.1,800.9L206.9,795.7Z" stroke="#a83228" stroke-width="0.9" fill="none"/><path d="M214.4,792.0L218.6,797.2L214.4,802.4L210.2,797.2Z" stroke="#a83228" stroke-width="0.9" fill="none"/><path d="M215.6,792.6L219.8,797.8L215.6,803.0L211.4,797.8Z" stroke="#a83228" stroke-width="0.9" fill="none"/><path d="M214.5,791.5L218.7,796.7L214.5,801.9L210.3,796.7Z" stroke="#a83228" stroke-width="0.9" fill="none"/></g>
<line x1="38.50" y1="939.30" x2="294.70" y2="735.40" stroke="#8a93b2" stroke-width="1.45"/>
<line x1="38.50" y1="931.14" x2="284.45" y2="735.40" stroke="#3aad3a" stroke-width="1.25" stroke-dasharray="5.5,5"/>
<line x1="48.75" y1="939.30" x2="294.70" y2="743.56" stroke="#3aad3a" stroke-width="1.25" stroke-dasharray="5.5,5"/>
<line x1="216.30" y1="735.4" x2="216.30" y2="939.3" stroke="#8a93b2" stroke-width="1.45"/>
</g>
<line x1="38.5" y1="797.79" x2="295.2" y2="797.79" stroke="#8a93b2" stroke-width="1.45"/>
<rect x="192.22" y="755.79" width="76.86" height="61.17" fill="none" stroke="#a07aa4" stroke-width="2.6"/>
<line x1="38.5" y1="735.4" x2="38.5" y2="939.8" stroke="#626262" stroke-width="1.1"/>
<line x1="38.0" y1="939.3" x2="295.2" y2="939.3" stroke="#626262" stroke-width="1.1"/>
<line x1="38.50" y1="939.3" x2="38.50" y2="936.3" stroke="#626262" stroke-width="1"/>
<line x1="38.5" y1="939.30" x2="41.5" y2="939.30" stroke="#626262" stroke-width="1"/>
<text x="38.50" y="957.30" font-size="14" text-anchor="middle" fill="#222222">2</text>
<text x="32.50" y="944.30" font-size="14" text-anchor="end" fill="#222222">2</text>
<line x1="89.74" y1="939.3" x2="89.74" y2="936.3" stroke="#626262" stroke-width="1"/>
<line x1="38.5" y1="898.52" x2="41.5" y2="898.52" stroke="#626262" stroke-width="1"/>
<text x="89.74" y="957.30" font-size="14" text-anchor="middle" fill="#222222">3</text>
<text x="32.50" y="903.52" font-size="14" text-anchor="end" fill="#222222">3</text>
<line x1="140.98" y1="939.3" x2="140.98" y2="936.3" stroke="#626262" stroke-width="1"/>
<line x1="38.5" y1="857.74" x2="41.5" y2="857.74" stroke="#626262" stroke-width="1"/>
<text x="140.98" y="957.30" font-size="14" text-anchor="middle" fill="#222222">4</text>
<text x="32.50" y="862.74" font-size="14" text-anchor="end" fill="#222222">4</text>
<line x1="192.22" y1="939.3" x2="192.22" y2="936.3" stroke="#626262" stroke-width="1"/>
<line x1="38.5" y1="816.96" x2="41.5" y2="816.96" stroke="#626262" stroke-width="1"/>
<text x="192.22" y="957.30" font-size="14" text-anchor="middle" fill="#222222">5</text>
<text x="32.50" y="821.96" font-size="14" text-anchor="end" fill="#222222">5</text>
<line x1="243.46" y1="939.3" x2="243.46" y2="936.3" stroke="#626262" stroke-width="1"/>
<line x1="38.5" y1="776.18" x2="41.5" y2="776.18" stroke="#626262" stroke-width="1"/>
<text x="243.46" y="957.30" font-size="14" text-anchor="middle" fill="#222222">6</text>
<text x="32.50" y="781.18" font-size="14" text-anchor="end" fill="#222222">6</text>
<line x1="294.70" y1="939.3" x2="294.70" y2="936.3" stroke="#626262" stroke-width="1"/>
<line x1="38.5" y1="735.40" x2="41.5" y2="735.40" stroke="#626262" stroke-width="1"/>
<text x="294.70" y="957.30" font-size="14" text-anchor="middle" fill="#222222">7</text>
<text x="32.50" y="740.40" font-size="14" text-anchor="end" fill="#222222">7</text>
<text x="166.60" y="731.40" font-size="16.6" font-weight="bold" text-anchor="middle" fill="#000">iCNN-BiLSTM ast03</text>
<text x="3" y="737.60" font-size="16" fill="#111">(c)</text>
<text transform="translate(18.5,837.35) rotate(-90)" font-size="16.5" text-anchor="middle" fill="#222222">Predictions (m)</text>
<line x1="344.40" y1="735.4" x2="344.40" y2="939.3" stroke="#e3e3e3" stroke-width="1"/>
<line x1="344.4" y1="939.30" x2="600.8" y2="939.30" stroke="#e3e3e3" stroke-width="1"/>
<line x1="424.74" y1="735.4" x2="424.74" y2="939.3" stroke="#e3e3e3" stroke-width="1"/>
<line x1="344.4" y1="875.41" x2="600.8" y2="875.41" stroke="#e3e3e3" stroke-width="1"/>
<line x1="515.33" y1="735.4" x2="515.33" y2="939.3" stroke="#e3e3e3" stroke-width="1"/>
<line x1="344.4" y1="803.37" x2="600.8" y2="803.37" stroke="#e3e3e3" stroke-width="1"/>
<line x1="600.80" y1="735.4" x2="600.80" y2="939.3" stroke="#e3e3e3" stroke-width="1"/>
<line x1="344.4" y1="735.40" x2="600.8" y2="735.40" stroke="#e3e3e3" stroke-width="1"/>
<clipPath id="cr1"><rect x="344.4" y="735.4" width="256.4" height="203.9"/></clipPath>
<g clip-path="url(#cr1)">
<g><circle cx="428.7" cy="823.2" r="5.0" fill="none" stroke="#23c0ad" stroke-width="1"/><circle cx="518.7" cy="815.9" r="5.0" fill="none" stroke="#4459f3" stroke-width="1"/><circle cx="517.0" cy="818.3" r="5.0" fill="none" stroke="#415ff5" stroke-width="1"/><circle cx="551.0" cy="817.1" r="5.0" fill="none" stroke="#0db3cd" stroke-width="1"/><circle cx="496.6" cy="836.3" r="5.0" fill="none" stroke="#3c68f8" stroke-width="1"/><circle cx="479.8" cy="833.0" r="5.0" fill="none" stroke="#3e26ae" stroke-width="1"/><circle cx="474.9" cy="835.5" r="5.0" fill="none" stroke="#3c24a8" stroke-width="1"/><circle cx="471.6" cy="839.6" r="5.0" fill="none" stroke="#3e26af" stroke-width="1"/><circle cx="478.2" cy="838.3" r="5.0" fill="none" stroke="#422fc7" stroke-width="1"/><circle cx="483.9" cy="843.7" r="5.0" fill="none" stroke="#4359f3" stroke-width="1"/><circle cx="492.9" cy="846.1" r="5.0" fill="none" stroke="#3186f1" stroke-width="1"/><circle cx="468.8" cy="846.5" r="5.0" fill="none" stroke="#4332cc" stroke-width="1"/><circle cx="458.6" cy="849.8" r="5.0" fill="none" stroke="#3e26ae" stroke-width="1"/><circle cx="456.5" cy="843.7" r="5.0" fill="none" stroke="#4433ce" stroke-width="1"/><circle cx="451.2" cy="837.1" r="5.0" fill="none" stroke="#3e64f7" stroke-width="1"/><circle cx="450.4" cy="842.8" r="5.0" fill="none" stroke="#484aea" stroke-width="1"/><circle cx="443.4" cy="848.6" r="5.0" fill="none" stroke="#4849e9" stroke-width="1"/><circle cx="436.5" cy="851.0" r="5.0" fill="none" stroke="#4458f3" stroke-width="1"/><circle cx="433.2" cy="854.7" r="5.0" fill="none" stroke="#4752f1" stroke-width="1"/><circle cx="516.6" cy="843.7" r="5.0" fill="none" stroke="#0fb1cf" stroke-width="1"/><circle cx="520.7" cy="843.7" r="5.0" fill="none" stroke="#08b9c6" stroke-width="1"/><circle cx="528.9" cy="847.7" r="5.0" fill="none" stroke="#49c983" stroke-width="1"/><circle cx="518.7" cy="873.1" r="5.0" fill="none" stroke="#d3bd28" stroke-width="1"/><circle cx="474.9" cy="869.0" r="5.0" fill="none" stroke="#209de0" stroke-width="1"/><circle cx="474.9" cy="875.1" r="5.0" fill="none" stroke="#13add3" stroke-width="1"/><circle cx="466.7" cy="873.1" r="5.0" fill="none" stroke="#2197e1" stroke-width="1"/><circle cx="437.7" cy="858.9" r="5.0" fill="none" stroke="#4332cc" stroke-width="1"/><circle cx="448.4" cy="872.9" r="5.0" fill="none" stroke="#415ff5" stroke-width="1"/><circle cx="431.0" cy="872.3" r="5.0" fill="none" stroke="#3e26b1" stroke-width="1"/><circle cx="463.6" cy="850.1" r="5.0" fill="none" stroke="#4330c8" stroke-width="1"/><circle cx="432.0" cy="866.8" r="5.0" fill="none" stroke="#3f27b5" stroke-width="1"/><circle cx="436.4" cy="855.3" r="5.0" fill="none" stroke="#4844e4" stroke-width="1"/><circle cx="427.6" cy="870.5" r="5.0" fill="none" stroke="#3f27b4" stroke-width="1"/><circle cx="459.1" cy="858.5" r="5.0" fill="none" stroke="#4842e2" stroke-width="1"/><circle cx="450.1" cy="861.0" r="5.0" fill="none" stroke="#4331c9" stroke-width="1"/><circle cx="441.8" cy="866.7" r="5.0" fill="none" stroke="#422dc3" stroke-width="1"/><circle cx="436.7" cy="872.4" r="5.0" fill="none" stroke="#4433cf" stroke-width="1"/><circle cx="432.8" cy="870.3" r="5.0" fill="none" stroke="#3d25ae" stroke-width="1"/><circle cx="428.9" cy="854.3" r="5.0" fill="none" stroke="#3c67f8" stroke-width="1"/><circle cx="434.7" cy="863.9" r="5.0" fill="none" stroke="#4029b9" stroke-width="1"/><circle cx="457.3" cy="866.4" r="5.0" fill="none" stroke="#3f62f6" stroke-width="1"/><circle cx="442.4" cy="854.6" r="5.0" fill="none" stroke="#4434d0" stroke-width="1"/><circle cx="444.3" cy="872.3" r="5.0" fill="none" stroke="#484beb" stroke-width="1"/><circle cx="442.4" cy="870.4" r="5.0" fill="none" stroke="#473ddc" stroke-width="1"/><circle cx="443.6" cy="870.6" r="5.0" fill="none" stroke="#4841e1" stroke-width="1"/><circle cx="447.7" cy="859.9" r="5.0" fill="none" stroke="#3f27b5" stroke-width="1"/><circle cx="429.3" cy="872.8" r="5.0" fill="none" stroke="#3d25ad" stroke-width="1"/><circle cx="438.8" cy="871.0" r="5.0" fill="none" stroke="#4434d1" stroke-width="1"/><circle cx="440.8" cy="869.0" r="5.0" fill="none" stroke="#4433ce" stroke-width="1"/><circle cx="432.2" cy="862.3" r="5.0" fill="none" stroke="#4536d2" stroke-width="1"/><circle cx="435.6" cy="872.1" r="5.0" fill="none" stroke="#422fc6" stroke-width="1"/><circle cx="427.1" cy="869.6" r="5.0" fill="none" stroke="#412abc" stroke-width="1"/><circle cx="461.6" cy="862.5" r="5.0" fill="none" stroke="#405ff5" stroke-width="1"/><circle cx="435.1" cy="868.4" r="5.0" fill="none" stroke="#3d25ae" stroke-width="1"/><circle cx="424.9" cy="868.2" r="5.0" fill="none" stroke="#4536d2" stroke-width="1"/><circle cx="437.6" cy="872.1" r="5.0" fill="none" stroke="#4435d1" stroke-width="1"/><circle cx="434.0" cy="870.0" r="5.0" fill="none" stroke="#3e26b1" stroke-width="1"/><circle cx="439.8" cy="866.2" r="5.0" fill="none" stroke="#3f27b5" stroke-width="1"/><circle cx="432.5" cy="869.0" r="5.0" fill="none" stroke="#3c24a9" stroke-width="1"/><circle cx="428.2" cy="866.3" r="5.0" fill="none" stroke="#4433ce" stroke-width="1"/><circle cx="468.9" cy="868.5" r="5.0" fill="none" stroke="#2890e8" stroke-width="1"/><circle cx="448.2" cy="868.6" r="5.0" fill="none" stroke="#4848e8" stroke-width="1"/><circle cx="431.0" cy="856.5" r="5.0" fill="none" stroke="#4752f1" stroke-width="1"/><circle cx="436.0" cy="863.7" r="5.0" fill="none" stroke="#3f27b5" stroke-width="1"/><circle cx="442.2" cy="869.2" r="5.0" fill="none" stroke="#4538d5" stroke-width="1"/><circle cx="450.9" cy="873.1" r="5.0" fill="none" stroke="#3b6af8" stroke-width="1"/><circle cx="432.2" cy="859.9" r="5.0" fill="none" stroke="#483fde" stroke-width="1"/><circle cx="435.2" cy="865.3" r="5.0" fill="none" stroke="#3e26b0" stroke-width="1"/><circle cx="444.1" cy="870.9" r="5.0" fill="none" stroke="#4844e4" stroke-width="1"/><circle cx="432.0" cy="863.8" r="5.0" fill="none" stroke="#4331ca" stroke-width="1"/><circle cx="451.3" cy="867.1" r="5.0" fill="none" stroke="#484ded" stroke-width="1"/></g>
<g><path d="M441.9,914.1L449.1,921.3M441.9,921.3L449.1,914.1" stroke="#6ecc6c" stroke-width="1" fill="none"/><path d="M448.8,903.0L456.0,910.2M448.8,910.2L456.0,903.0" stroke="#3ac591" stroke-width="1" fill="none"/><path d="M453.7,892.8L460.9,900.0M453.7,900.0L460.9,892.8" stroke="#0ebdbc" stroke-width="1" fill="none"/><path d="M465.6,885.8L472.8,893.0M465.6,893.0L472.8,885.8" stroke="#25c0ab" stroke-width="1" fill="none"/><path d="M459.0,874.4L466.2,881.6M459.0,881.6L466.2,874.4" stroke="#209be0" stroke-width="1" fill="none"/><path d="M431.0,892.7L438.2,899.9M431.0,899.9L438.2,892.7" stroke="#2791e7" stroke-width="1" fill="none"/><path d="M426.5,887.4L433.7,894.6M426.5,894.6L433.7,887.4" stroke="#3870f8" stroke-width="1" fill="none"/><path d="M433.7,877.4L440.9,884.6M433.7,884.6L440.9,877.4" stroke="#435bf4" stroke-width="1" fill="none"/><path d="M426.4,875.5L433.6,882.7M426.4,882.7L433.6,875.5" stroke="#4639d6" stroke-width="1" fill="none"/><path d="M423.9,880.1L431.1,887.3M423.9,887.3L431.1,880.1" stroke="#4842e2" stroke-width="1" fill="none"/><path d="M422.3,891.5L429.5,898.7M422.3,898.7L429.5,891.5" stroke="#3674f8" stroke-width="1" fill="none"/><path d="M428.3,882.1L435.5,889.3M428.3,889.3L435.5,882.1" stroke="#425df4" stroke-width="1" fill="none"/><path d="M433.5,897.9L440.7,905.1M433.5,905.1L440.7,897.9" stroke="#1da3dd" stroke-width="1" fill="none"/><path d="M422.3,886.8L429.5,894.0M422.3,894.0L429.5,886.8" stroke="#425df4" stroke-width="1" fill="none"/><path d="M430.7,881.2L437.9,888.4M430.7,888.4L437.9,881.2" stroke="#3f62f6" stroke-width="1" fill="none"/><path d="M421.5,877.3L428.7,884.5M421.5,884.5L428.7,877.3" stroke="#4331ca" stroke-width="1" fill="none"/><path d="M422.1,888.7L429.3,895.9M422.1,895.9L429.3,888.7" stroke="#3d66f7" stroke-width="1" fill="none"/><path d="M422.0,878.2L429.2,885.4M422.0,885.4L429.2,878.2" stroke="#4536d2" stroke-width="1" fill="none"/><path d="M425.4,893.4L432.6,900.6M425.4,900.6L432.6,893.4" stroke="#3086f1" stroke-width="1" fill="none"/><path d="M424.3,874.7L431.5,881.9M424.3,881.9L431.5,874.7" stroke="#422fc7" stroke-width="1" fill="none"/><path d="M425.2,880.6L432.4,887.8M425.2,887.8L432.4,880.6" stroke="#4849e9" stroke-width="1" fill="none"/><path d="M426.6,875.6L433.8,882.8M426.6,882.8L433.8,875.6" stroke="#4639d7" stroke-width="1" fill="none"/><path d="M431.4,875.9L438.6,883.1M431.4,883.1L438.6,875.9" stroke="#484aea" stroke-width="1" fill="none"/><path d="M437.6,873.6L444.8,880.8M437.6,880.8L444.8,873.6" stroke="#4557f2" stroke-width="1" fill="none"/><path d="M426.9,884.3L434.1,891.5M426.9,891.5L434.1,884.3" stroke="#3f63f6" stroke-width="1" fill="none"/><path d="M424.1,879.3L431.3,886.5M424.1,886.5L431.3,879.3" stroke="#4840e0" stroke-width="1" fill="none"/><path d="M426.6,880.3L433.8,887.5M426.6,887.5L433.8,880.3" stroke="#484ded" stroke-width="1" fill="none"/><path d="M423.6,882.3L430.8,889.5M423.6,889.5L430.8,882.3" stroke="#484beb" stroke-width="1" fill="none"/><path d="M430.9,876.4L438.1,883.6M430.9,883.6L438.1,876.4" stroke="#484beb" stroke-width="1" fill="none"/><path d="M424.8,884.8L432.0,892.0M424.8,892.0L432.0,884.8" stroke="#425df4" stroke-width="1" fill="none"/><path d="M432.6,880.8L439.8,888.0M432.6,888.0L439.8,880.8" stroke="#3c68f8" stroke-width="1" fill="none"/><path d="M424.2,874.9L431.4,882.1M424.2,882.1L431.4,874.9" stroke="#4330c8" stroke-width="1" fill="none"/><path d="M426.8,882.2L434.0,889.4M426.8,889.4L434.0,882.2" stroke="#4557f2" stroke-width="1" fill="none"/><path d="M432.1,876.0L439.3,883.2M432.1,883.2L439.3,876.0" stroke="#484ded" stroke-width="1" fill="none"/><path d="M425.6,888.3L432.8,895.5M425.6,895.5L432.8,888.3" stroke="#3871f8" stroke-width="1" fill="none"/></g>
<g><path d="M412.8,832.7L417.6,838.3L412.8,843.9L408.0,838.3Z" stroke="#0bbcbe" stroke-width="1" fill="none"/><path d="M397.2,847.9L402.0,853.5L397.2,859.1L392.4,853.5Z" stroke="#09b7c9" stroke-width="1" fill="none"/><path d="M400.5,861.4L405.3,867.0L400.5,872.6L395.7,867.0Z" stroke="#298fe9" stroke-width="1" fill="none"/><path d="M403.4,867.5L408.2,873.1L403.4,878.7L398.6,873.1Z" stroke="#396ef8" stroke-width="1" fill="none"/><path d="M411.5,867.5L416.3,873.1L411.5,878.7L406.7,873.1Z" stroke="#484ded" stroke-width="1" fill="none"/><path d="M415.6,855.2L420.4,860.8L415.6,866.4L410.8,860.8Z" stroke="#3479f7" stroke-width="1" fill="none"/><path d="M413.6,852.4L418.4,858.0L413.6,863.6L408.8,858.0Z" stroke="#2d8bed" stroke-width="1" fill="none"/><path d="M405.1,864.3L409.9,869.9L405.1,875.5L400.3,869.9Z" stroke="#3576f8" stroke-width="1" fill="none"/><path d="M416.6,867.3L421.4,872.9L416.6,878.5L411.8,872.9Z" stroke="#473ddb" stroke-width="1" fill="none"/><path d="M421.5,869.0L426.3,874.6L421.5,880.2L416.7,874.6Z" stroke="#4028b8" stroke-width="1" fill="none"/><path d="M414.1,862.3L418.9,867.9L414.1,873.5L409.3,867.9Z" stroke="#415df4" stroke-width="1" fill="none"/><path d="M394.8,866.5L399.6,872.1L394.8,877.7L390.0,872.1Z" stroke="#2b8deb" stroke-width="1" fill="none"/><path d="M415.4,868.5L420.2,874.1L415.4,879.7L410.6,874.1Z" stroke="#473cda" stroke-width="1" fill="none"/><path d="M401.3,854.3L406.1,859.9L401.3,865.5L396.5,859.9Z" stroke="#209fe0" stroke-width="1" fill="none"/><path d="M422.7,867.4L427.5,873.0L422.7,878.6L417.9,873.0Z" stroke="#412bbd" stroke-width="1" fill="none"/><path d="M390.2,860.3L395.0,865.9L390.2,871.5L385.4,865.9Z" stroke="#1ba5db" stroke-width="1" fill="none"/><path d="M411.5,864.8L416.3,870.4L411.5,876.0L406.7,870.4Z" stroke="#435bf4" stroke-width="1" fill="none"/><path d="M407.3,862.9L412.1,868.5L407.3,874.1L402.5,868.5Z" stroke="#3675f8" stroke-width="1" fill="none"/><path d="M418.6,867.7L423.4,873.3L418.6,878.9L413.8,873.3Z" stroke="#4435d2" stroke-width="1" fill="none"/><path d="M422.3,869.8L427.1,875.4L422.3,881.0L417.5,875.4Z" stroke="#3e26b1" stroke-width="1" fill="none"/><path d="M418.7,866.2L423.5,871.8L418.7,877.4L413.9,871.8Z" stroke="#463bd9" stroke-width="1" fill="none"/></g>
<line x1="344.40" y1="939.30" x2="600.80" y2="735.40" stroke="#8a93b2" stroke-width="1.45"/>
<line x1="344.40" y1="912.11" x2="566.61" y2="735.40" stroke="#3aad3a" stroke-width="1.25" stroke-dasharray="5.5,5"/>
<line x1="378.59" y1="939.30" x2="600.80" y2="762.59" stroke="#3aad3a" stroke-width="1.25" stroke-dasharray="5.5,5"/>
<line x1="424.74" y1="735.4" x2="424.74" y2="939.3" stroke="#8a93b2" stroke-width="1.45"/>
<line x1="344.4" y1="875.41" x2="600.8" y2="875.41" stroke="#8a93b2" stroke-width="1.45"/>
</g>
<line x1="344.4" y1="735.4" x2="344.4" y2="939.8" stroke="#626262" stroke-width="1.1"/>
<line x1="343.9" y1="939.3" x2="601.3" y2="939.3" stroke="#626262" stroke-width="1.1"/>
<line x1="344.40" y1="939.3" x2="344.40" y2="936.3" stroke="#626262" stroke-width="1"/>
<line x1="344.4" y1="939.30" x2="347.4" y2="939.30" stroke="#626262" stroke-width="1"/>
<text x="344.40" y="957.30" font-size="14" text-anchor="middle" fill="#222222">5</text>
<text x="338.50" y="944.30" font-size="14" text-anchor="end" fill="#222222">5</text>
<line x1="424.74" y1="939.3" x2="424.74" y2="936.3" stroke="#626262" stroke-width="1"/>
<line x1="344.4" y1="875.41" x2="347.4" y2="875.41" stroke="#626262" stroke-width="1"/>
<text x="424.74" y="957.30" font-size="14" text-anchor="middle" fill="#222222">5.47</text>
<text x="338.50" y="880.41" font-size="14" text-anchor="end" fill="#222222">5.47</text>
<line x1="515.33" y1="939.3" x2="515.33" y2="936.3" stroke="#626262" stroke-width="1"/>
<line x1="344.4" y1="803.37" x2="347.4" y2="803.37" stroke="#626262" stroke-width="1"/>
<text x="515.33" y="957.30" font-size="14" text-anchor="middle" fill="#222222">6</text>
<text x="338.50" y="808.37" font-size="14" text-anchor="end" fill="#222222">6</text>
<line x1="600.80" y1="939.3" x2="600.80" y2="936.3" stroke="#626262" stroke-width="1"/>
<line x1="344.4" y1="735.40" x2="347.4" y2="735.40" stroke="#626262" stroke-width="1"/>
<text x="600.80" y="957.30" font-size="14" text-anchor="middle" fill="#222222">6.5</text>
<text x="338.50" y="740.40" font-size="14" text-anchor="end" fill="#222222">6.5</text>
<rect x="620.5" y="735.4" width="17.0" height="203.9" fill="url(#parula)" stroke="#626262" stroke-width="1"/>
<text x="643.50" y="944.30" font-size="14" text-anchor="start" fill="#222222">0</text>
<line x1="634.5" y1="910.17" x2="637.5" y2="910.17" stroke="#626262" stroke-width="1"/>
<text x="643.50" y="915.17" font-size="14" text-anchor="start" fill="#222222">0.1</text>
<line x1="634.5" y1="881.04" x2="637.5" y2="881.04" stroke="#626262" stroke-width="1"/>
<text x="643.50" y="886.04" font-size="14" text-anchor="start" fill="#222222">0.2</text>
<line x1="634.5" y1="851.91" x2="637.5" y2="851.91" stroke="#626262" stroke-width="1"/>
<text x="643.50" y="856.91" font-size="14" text-anchor="start" fill="#222222">0.3</text>
<line x1="634.5" y1="822.79" x2="637.5" y2="822.79" stroke="#626262" stroke-width="1"/>
<text x="643.50" y="827.79" font-size="14" text-anchor="start" fill="#222222">0.4</text>
<line x1="634.5" y1="793.66" x2="637.5" y2="793.66" stroke="#626262" stroke-width="1"/>
<text x="643.50" y="798.66" font-size="14" text-anchor="start" fill="#222222">0.5</text>
<line x1="634.5" y1="764.53" x2="637.5" y2="764.53" stroke="#626262" stroke-width="1"/>
<text x="643.50" y="769.53" font-size="14" text-anchor="start" fill="#222222">0.6</text>
<text x="643.50" y="740.40" font-size="14" text-anchor="start" fill="#222222">0.7</text>
<text transform="translate(680.6,837.35) rotate(-90)" font-size="17" text-anchor="middle" fill="#222222">Error (m)</text>
<line x1="268.2" y1="784.90" x2="358.37" y2="853.91" stroke="#000" stroke-width="1"/>
<path d="M367.10,860.60L352.64,856.46L359.56,854.83L359.33,847.72Z" fill="#000"/>
<line x1="89.74" y1="989.1" x2="89.74" y2="1193.0" stroke="#e3e3e3" stroke-width="1"/>
<line x1="38.5" y1="1152.22" x2="294.7" y2="1152.22" stroke="#e3e3e3" stroke-width="1"/>
<line x1="140.98" y1="989.1" x2="140.98" y2="1193.0" stroke="#e3e3e3" stroke-width="1"/>
<line x1="38.5" y1="1111.44" x2="294.7" y2="1111.44" stroke="#e3e3e3" stroke-width="1"/>
<line x1="192.22" y1="989.1" x2="192.22" y2="1193.0" stroke="#e3e3e3" stroke-width="1"/>
<line x1="38.5" y1="1070.66" x2="294.7" y2="1070.66" stroke="#e3e3e3" stroke-width="1"/>
<line x1="243.46" y1="989.1" x2="243.46" y2="1193.0" stroke="#e3e3e3" stroke-width="1"/>
<line x1="38.5" y1="1029.88" x2="294.7" y2="1029.88" stroke="#e3e3e3" stroke-width="1"/>
<line x1="294.70" y1="989.1" x2="294.70" y2="1193.0" stroke="#e3e3e3" stroke-width="1"/>
<line x1="38.5" y1="989.10" x2="294.7" y2="989.10" stroke="#e3e3e3" stroke-width="1"/>
<clipPath id="cl2"><rect x="38.5" y="989.1" width="256.2" height="203.9"/></clipPath>
<g clip-path="url(#cl2)">
<path d="M172.6,1086.5h0M150.1,1100.7h0M166.9,1090.4h0M183.5,1074.4h0M203.7,1069.5h0M154.8,1099.5h0M103.9,1130.7h0M173.0,1087.0h0M172.1,1097.2h0M167.0,1102.1h0M179.1,1086.8h0M162.7,1091.0h0M172.6,1090.2h0M193.8,1073.3h0M208.3,1057.5h0M177.4,1093.4h0M160.4,1099.8h0M127.8,1123.0h0M137.4,1116.3h0M189.6,1072.8h0M182.7,1091.3h0M166.3,1094.4h0M192.5,1062.1h0M194.1,1067.1h0M163.2,1109.3h0M177.4,1087.2h0M166.1,1097.1h0M152.9,1088.2h0M174.4,1086.7h0M125.4,1117.6h0M162.3,1087.0h0M186.7,1075.3h0M144.6,1107.0h0M139.8,1119.4h0M152.7,1104.0h0M200.8,1064.2h0M180.3,1084.0h0M181.5,1085.4h0M173.0,1087.4h0M171.8,1086.3h0M141.9,1126.3h0M151.8,1112.5h0M105.2,1137.5h0M195.0,1060.7h0M185.6,1077.7h0M188.2,1070.7h0M161.1,1106.6h0M163.4,1100.2h0M108.2,1139.3h0M181.1,1094.4h0M178.3,1073.1h0M166.6,1094.1h0M149.0,1105.7h0M152.7,1112.2h0M175.1,1088.6h0M171.7,1096.6h0M188.0,1078.7h0M164.6,1097.3h0M157.0,1098.6h0M191.0,1080.2h0M162.5,1095.8h0M189.1,1083.6h0M160.7,1097.3h0M206.2,1065.7h0M196.2,1066.2h0M165.6,1101.3h0M171.2,1099.6h0M140.3,1117.9h0M155.7,1087.1h0M151.5,1114.8h0M160.1,1093.0h0M179.5,1082.9h0M179.2,1083.4h0M153.4,1098.6h0M162.6,1088.8h0M183.4,1064.3h0M172.9,1082.7h0M198.9,1064.2h0M149.8,1098.5h0M175.9,1092.1h0M155.6,1104.4h0M168.6,1082.4h0M184.9,1074.1h0M171.7,1079.3h0M171.0,1092.7h0M166.5,1085.8h0M167.0,1106.0h0M146.3,1113.9h0M188.9,1069.9h0M150.0,1106.8h0M187.2,1076.4h0M173.0,1084.4h0M142.7,1115.0h0M196.0,1066.5h0M203.3,1068.4h0M157.9,1109.4h0M179.8,1076.5h0M146.2,1093.4h0M140.3,1119.4h0M189.4,1064.5h0M113.6,1128.8h0M196.3,1071.9h0M144.0,1104.6h0M186.4,1070.9h0M116.2,1129.3h0M147.5,1098.0h0M163.1,1083.6h0M193.3,1074.5h0M147.3,1111.9h0M150.9,1107.9h0M174.4,1085.1h0M166.4,1095.3h0M179.4,1086.4h0M143.8,1105.6h0M161.7,1102.2h0M167.3,1094.7h0M169.0,1093.2h0M192.2,1068.3h0M183.3,1073.3h0M185.8,1081.6h0M190.1,1076.6h0M126.6,1113.2h0M153.9,1113.4h0M177.4,1075.4h0M100.1,1139.7h0M159.2,1096.7h0M212.8,1057.9h0M192.4,1068.8h0M115.8,1119.1h0M178.0,1089.2h0M160.1,1087.6h0M123.4,1119.5h0M149.8,1117.9h0M165.7,1082.9h0M143.1,1104.0h0M129.5,1113.1h0M160.1,1110.9h0M164.6,1109.7h0M173.2,1086.7h0M132.3,1128.3h0M193.5,1071.4h0M191.3,1060.2h0M167.6,1087.2h0M149.7,1107.0h0M152.5,1112.6h0M119.9,1110.0h0M184.4,1082.2h0M163.9,1080.3h0M184.3,1078.7h0M180.8,1083.7h0M162.0,1088.0h0M150.0,1108.9h0M175.7,1093.1h0M152.2,1108.9h0M158.6,1096.7h0M184.3,1076.4h0M151.9,1103.1h0M149.2,1110.2h0M181.0,1078.0h0M164.4,1102.4h0M172.4,1077.5h0M144.8,1101.0h0M125.6,1125.5h0M137.0,1116.7h0M180.0,1086.3h0M153.9,1093.4h0M212.1,1065.6h0M170.2,1082.9h0M191.9,1074.5h0M170.7,1089.1h0M202.5,1063.3h0M153.8,1099.8h0M148.2,1101.1h0M121.4,1132.3h0M133.3,1110.6h0M176.4,1080.0h0M205.5,1061.3h0M125.5,1121.3h0M144.8,1104.3h0M178.7,1079.9h0M142.1,1117.8h0M97.1,1130.7h0M194.3,1077.3h0M101.5,1157.9h0M192.9,1066.1h0M196.1,1070.6h0M148.7,1100.9h0M161.3,1090.0h0M145.7,1118.5h0M154.3,1106.6h0M195.3,1063.1h0M149.8,1108.1h0M146.9,1115.8h0M166.3,1087.4h0M162.7,1099.5h0M203.8,1063.3h0M161.7,1101.9h0M139.6,1109.0h0M124.9,1119.5h0M166.1,1095.1h0M144.9,1117.7h0M183.3,1072.3h0M191.6,1068.0h0M171.2,1090.9h0M211.1,1055.0h0M169.5,1087.3h0M133.4,1116.7h0M144.0,1102.3h0M179.8,1081.9h0M169.1,1090.9h0M168.8,1092.3h0M126.5,1108.4h0M143.5,1110.7h0M163.6,1093.0h0M155.3,1074.5h0M189.8,1077.1h0M153.8,1122.4h0M146.5,1100.3h0M150.8,1123.2h0M159.3,1106.4h0M183.8,1078.2h0M140.4,1113.8h0M206.4,1064.2h0M113.8,1114.8h0M154.6,1110.0h0M195.0,1064.2h0M208.8,1057.2h0M158.0,1094.6h0M214.4,1051.7h0M203.6,1069.5h0M163.7,1101.7h0M183.8,1076.6h0M176.6,1085.7h0M184.9,1074.4h0M208.8,1059.5h0M123.2,1128.9h0M214.1,1052.8h0M136.6,1117.6h0M157.5,1091.6h0M183.3,1081.8h0M161.0,1099.0h0M130.3,1120.0h0M187.2,1073.4h0M173.1,1084.1h0M171.2,1085.7h0M164.6,1102.2h0M165.2,1100.2h0M181.9,1080.4h0M142.4,1110.4h0M171.7,1075.8h0M161.4,1099.2h0M181.7,1079.2h0M187.8,1068.7h0M198.6,1068.0h0M129.2,1119.6h0M194.2,1062.0h0M126.5,1121.2h0M191.1,1073.2h0M170.3,1084.3h0M198.3,1064.3h0M178.8,1090.9h0M149.8,1101.3h0M164.7,1092.8h0M98.0,1141.0h0M178.0,1096.5h0M195.7,1067.6h0M164.7,1093.1h0M145.7,1108.4h0M168.1,1092.5h0M171.3,1091.4h0M159.6,1095.9h0M154.0,1108.6h0M135.3,1111.7h0M163.3,1094.7h0M168.5,1102.5h0M142.6,1104.5h0M156.4,1101.8h0M162.5,1093.7h0M149.6,1101.4h0M196.7,1066.2h0M182.0,1069.9h0M120.0,1132.7h0M198.1,1057.5h0M163.7,1097.9h0M195.3,1074.9h0M178.8,1077.3h0M153.6,1096.8h0M206.8,1057.8h0M192.8,1071.2h0M166.7,1084.4h0M183.3,1082.6h0M170.8,1090.5h0M174.1,1083.1h0M193.0,1073.1h0M106.7,1142.7h0M202.1,1057.4h0M208.2,1059.5h0M180.2,1073.5h0M165.2,1096.8h0M177.9,1086.1h0M156.5,1091.3h0M173.0,1091.6h0M142.2,1113.9h0M150.6,1103.6h0M181.5,1083.5h0M127.0,1108.4h0M155.6,1088.1h0M177.9,1077.2h0M165.5,1095.6h0M136.3,1126.6h0M180.9,1077.3h0M128.5,1114.0h0M135.7,1121.2h0M161.5,1100.3h0M181.0,1082.2h0M166.5,1104.8h0M189.5,1072.8h0M183.1,1070.7h0M161.3,1102.1h0M107.1,1148.8h0M151.3,1100.9h0M183.5,1074.4h0M171.9,1087.3h0M211.1,1062.3h0M205.0,1064.7h0M163.7,1092.3h0M151.0,1098.2h0M118.1,1120.1h0M194.6,1064.9h0M178.9,1077.1h0M171.4,1101.1h0M188.4,1072.8h0M205.8,1064.2h0M192.3,1063.5h0M142.5,1105.2h0M176.4,1083.9h0M134.5,1118.5h0M118.4,1125.2h0M152.4,1101.8h0M179.2,1070.7h0M175.1,1086.6h0M180.5,1084.0h0M190.7,1073.8h0M133.0,1103.3h0M140.7,1100.4h0M165.8,1099.8h0M168.7,1093.7h0M163.1,1086.6h0M117.4,1149.9h0M192.6,1072.5h0M179.8,1089.7h0M148.2,1113.9h0M189.4,1075.7h0M197.1,1075.4h0M200.5,1068.3h0M174.3,1083.3h0M101.6,1132.7h0M184.2,1087.7h0M190.1,1076.4h0M182.8,1069.7h0M130.2,1126.8h0M167.6,1089.6h0M172.1,1084.6h0M157.3,1100.7h0M178.9,1082.1h0M130.4,1116.1h0M183.3,1074.2h0M147.7,1112.8h0M154.5,1098.7h0M168.2,1089.6h0M157.6,1099.9h0M145.1,1104.8h0M182.0,1073.0h0M194.6,1069.3h0M140.0,1107.0h0M162.7,1093.1h0M162.0,1109.2h0M198.6,1067.1h0M179.3,1080.5h0M189.0,1069.5h0M180.1,1082.5h0M182.3,1067.1h0M158.5,1102.0h0M161.0,1095.8h0M138.9,1101.0h0M189.7,1070.5h0M176.1,1087.8h0M113.3,1128.9h0M159.2,1083.9h0M163.9,1081.1h0M146.3,1106.2h0M187.4,1079.5h0M169.1,1095.2h0M177.6,1074.8h0M172.7,1089.7h0M186.9,1080.7h0M182.9,1076.8h0M153.9,1120.2h0M170.1,1092.1h0M128.1,1122.0h0M120.5,1120.6h0M147.8,1112.2h0M180.3,1087.4h0M117.6,1128.8h0M183.1,1074.3h0M193.4,1073.2h0M181.5,1075.5h0M176.5,1079.2h0M175.5,1087.2h0M138.4,1115.8h0M197.7,1068.0h0M126.7,1112.3h0M115.8,1126.1h0M150.7,1111.5h0M205.4,1063.6h0M163.5,1095.3h0M155.8,1097.3h0M209.6,1055.1h0M194.1,1068.7h0M164.3,1088.9h0M203.0,1063.0h0M188.6,1077.3h0M170.3,1082.7h0M153.9,1122.7h0M164.8,1092.5h0M141.6,1108.5h0M146.7,1111.3h0M173.8,1089.2h0M185.8,1083.5h0M166.0,1093.2h0M179.7,1071.5h0M186.6,1081.0h0M144.3,1112.2h0M173.9,1079.4h0M175.9,1080.7h0M109.3,1131.5h0M165.7,1086.3h0M155.2,1100.6h0M201.8,1061.2h0M186.8,1072.5h0M166.5,1090.3h0M190.0,1079.2h0M185.1,1082.3h0M172.2,1095.6h0M208.8,1058.7h0M181.2,1073.7h0M134.0,1138.2h0M180.2,1082.4h0M140.7,1105.5h0M178.2,1084.6h0M161.1,1093.4h0M166.7,1091.6h0M140.7,1106.7h0M159.1,1115.9h0M204.6,1065.2h0M157.2,1095.5h0M173.1,1093.8h0M174.8,1081.7h0M160.3,1090.2h0M123.8,1113.0h0M205.3,1060.7h0M165.6,1091.0h0M177.8,1087.7h0M163.9,1097.0h0M161.5,1101.4h0M130.8,1124.0h0M106.2,1130.1h0M92.9,1135.3h0M166.2,1086.4h0M156.9,1088.2h0M129.8,1117.4h0M189.0,1071.6h0M179.9,1072.1h0M151.5,1105.7h0M164.7,1096.6h0M126.5,1130.4h0M208.9,1063.1h0M149.8,1104.1h0M164.6,1105.1h0M99.2,1143.5h0M178.7,1083.8h0M177.4,1084.9h0M170.2,1089.0h0M167.3,1084.3h0M162.0,1090.8h0M187.7,1081.2h0M152.1,1111.0h0M150.5,1101.6h0M183.1,1075.6h0M147.4,1109.4h0M182.2,1085.4h0M175.0,1082.1h0M159.4,1094.4h0M209.0,1057.4h0M128.7,1135.3h0M179.1,1077.8h0M150.0,1116.9h0M167.3,1081.0h0M148.8,1129.0h0M109.3,1134.4h0M176.8,1070.5h0M148.4,1100.9h0M114.6,1122.7h0M194.9,1068.6h0M165.5,1094.4h0M158.1,1096.8h0M191.5,1070.3h0M147.5,1110.3h0M142.2,1110.4h0M198.8,1062.1h0M194.1,1072.4h0M172.2,1079.5h0M198.1,1066.3h0M189.1,1079.7h0M172.9,1078.1h0M177.5,1086.5h0M111.0,1126.2h0M182.5,1073.7h0M167.8,1085.1h0M186.0,1072.1h0M167.8,1091.0h0M174.3,1086.8h0M172.7,1088.8h0M195.5,1062.5h0M153.5,1104.3h0M147.4,1107.1h0M173.2,1076.5h0M178.1,1080.3h0M128.2,1117.0h0M173.6,1087.1h0M137.4,1115.9h0M178.8,1084.9h0M172.8,1089.2h0M173.0,1086.0h0M172.8,1089.2h0M176.7,1065.7h0M176.5,1088.0h0M208.1,1060.1h0M212.2,1054.6h0M198.4,1068.7h0M129.5,1132.1h0M198.6,1079.5h0M157.5,1094.1h0M130.1,1128.2h0M178.4,1085.3h0M166.1,1086.0h0M160.2,1083.0h0M163.4,1081.2h0M97.4,1146.6h0M180.9,1074.9h0M169.8,1092.6h0M146.4,1106.6h0M171.5,1089.6h0M164.5,1093.3h0M160.4,1092.0h0M174.5,1085.3h0M152.2,1093.8h0M178.5,1081.0h0M176.5,1084.9h0M213.2,1053.6h0M154.9,1092.3h0M149.8,1109.5h0M95.7,1137.5h0M141.4,1113.5h0M143.7,1117.7h0M149.3,1096.7h0M161.9,1098.6h0M180.3,1086.9h0M186.7,1086.3h0M161.7,1094.0h0M129.4,1120.2h0M158.5,1102.2h0M186.9,1078.4h0M154.5,1096.8h0M184.3,1078.6h0M180.4,1087.0h0M179.2,1078.7h0M162.8,1097.1h0M158.1,1092.2h0M175.1,1081.6h0M164.5,1087.5h0M171.2,1089.5h0M175.8,1071.6h0M167.4,1091.9h0M171.4,1065.8h0M98.9,1161.1h0M159.4,1102.4h0M181.1,1074.1h0M185.8,1073.8h0M117.6,1131.8h0M129.2,1116.1h0M202.3,1060.1h0M107.1,1135.6h0M107.8,1127.4h0M173.3,1077.1h0M160.0,1096.4h0M172.4,1100.8h0M199.6,1073.0h0M174.6,1089.7h0M196.8,1066.1h0M194.0,1077.5h0M186.5,1075.4h0M174.8,1078.4h0M173.9,1081.2h0M137.6,1133.5h0M144.7,1112.6h0M166.3,1096.2h0M143.4,1125.1h0M148.4,1108.9h0M138.8,1103.9h0M171.6,1079.5h0M163.5,1079.6h0M193.2,1080.1h0M151.9,1103.7h0M176.0,1082.1h0M143.2,1107.6h0M167.7,1099.2h0M189.8,1063.6h0M198.0,1067.6h0M171.3,1083.9h0M141.6,1115.1h0M154.7,1104.7h0M170.6,1104.0h0M139.9,1114.0h0M121.6,1124.6h0M188.0,1095.9h0M158.7,1097.6h0M191.7,1077.4h0M185.3,1089.0h0M173.9,1084.3h0M155.8,1111.5h0M167.8,1088.3h0M163.3,1095.0h0M176.7,1089.1h0M200.5,1067.1h0M177.5,1090.2h0M168.3,1094.4h0M97.5,1156.5h0M190.2,1070.3h0M135.6,1114.1h0M189.6,1085.1h0M166.4,1094.3h0M152.7,1100.7h0M177.2,1097.8h0M185.9,1082.2h0M157.2,1097.9h0M171.1,1079.6h0M170.6,1086.3h0M151.9,1106.4h0M152.8,1096.9h0M177.3,1085.2h0M200.0,1068.3h0M142.0,1112.4h0M173.8,1090.5h0M205.9,1060.0h0M138.6,1114.7h0M108.9,1134.3h0M165.1,1093.0h0M172.3,1086.0h0M120.6,1123.3h0M192.3,1065.2h0M139.1,1100.6h0M167.6,1095.3h0M158.3,1104.4h0M175.5,1090.0h0M166.0,1093.5h0M150.1,1103.7h0M194.9,1063.7h0M172.5,1091.2h0M97.7,1148.5h0M200.0,1066.8h0M110.1,1134.4h0M178.1,1072.7h0M180.1,1068.8h0M143.4,1130.7h0M124.0,1123.4h0M171.7,1087.3h0M140.5,1118.6h0M159.5,1100.4h0M187.9,1077.7h0M134.8,1105.0h0M170.6,1083.9h0M213.2,1054.1h0M182.1,1075.8h0M193.4,1070.9h0M172.2,1075.1h0M184.5,1073.4h0M179.7,1073.9h0M95.8,1147.4h0M155.1,1100.9h0M170.7,1096.5h0M106.2,1135.9h0M175.7,1093.3h0M100.2,1138.1h0M155.8,1090.9h0M155.9,1091.3h0M125.9,1127.2h0M132.6,1117.3h0M207.2,1060.8h0M176.3,1079.6h0M187.2,1072.3h0M164.9,1084.2h0M145.2,1101.4h0M198.7,1073.0h0M171.6,1080.1h0M204.3,1061.2h0M145.8,1097.1h0M164.7,1098.9h0M184.5,1076.0h0M113.0,1110.5h0M150.1,1097.7h0M166.4,1079.6h0M189.7,1078.5h0M178.1,1099.4h0M198.6,1064.1h0M190.7,1076.9h0M191.8,1070.7h0M181.6,1084.6h0M156.4,1094.4h0M203.4,1063.5h0M162.7,1100.5h0M160.3,1097.5h0M163.1,1090.3h0M190.2,1079.3h0M178.9,1081.7h0M150.9,1123.8h0M154.0,1104.2h0M178.9,1076.3h0M174.8,1075.7h0M203.1,1074.3h0M160.8,1101.8h0M118.3,1130.3h0M162.5,1085.4h0M182.0,1079.5h0M189.0,1077.9h0M118.7,1127.4h0M179.8,1083.8h0M161.8,1099.4h0M119.5,1137.8h0M167.2,1095.6h0M172.4,1087.4h0M192.7,1072.4h0M157.6,1096.6h0M161.8,1098.4h0M166.7,1091.1h0M160.2,1101.6h0M171.0,1083.7h0M185.0,1074.1h0M189.8,1070.8h0M172.6,1101.8h0M141.4,1100.5h0M195.5,1070.0h0M194.6,1069.6h0M201.6,1068.0h0M184.9,1079.0h0M178.9,1086.4h0M164.8,1099.9h0M136.3,1119.0h0M171.8,1082.7h0M155.5,1079.9h0M141.7,1101.5h0M176.2,1085.8h0M177.2,1088.5h0M147.3,1104.1h0M166.2,1081.8h0M143.6,1115.1h0M186.4,1072.2h0M163.3,1104.4h0M161.0,1093.8h0M155.1,1102.3h0M140.2,1100.2h0M128.1,1115.1h0M182.8,1083.2h0M145.1,1119.8h0M164.5,1094.9h0M166.3,1096.2h0M187.3,1074.5h0M130.3,1102.6h0M163.9,1101.9h0M197.1,1073.0h0M174.4,1064.1h0M191.2,1068.3h0M157.5,1094.5h0M187.0,1077.0h0M184.2,1085.4h0M106.7,1144.9h0M160.0,1093.5h0M110.6,1127.4h0M162.5,1098.8h0M174.3,1087.5h0M185.5,1079.8h0M173.4,1096.5h0M95.6,1156.7h0M173.6,1070.8h0M188.0,1081.3h0M183.7,1079.8h0M194.0,1080.2h0M178.0,1082.1h0M189.1,1070.2h0M121.7,1124.9h0M186.2,1090.9h0M157.9,1100.3h0M130.9,1116.6h0M155.6,1103.2h0M145.3,1103.5h0M157.5,1094.9h0M170.9,1092.8h0M162.6,1097.1h0M199.6,1071.1h0M170.0,1091.5h0M191.8,1079.1h0M185.7,1074.7h0M143.2,1108.9h0M130.3,1128.4h0M132.4,1115.1h0M183.5,1080.8h0M151.7,1083.0h0M178.9,1080.5h0M174.8,1081.7h0M135.0,1114.1h0M120.8,1113.7h0M168.3,1092.1h0M160.8,1124.1h0M186.5,1075.5h0M163.1,1089.5h0M148.6,1117.9h0M161.2,1096.8h0M157.3,1091.1h0M159.0,1095.7h0M180.6,1081.5h0M208.5,1062.1h0M165.6,1096.5h0M152.6,1090.2h0M170.5,1085.0h0M140.8,1111.6h0M132.3,1121.0h0M176.1,1086.6h0M198.8,1065.0h0M198.2,1058.2h0M183.3,1066.9h0M149.3,1103.1h0M190.9,1070.3h0M199.4,1075.1h0M172.5,1087.4h0M127.3,1112.8h0M191.6,1072.0h0M145.2,1117.4h0M128.8,1110.6h0M209.6,1058.4h0M133.9,1100.6h0M124.1,1126.3h0M204.6,1060.2h0M202.6,1063.6h0M176.0,1081.6h0M161.8,1083.8h0M176.1,1091.1h0M122.4,1122.9h0M168.6,1098.4h0M164.5,1097.8h0M185.2,1079.9h0M184.0,1068.8h0M140.5,1107.3h0M175.6,1093.2h0M184.0,1076.6h0M163.8,1097.1h0M174.4,1087.4h0M148.5,1103.8h0M151.6,1104.7h0M126.4,1113.8h0M178.2,1084.0h0M198.2,1063.9h0M201.9,1060.4h0M177.5,1090.0h0M182.5,1077.4h0M137.8,1113.3h0M127.9,1101.1h0M140.0,1106.6h0M161.3,1098.0h0M116.8,1133.7h0M147.6,1100.2h0M187.4,1079.3h0M203.1,1061.7h0M164.8,1087.9h0M206.1,1058.6h0M175.7,1079.0h0M207.9,1062.6h0M150.6,1108.2h0M157.9,1109.6h0M150.8,1095.4h0M167.4,1094.9h0M158.1,1090.9h0M160.0,1098.8h0M194.5,1071.4h0M139.2,1113.4h0M99.5,1132.8h0M189.3,1071.4h0M202.8,1064.9h0M100.6,1128.7h0M186.6,1097.9h0M171.0,1085.9h0M177.3,1086.8h0M206.6,1068.6h0M166.3,1102.1h0M176.1,1090.3h0M199.3,1066.8h0M124.5,1124.1h0M159.2,1102.8h0M162.1,1089.3h0M207.4,1053.5h0M181.3,1081.3h0M176.1,1099.7h0M213.8,1058.0h0M170.2,1086.8h0M183.3,1084.2h0M123.8,1122.0h0M198.3,1074.1h0M176.7,1084.8h0M117.9,1128.3h0M192.7,1072.1h0M160.9,1093.9h0M172.3,1085.5h0M186.5,1079.8h0M171.6,1083.9h0M197.1,1058.5h0M179.0,1072.2h0M175.2,1089.7h0M147.6,1092.0h0M204.8,1066.7h0M180.1,1084.3h0M163.4,1099.9h0M111.1,1130.2h0M131.5,1113.1h0M161.5,1096.4h0M187.1,1064.7h0M148.5,1101.9h0M176.4,1079.6h0M195.5,1067.5h0M129.8,1113.9h0M178.4,1079.4h0M186.7,1077.9h0M185.3,1069.1h0M201.0,1064.0h0M152.8,1098.3h0M162.4,1102.3h0M155.7,1096.1h0M209.5,1057.7h0M171.4,1091.7h0M167.7,1087.5h0M150.6,1108.5h0M167.0,1090.4h0M173.0,1084.4h0M172.1,1086.6h0M103.5,1129.2h0M115.6,1119.7h0M101.5,1131.8h0M209.8,1058.9h0M144.4,1117.0h0M147.1,1104.2h0M172.2,1089.1h0M152.5,1095.4h0M114.4,1127.2h0M181.9,1088.8h0M156.3,1105.5h0M193.7,1075.3h0M192.3,1066.1h0M180.8,1080.8h0M189.4,1062.6h0M163.8,1096.0h0M134.1,1108.9h0M188.2,1067.2h0M94.0,1155.1h0M159.2,1091.5h0M176.0,1086.1h0M168.4,1103.1h0M166.3,1082.9h0M163.3,1089.4h0M204.1,1067.6h0M168.9,1096.0h0M167.0,1094.7h0M175.5,1080.5h0M112.1,1153.8h0M153.9,1104.7h0M108.9,1134.3h0M127.1,1119.1h0M188.0,1088.4h0M115.1,1130.9h0M138.5,1125.0h0M195.2,1067.4h0M208.1,1064.9h0M169.6,1086.1h0M179.2,1094.0h0M102.7,1119.6h0M139.9,1101.1h0M162.0,1096.0h0M170.3,1073.1h0M163.0,1090.6h0M154.2,1098.0h0M179.6,1080.0h0M172.6,1092.7h0M181.4,1071.9h0M187.3,1071.2h0M167.3,1095.6h0M125.5,1118.8h0M135.5,1116.0h0M114.5,1131.6h0M123.8,1115.5h0M159.0,1102.2h0M170.6,1080.7h0M161.0,1095.4h0M176.1,1090.6h0M181.7,1089.0h0M94.1,1130.1h0M157.1,1103.9h0M143.7,1126.5h0M143.0,1112.4h0M159.9,1108.0h0M194.6,1065.9h0M168.5,1088.8h0M170.3,1093.0h0M160.1,1098.4h0M136.4,1121.8h0M185.4,1084.8h0M204.1,1064.9h0M158.4,1094.3h0M185.0,1082.5h0M155.6,1106.9h0M135.2,1111.7h0M152.3,1098.1h0M170.6,1093.3h0M144.6,1107.3h0M185.4,1080.4h0M178.1,1073.0h0M154.2,1079.0h0M172.5,1070.2h0M127.8,1131.8h0M169.3,1095.4h0M173.0,1082.3h0M171.5,1087.9h0M109.6,1116.2h0M150.1,1098.0h0M162.7,1098.1h0M163.9,1092.0h0M148.0,1107.5h0M187.5,1076.3h0M121.8,1114.7h0M170.6,1091.2h0M188.5,1080.2h0M163.1,1089.2h0M207.9,1061.2h0M184.4,1077.8h0M199.8,1059.7h0M178.5,1086.0h0M184.1,1076.2h0M143.1,1111.9h0M156.7,1101.5h0M191.0,1071.7h0M214.7,1053.7h0M142.3,1105.3h0M178.9,1083.1h0M170.2,1093.6h0M121.0,1133.4h0M124.6,1114.7h0M146.9,1105.7h0M178.4,1074.7h0M206.2,1051.8h0M214.8,1056.9h0M133.7,1103.9h0M171.7,1081.3h0M162.6,1095.7h0M204.2,1061.4h0M150.9,1105.9h0M111.6,1122.3h0M128.2,1119.0h0M152.2,1109.6h0M165.3,1086.2h0M130.2,1131.0h0M191.8,1067.7h0M173.6,1086.5h0M180.2,1080.4h0M136.7,1105.0h0M179.2,1077.1h0M206.1,1062.1h0M181.9,1081.5h0M152.6,1100.0h0M148.9,1110.2h0M156.5,1097.5h0M144.6,1124.0h0M179.7,1072.7h0M178.9,1085.5h0M195.7,1071.2h0M150.1,1100.4h0M173.2,1092.7h0M172.6,1091.5h0M170.5,1088.6h0M153.4,1093.9h0M196.3,1064.7h0M206.8,1074.5h0M172.0,1089.3h0M159.8,1104.5h0M120.3,1134.1h0M146.1,1105.1h0M140.5,1102.1h0M121.5,1113.8h0M165.3,1087.4h0M144.3,1116.6h0M173.9,1082.5h0M119.6,1118.6h0M140.0,1105.6h0M170.6,1097.1h0M191.9,1083.0h0M157.2,1109.3h0M163.5,1100.9h0M151.2,1112.5h0M211.1,1060.5h0M174.4,1073.5h0M200.1,1066.6h0M156.5,1097.7h0M205.5,1055.7h0M164.5,1084.1h0M149.6,1114.9h0M172.8,1084.8h0M122.8,1125.8h0M156.1,1101.9h0M178.8,1091.6h0M127.8,1117.4h0M189.4,1074.6h0M128.4,1127.5h0M100.4,1141.8h0M195.6,1071.2h0M189.7,1070.5h0M140.2,1100.7h0M163.9,1093.7h0M160.4,1096.8h0M187.7,1069.9h0M157.9,1093.2h0M165.2,1091.5h0M163.6,1091.4h0M125.2,1128.0h0M173.5,1087.3h0M145.9,1105.8h0M146.9,1114.9h0M117.2,1117.8h0M142.5,1106.3h0M170.9,1087.3h0M167.2,1094.8h0M157.9,1100.2h0M151.9,1105.4h0M152.8,1105.8h0M164.8,1104.5h0M155.7,1086.8h0M169.1,1086.9h0M163.4,1100.9h0M167.1,1091.6h0M144.3,1115.1h0M165.5,1102.9h0M166.3,1083.8h0M186.8,1081.4h0M112.3,1134.9h0M146.9,1085.4h0M126.3,1120.4h0M159.6,1094.8h0M166.0,1097.3h0M208.5,1061.6h0M142.3,1093.9h0M135.8,1118.5h0M160.2,1096.5h0M185.7,1080.5h0M121.2,1115.5h0M170.1,1086.2h0M134.9,1111.3h0M188.5,1073.1h0M169.2,1090.7h0M154.4,1076.8h0M185.3,1091.1h0M159.1,1094.0h0M172.5,1082.3h0M160.1,1100.2h0M189.4,1075.8h0M163.3,1092.9h0M159.2,1099.3h0M153.0,1101.7h0M165.6,1088.1h0M166.9,1076.8h0M204.5,1063.4h0M129.9,1115.5h0M169.7,1099.3h0M96.8,1124.3h0M158.2,1106.3h0M176.1,1088.7h0M193.4,1073.3h0M183.1,1083.5h0M156.1,1104.3h0M147.3,1119.8h0M173.1,1088.7h0M176.5,1083.2h0M103.2,1125.0h0M96.7,1155.8h0M166.9,1102.8h0M164.8,1092.6h0M175.8,1081.0h0M187.4,1082.5h0M144.4,1104.9h0M165.9,1104.1h0M182.1,1083.5h0M119.1,1117.5h0M147.5,1106.8h0M183.3,1082.2h0M162.6,1098.2h0M162.2,1106.5h0M204.8,1074.2h0M155.2,1094.1h0M148.1,1124.4h0M180.8,1077.9h0M172.3,1097.1h0M134.5,1120.2h0M158.0,1088.9h0M155.7,1111.1h0M163.7,1104.1h0M181.9,1088.5h0M182.9,1070.1h0M169.7,1085.2h0M180.2,1078.1h0M170.4,1085.5h0M184.9,1076.2h0M159.1,1106.8h0M178.6,1079.1h0M179.8,1089.2h0M171.7,1100.2h0M180.1,1080.7h0M172.3,1086.0h0M165.5,1095.7h0M156.6,1092.4h0M143.8,1090.0h0M139.7,1115.3h0M178.9,1084.7h0M183.6,1070.5h0M167.0,1091.7h0M195.2,1068.6h0M184.0,1072.2h0M179.6,1105.1h0M166.3,1097.4h0M209.2,1057.3h0M159.7,1111.0h0M140.3,1103.4h0M124.5,1133.4h0M203.3,1066.9h0M176.2,1091.9h0M171.9,1085.6h0M101.5,1136.9h0M184.1,1077.7h0M187.5,1077.8h0M182.0,1079.6h0M171.6,1089.8h0M142.5,1117.3h0M149.3,1115.2h0M164.2,1093.7h0M199.9,1062.5h0M129.8,1113.9h0M159.6,1096.9h0M164.2,1086.8h0M139.6,1115.9h0M178.7,1078.0h0M161.3,1094.6h0M159.3,1101.8h0M169.8,1079.7h0M155.3,1101.5h0M121.7,1132.1h0M183.1,1080.3h0M121.2,1121.2h0M149.8,1106.5h0M185.9,1077.3h0M176.8,1095.6h0M162.6,1097.3h0M167.2,1096.2h0M174.1,1080.9h0M114.3,1137.5h0M199.9,1070.5h0M149.4,1105.7h0M158.9,1092.2h0M163.7,1094.5h0M198.3,1063.4h0M175.1,1081.7h0M130.4,1118.2h0M179.6,1077.9h0M149.8,1097.8h0M156.3,1107.4h0M207.4,1060.9h0M153.6,1099.4h0M148.0,1095.1h0M160.8,1100.1h0M191.3,1071.4h0M183.7,1087.0h0M94.1,1139.4h0M151.1,1112.6h0M186.4,1072.1h0M162.8,1097.1h0M154.1,1096.5h0M167.9,1087.8h0M194.1,1068.6h0M159.7,1095.3h0M136.8,1116.7h0M156.1,1080.5h0M152.3,1097.1h0M174.4,1085.6h0M163.8,1085.9h0M193.2,1071.1h0M95.7,1138.3h0M102.5,1132.6h0M154.7,1100.7h0M206.3,1062.1h0M174.9,1083.2h0M178.5,1084.4h0M189.1,1072.6h0M180.7,1079.8h0M178.0,1079.2h0M145.7,1108.8h0M135.0,1096.9h0M178.0,1096.9h0M212.8,1052.8h0M177.3,1080.8h0M159.0,1104.2h0M200.5,1072.8h0M178.6,1081.0h0M179.0,1076.7h0M163.5,1096.3h0M110.5,1124.7h0M164.7,1085.1h0M144.2,1105.6h0M162.3,1087.6h0M152.0,1090.9h0M191.2,1070.2h0M148.3,1099.7h0M199.2,1067.1h0M134.7,1112.6h0M178.4,1089.9h0M130.4,1125.8h0M167.1,1090.5h0M170.7,1084.5h0M142.7,1113.1h0M185.1,1076.0h0M191.7,1080.4h0M160.5,1088.5h0M155.1,1097.9h0M126.4,1117.4h0M190.7,1069.4h0M159.7,1105.3h0M160.0,1091.9h0M187.8,1074.4h0M169.8,1094.3h0M166.7,1088.5h0M171.5,1094.6h0M141.8,1116.6h0M196.8,1065.7h0M178.9,1088.1h0M116.5,1129.0h0M124.6,1116.4h0M157.9,1099.9h0M160.9,1099.6h0M200.4,1055.3h0M162.6,1095.9h0M169.6,1089.8h0M150.2,1105.3h0M172.9,1089.3h0M160.5,1092.8h0M188.6,1067.8h0M152.5,1101.1h0M183.5,1077.3h0M133.6,1115.0h0M176.5,1084.8h0M168.6,1090.9h0M166.2,1092.3h0M186.7,1080.9h0M198.2,1064.6h0M150.9,1108.0h0M179.0,1082.8h0M106.6,1126.1h0M155.5,1096.5h0M129.5,1114.6h0M189.3,1079.9h0M172.8,1082.7h0M185.4,1087.1h0M149.4,1102.5h0M156.0,1098.8h0M141.9,1110.6h0M155.1,1099.4h0M159.1,1099.8h0M183.5,1080.1h0M203.7,1058.1h0M105.9,1125.7h0M121.8,1120.7h0M156.9,1109.3h0M204.9,1063.1h0M180.8,1094.3h0M202.5,1064.6h0M143.2,1116.9h0M171.7,1094.5h0M190.3,1074.7h0M149.5,1110.0h0M161.3,1118.3h0M159.6,1087.6h0M180.5,1081.4h0M184.6,1079.3h0M134.4,1111.2h0M153.9,1105.5h0M185.7,1079.6h0M180.4,1082.5h0M168.5,1096.0h0M175.1,1092.5h0M160.9,1094.8h0M157.0,1103.6h0M176.5,1079.8h0M152.5,1100.6h0M188.8,1073.5h0M156.1,1088.7h0M170.8,1088.4h0M148.7,1097.0h0M106.0,1135.9h0M187.2,1081.3h0M162.4,1105.5h0M153.9,1108.3h0M118.8,1148.8h0M147.7,1116.4h0M174.5,1086.3h0M124.6,1128.9h0M195.2,1072.3h0M130.3,1117.7h0M127.4,1098.5h0M183.5,1074.4h0M152.8,1091.1h0M122.8,1106.8h0M129.3,1124.7h0M142.3,1105.6h0M151.1,1106.7h0M192.4,1074.5h0M156.0,1097.0h0M149.8,1111.0h0M173.0,1087.8h0M130.5,1128.4h0M163.6,1101.7h0M176.4,1076.6h0M158.7,1089.3h0M152.0,1102.9h0M145.5,1108.4h0M176.5,1080.2h0M162.6,1093.7h0M189.4,1069.5h0M198.3,1066.9h0M189.9,1075.3h0M140.6,1115.3h0M180.6,1074.9h0M166.9,1085.5h0M147.7,1103.2h0M171.6,1094.1h0M174.1,1087.4h0M135.5,1132.7h0M164.2,1096.1h0M176.4,1081.9h0M168.3,1094.1h0M177.8,1091.2h0M170.2,1087.0h0M159.3,1103.0h0M150.8,1104.1h0M143.5,1110.4h0M146.7,1098.5h0M142.9,1106.6h0M179.6,1084.3h0M156.6,1107.8h0M148.1,1112.0h0M171.8,1083.2h0M152.8,1097.8h0M169.4,1095.5h0M152.9,1092.8h0M172.7,1092.3h0M139.6,1109.9h0M161.1,1089.4h0M181.0,1081.2h0M162.0,1094.7h0M213.7,1055.1h0M181.7,1065.7h0M185.9,1076.6h0M170.0,1089.2h0M165.8,1099.7h0M144.2,1115.5h0M193.7,1071.2h0M185.5,1080.0h0M176.8,1079.3h0M154.9,1094.1h0M155.0,1103.6h0M200.6,1064.2h0M143.2,1106.2h0M158.4,1100.4h0M164.7,1083.6h0M165.3,1093.9h0M164.7,1101.5h0M184.9,1085.3h0M147.0,1107.0h0M143.3,1125.8h0M178.3,1067.3h0M125.5,1117.7h0M196.2,1066.1h0M185.7,1077.5h0M122.6,1121.4h0M158.6,1099.3h0M160.8,1095.5h0M111.9,1128.9h0M192.3,1075.2h0M177.9,1083.5h0M153.7,1095.6h0M140.0,1120.4h0M165.8,1092.8h0M190.5,1071.9h0M192.0,1062.5h0M169.4,1085.0h0M178.6,1080.8h0M163.1,1095.6h0M155.5,1093.9h0M139.1,1111.0h0M171.6,1087.8h0M160.2,1100.0h0M178.9,1086.6h0M133.1,1117.5h0M175.6,1093.7h0M178.0,1082.7h0M165.2,1089.9h0M154.8,1104.1h0M166.7,1093.4h0M153.5,1090.4h0M116.4,1119.8h0M183.4,1067.0h0M154.5,1085.0h0M170.3,1083.6h0M159.6,1101.7h0M151.7,1106.7h0M204.9,1064.2h0M155.9,1102.3h0M157.6,1081.0h0M159.6,1095.4h0M146.7,1096.3h0M175.2,1099.2h0M140.8,1115.8h0M140.7,1104.3h0M165.0,1097.9h0M183.9,1082.7h0M166.1,1082.3h0M121.4,1113.8h0M181.1,1082.5h0M193.8,1067.5h0M177.4,1082.1h0M144.4,1097.4h0M201.1,1063.2h0M195.0,1073.3h0M174.6,1081.7h0M188.4,1073.4h0M157.7,1092.5h0M180.6,1077.1h0M189.0,1059.8h0M156.4,1099.0h0M162.5,1087.7h0M190.1,1069.0h0M183.6,1075.1h0M105.1,1129.3h0M205.9,1060.7h0M119.2,1133.1h0M214.2,1061.5h0M150.3,1119.2h0M208.3,1055.6h0M196.7,1068.4h0M156.1,1098.4h0M165.7,1090.7h0M175.0,1090.3h0M155.6,1084.2h0M139.5,1110.9h0M162.5,1104.5h0M188.2,1077.6h0M159.3,1101.2h0M155.4,1100.5h0M200.1,1067.8h0M192.3,1068.6h0M158.8,1074.2h0M174.1,1087.3h0M166.6,1082.3h0M166.9,1092.8h0M174.3,1088.7h0M169.6,1086.9h0M181.4,1077.1h0M123.9,1123.8h0M157.6,1100.8h0M195.7,1070.5h0M95.6,1144.1h0M174.1,1100.3h0M187.1,1082.3h0M156.1,1103.3h0M141.9,1097.4h0M212.3,1056.8h0M186.9,1070.2h0M178.6,1085.0h0M212.2,1058.7h0M189.8,1073.7h0M185.1,1081.0h0M166.1,1086.7h0M151.0,1101.9h0M178.9,1084.5h0M149.4,1097.4h0M126.5,1114.7h0M128.8,1134.7h0M188.2,1076.5h0M156.8,1097.7h0M201.0,1062.1h0M180.2,1094.7h0M126.1,1119.5h0M179.0,1076.9h0M180.9,1101.2h0M109.3,1126.8h0M166.1,1085.1h0M159.1,1090.0h0M187.2,1078.6h0M134.4,1114.5h0M182.5,1079.7h0M211.9,1053.0h0M157.9,1100.2h0M164.8,1099.9h0M162.8,1091.2h0M162.8,1100.3h0M161.9,1099.1h0M195.3,1065.3h0M117.7,1132.3h0M197.6,1076.3h0M195.9,1065.4h0M142.2,1118.6h0M144.6,1100.4h0M158.4,1091.8h0M120.0,1131.2h0M145.2,1096.9h0M122.2,1119.7h0M128.4,1115.2h0M187.6,1071.8h0M198.1,1063.0h0M142.1,1113.3h0M185.0,1072.9h0M159.4,1102.0h0M187.3,1083.6h0M192.3,1072.8h0M185.1,1073.0h0M181.0,1084.0h0M189.8,1067.8h0M171.2,1097.5h0M195.8,1067.1h0M119.4,1121.6h0M191.2,1067.0h0M165.4,1079.6h0M178.2,1080.8h0M154.3,1097.9h0M159.9,1095.3h0M172.2,1087.3h0M185.7,1069.1h0M164.5,1087.6h0M161.1,1102.4h0M108.1,1125.1h0M189.2,1078.1h0M173.0,1082.5h0M97.9,1135.0h0M165.1,1092.4h0M177.4,1084.9h0M161.3,1108.0h0M175.6,1084.9h0M135.4,1108.8h0M179.1,1074.8h0M147.2,1090.8h0M153.1,1103.2h0M139.8,1106.2h0M194.3,1072.5h0M149.5,1098.1h0M151.2,1094.8h0M146.1,1119.0h0M157.6,1102.9h0M195.5,1067.1h0M195.5,1065.4h0M177.6,1060.7h0M146.6,1107.7h0M191.8,1072.9h0M162.4,1082.9h0M170.0,1092.5h0M130.4,1104.2h0M203.7,1052.9h0M181.3,1076.7h0M177.4,1079.4h0M130.1,1126.0h0M150.8,1113.1h0M138.2,1105.5h0M180.5,1076.4h0M153.9,1086.9h0M128.9,1099.8h0M180.4,1083.6h0M165.7,1091.6h0M210.3,1058.9h0M151.1,1099.4h0M198.3,1061.2h0M186.5,1075.2h0M152.8,1099.3h0M185.5,1073.2h0M153.5,1123.4h0M122.8,1122.5h0M175.2,1078.0h0M185.4,1068.0h0M157.9,1087.4h0M185.9,1074.2h0M184.2,1078.2h0M133.4,1120.4h0M118.5,1124.1h0M166.5,1084.9h0M188.3,1063.9h0M154.8,1100.4h0M112.2,1125.4h0M121.3,1126.7h0M206.0,1057.4h0M197.9,1074.9h0M175.7,1088.3h0M143.1,1101.6h0M189.6,1068.3h0M161.9,1106.5h0M187.5,1068.1h0M164.0,1093.0h0M120.6,1128.4h0M170.6,1098.2h0M156.0,1106.0h0M184.8,1077.1h0M123.0,1110.9h0M167.9,1091.7h0M122.4,1130.2h0M175.7,1087.8h0M173.0,1097.1h0M178.9,1080.6h0M173.3,1089.7h0M178.5,1076.9h0M171.1,1088.5h0M178.4,1081.4h0M201.4,1070.0h0M208.1,1055.5h0M93.1,1148.0h0M201.1,1065.4h0M167.9,1098.9h0M173.5,1085.7h0M166.3,1092.7h0M156.2,1104.6h0M176.4,1075.8h0M136.4,1136.5h0M188.2,1080.5h0M152.6,1109.6h0M144.9,1110.1h0M182.6,1072.1h0M112.1,1122.1h0M180.1,1083.0h0M154.1,1096.9h0M140.3,1119.7h0M152.6,1104.1h0M181.9,1076.4h0M162.8,1087.6h0M109.1,1134.8h0M196.0,1070.5h0M160.2,1119.3h0M201.3,1067.7h0M162.2,1089.0h0M170.3,1078.3h0M173.0,1086.3h0M178.5,1087.9h0M202.6,1060.9h0M128.9,1120.3h0M191.0,1079.0h0M141.7,1116.1h0M180.4,1073.8h0M155.6,1110.8h0M159.0,1109.3h0M184.6,1080.9h0M143.1,1108.4h0M176.1,1081.4h0M193.8,1068.5h0M159.3,1096.2h0M143.7,1108.2h0M203.1,1063.3h0M154.3,1083.7h0M171.0,1093.8h0M139.2,1104.9h0M190.2,1075.9h0M195.1,1058.0h0M177.1,1086.0h0M133.2,1114.4h0M127.2,1122.8h0M179.2,1072.6h0M119.0,1118.2h0M189.1,1065.9h0M204.8,1071.4h0M170.6,1093.2h0M178.8,1089.8h0M153.7,1103.6h0M125.9,1108.9h0M176.0,1093.7h0M161.4,1092.0h0M178.6,1079.0h0M207.5,1068.7h0M188.1,1081.0h0M145.5,1101.6h0M130.4,1106.1h0M171.0,1087.3h0M160.7,1096.4h0M136.9,1140.0h0M157.3,1098.5h0M140.2,1111.7h0M165.1,1095.3h0M158.7,1108.5h0M173.6,1076.7h0M99.9,1145.0h0M168.6,1089.2h0M151.7,1103.3h0M128.8,1108.0h0M169.4,1085.7h0M148.4,1104.6h0M155.9,1085.8h0M168.4,1101.6h0M156.7,1090.8h0M130.4,1113.9h0M185.7,1077.9h0M204.5,1067.9h0M136.6,1107.7h0M166.2,1086.7h0M190.7,1063.3h0M153.6,1105.6h0M183.1,1071.2h0M158.5,1099.1h0M202.6,1059.2h0M213.0,1054.1h0M150.1,1094.6h0M180.2,1053.2h0M161.5,1097.5h0M191.7,1072.3h0M180.0,1086.5h0M143.0,1105.7h0M187.2,1075.7h0M179.1,1081.7h0M207.6,1059.9h0M177.4,1087.2h0M180.2,1084.0h0M172.5,1087.1h0M128.4,1122.1h0M169.2,1101.7h0M97.2,1129.4h0M148.6,1114.8h0M159.9,1092.9h0M166.3,1082.8h0M194.0,1084.6h0M159.7,1095.6h0M158.4,1094.3h0M172.1,1096.9h0M157.3,1093.9h0M185.5,1097.3h0M184.3,1082.3h0M174.0,1080.3h0M139.0,1110.9h0M176.5,1075.7h0M107.3,1144.7h0M120.7,1110.9h0M206.4,1064.0h0M155.6,1103.3h0M105.3,1138.6h0M157.7,1096.9h0M166.4,1086.1h0M186.0,1086.0h0M172.7,1093.2h0M202.0,1063.8h0M161.0,1101.6h0M168.7,1092.5h0M174.8,1091.0h0M167.4,1084.4h0M156.3,1114.5h0M163.8,1091.9h0M149.6,1104.1h0M169.9,1095.7h0M183.7,1090.4h0M180.6,1086.4h0M150.1,1100.5h0M150.7,1103.9h0M175.9,1080.1h0M105.7,1134.8h0M140.6,1111.7h0M93.3,1147.6h0M154.9,1099.5h0M78.0,1146.1h0" stroke="#17b6c8" stroke-width="2.3" stroke-linecap="round" fill="none"/>
<g><circle cx="244.5" cy="1027.5" r="4.3" fill="none" stroke="#17b6c8" stroke-width="0.9"/><circle cx="254.2" cy="1028.4" r="4.3" fill="none" stroke="#17b6c8" stroke-width="0.9"/><circle cx="244.0" cy="1032.6" r="4.3" fill="none" stroke="#17b6c8" stroke-width="0.9"/><circle cx="244.0" cy="1037.2" r="4.3" fill="none" stroke="#17b6c8" stroke-width="0.9"/><circle cx="245.1" cy="1037.3" r="4.3" fill="none" stroke="#17b6c8" stroke-width="0.9"/><circle cx="247.5" cy="1040.2" r="4.3" fill="none" stroke="#17b6c8" stroke-width="0.9"/><circle cx="237.8" cy="1033.8" r="4.3" fill="none" stroke="#17b6c8" stroke-width="0.9"/><circle cx="232.6" cy="1035.9" r="4.3" fill="none" stroke="#17b6c8" stroke-width="0.9"/><circle cx="231.3" cy="1037.7" r="4.3" fill="none" stroke="#17b6c8" stroke-width="0.9"/><circle cx="230.1" cy="1037.2" r="4.3" fill="none" stroke="#17b6c8" stroke-width="0.9"/><circle cx="232.1" cy="1038.0" r="4.3" fill="none" stroke="#17b6c8" stroke-width="0.9"/><circle cx="233.8" cy="1040.5" r="4.3" fill="none" stroke="#17b6c8" stroke-width="0.9"/><circle cx="234.3" cy="1040.9" r="4.3" fill="none" stroke="#17b6c8" stroke-width="0.9"/><circle cx="236.7" cy="1042.4" r="4.3" fill="none" stroke="#17b6c8" stroke-width="0.9"/><circle cx="224.5" cy="1036.5" r="4.3" fill="none" stroke="#17b6c8" stroke-width="0.9"/><circle cx="217.4" cy="1035.3" r="4.3" fill="none" stroke="#17b6c8" stroke-width="0.9"/><circle cx="223.8" cy="1040.4" r="4.3" fill="none" stroke="#17b6c8" stroke-width="0.9"/><circle cx="226.5" cy="1040.8" r="4.3" fill="none" stroke="#17b6c8" stroke-width="0.9"/><circle cx="228.9" cy="1041.1" r="4.3" fill="none" stroke="#17b6c8" stroke-width="0.9"/><circle cx="226.1" cy="1043.1" r="4.3" fill="none" stroke="#17b6c8" stroke-width="0.9"/><circle cx="231.0" cy="1044.1" r="4.3" fill="none" stroke="#17b6c8" stroke-width="0.9"/><circle cx="218.5" cy="1040.8" r="4.3" fill="none" stroke="#17b6c8" stroke-width="0.9"/><circle cx="219.1" cy="1042.6" r="4.3" fill="none" stroke="#17b6c8" stroke-width="0.9"/><circle cx="220.3" cy="1045.0" r="4.3" fill="none" stroke="#17b6c8" stroke-width="0.9"/><circle cx="221.5" cy="1044.8" r="4.3" fill="none" stroke="#17b6c8" stroke-width="0.9"/><circle cx="224.2" cy="1046.3" r="4.3" fill="none" stroke="#17b6c8" stroke-width="0.9"/><circle cx="225.6" cy="1046.3" r="4.3" fill="none" stroke="#17b6c8" stroke-width="0.9"/><circle cx="227.7" cy="1046.5" r="4.3" fill="none" stroke="#17b6c8" stroke-width="0.9"/><circle cx="228.9" cy="1046.5" r="4.3" fill="none" stroke="#17b6c8" stroke-width="0.9"/><circle cx="227.7" cy="1049.7" r="4.3" fill="none" stroke="#17b6c8" stroke-width="0.9"/><circle cx="229.5" cy="1050.2" r="4.3" fill="none" stroke="#17b6c8" stroke-width="0.9"/><circle cx="231.1" cy="1049.0" r="4.3" fill="none" stroke="#17b6c8" stroke-width="0.9"/><circle cx="221.5" cy="1050.2" r="4.3" fill="none" stroke="#17b6c8" stroke-width="0.9"/><circle cx="227.8" cy="1047.2" r="4.3" fill="none" stroke="#17b6c8" stroke-width="0.9"/><circle cx="218.0" cy="1051.1" r="4.3" fill="none" stroke="#17b6c8" stroke-width="0.9"/><circle cx="220.5" cy="1047.5" r="4.3" fill="none" stroke="#17b6c8" stroke-width="0.9"/><circle cx="225.9" cy="1046.8" r="4.3" fill="none" stroke="#17b6c8" stroke-width="0.9"/><circle cx="220.2" cy="1050.7" r="4.3" fill="none" stroke="#17b6c8" stroke-width="0.9"/><circle cx="216.7" cy="1049.8" r="4.3" fill="none" stroke="#17b6c8" stroke-width="0.9"/><circle cx="220.0" cy="1050.6" r="4.3" fill="none" stroke="#17b6c8" stroke-width="0.9"/><circle cx="217.3" cy="1051.0" r="4.3" fill="none" stroke="#17b6c8" stroke-width="0.9"/><circle cx="225.5" cy="1047.9" r="4.3" fill="none" stroke="#17b6c8" stroke-width="0.9"/><circle cx="224.8" cy="1050.7" r="4.3" fill="none" stroke="#17b6c8" stroke-width="0.9"/><circle cx="224.4" cy="1048.8" r="4.3" fill="none" stroke="#17b6c8" stroke-width="0.9"/><circle cx="226.9" cy="1048.2" r="4.3" fill="none" stroke="#17b6c8" stroke-width="0.9"/><circle cx="225.2" cy="1049.7" r="4.3" fill="none" stroke="#17b6c8" stroke-width="0.9"/><circle cx="222.4" cy="1047.9" r="4.3" fill="none" stroke="#17b6c8" stroke-width="0.9"/><circle cx="224.4" cy="1044.3" r="4.3" fill="none" stroke="#17b6c8" stroke-width="0.9"/><circle cx="225.0" cy="1048.9" r="4.3" fill="none" stroke="#17b6c8" stroke-width="0.9"/><circle cx="216.5" cy="1045.4" r="4.3" fill="none" stroke="#17b6c8" stroke-width="0.9"/><circle cx="219.8" cy="1050.2" r="4.3" fill="none" stroke="#17b6c8" stroke-width="0.9"/><circle cx="219.8" cy="1045.7" r="4.3" fill="none" stroke="#17b6c8" stroke-width="0.9"/><circle cx="221.0" cy="1049.5" r="4.3" fill="none" stroke="#17b6c8" stroke-width="0.9"/><circle cx="220.7" cy="1050.9" r="4.3" fill="none" stroke="#17b6c8" stroke-width="0.9"/><circle cx="228.1" cy="1042.7" r="4.3" fill="none" stroke="#17b6c8" stroke-width="0.9"/><circle cx="232.6" cy="1049.6" r="4.3" fill="none" stroke="#17b6c8" stroke-width="0.9"/><circle cx="219.6" cy="1051.0" r="4.3" fill="none" stroke="#17b6c8" stroke-width="0.9"/><circle cx="225.9" cy="1047.7" r="4.3" fill="none" stroke="#17b6c8" stroke-width="0.9"/><circle cx="220.5" cy="1049.5" r="4.3" fill="none" stroke="#17b6c8" stroke-width="0.9"/><circle cx="217.3" cy="1050.8" r="4.3" fill="none" stroke="#17b6c8" stroke-width="0.9"/><circle cx="218.9" cy="1047.9" r="4.3" fill="none" stroke="#17b6c8" stroke-width="0.9"/><circle cx="218.9" cy="1049.5" r="4.3" fill="none" stroke="#17b6c8" stroke-width="0.9"/><circle cx="218.7" cy="1046.6" r="4.3" fill="none" stroke="#17b6c8" stroke-width="0.9"/><circle cx="221.9" cy="1045.9" r="4.3" fill="none" stroke="#17b6c8" stroke-width="0.9"/><circle cx="222.1" cy="1049.3" r="4.3" fill="none" stroke="#17b6c8" stroke-width="0.9"/><circle cx="226.4" cy="1049.5" r="4.3" fill="none" stroke="#17b6c8" stroke-width="0.9"/><circle cx="223.0" cy="1046.0" r="4.3" fill="none" stroke="#17b6c8" stroke-width="0.9"/><circle cx="216.7" cy="1049.1" r="4.3" fill="none" stroke="#17b6c8" stroke-width="0.9"/><circle cx="220.1" cy="1050.2" r="4.3" fill="none" stroke="#17b6c8" stroke-width="0.9"/><circle cx="226.5" cy="1043.7" r="4.3" fill="none" stroke="#17b6c8" stroke-width="0.9"/><circle cx="217.0" cy="1050.4" r="4.3" fill="none" stroke="#17b6c8" stroke-width="0.9"/><circle cx="218.0" cy="1049.9" r="4.3" fill="none" stroke="#17b6c8" stroke-width="0.9"/></g>
<g><path d="M219.5,1059.6L225.5,1065.6M219.5,1065.6L225.5,1059.6" stroke="#a83228" stroke-width="0.9" fill="none"/><path d="M221.6,1054.9L227.6,1060.9M221.6,1060.9L227.6,1054.9" stroke="#a83228" stroke-width="0.9" fill="none"/><path d="M223.2,1055.2L229.2,1061.2M223.2,1061.2L229.2,1055.2" stroke="#a83228" stroke-width="0.9" fill="none"/><path d="M217.3,1056.5L223.3,1062.5M217.3,1062.5L223.3,1056.5" stroke="#a83228" stroke-width="0.9" fill="none"/><path d="M241.5,1051.5L247.5,1057.5M241.5,1057.5L247.5,1051.5" stroke="#a83228" stroke-width="0.9" fill="none"/><path d="M217.0,1049.5L223.0,1055.5M217.0,1055.5L223.0,1049.5" stroke="#a83228" stroke-width="0.9" fill="none"/><path d="M214.4,1053.2L220.4,1059.2M214.4,1059.2L220.4,1053.2" stroke="#a83228" stroke-width="0.9" fill="none"/><path d="M213.5,1051.0L219.5,1057.0M213.5,1057.0L219.5,1051.0" stroke="#a83228" stroke-width="0.9" fill="none"/><path d="M216.2,1051.5L222.2,1057.5M216.2,1057.5L222.2,1051.5" stroke="#a83228" stroke-width="0.9" fill="none"/><path d="M217.8,1056.8L223.8,1062.8M217.8,1062.8L223.8,1056.8" stroke="#a83228" stroke-width="0.9" fill="none"/><path d="M216.2,1049.5L222.2,1055.5M216.2,1055.5L222.2,1049.5" stroke="#a83228" stroke-width="0.9" fill="none"/><path d="M217.8,1051.1L223.8,1057.1M217.8,1057.1L223.8,1051.1" stroke="#a83228" stroke-width="0.9" fill="none"/><path d="M215.9,1050.2L221.9,1056.2M215.9,1056.2L221.9,1050.2" stroke="#a83228" stroke-width="0.9" fill="none"/><path d="M220.2,1054.1L226.2,1060.1M220.2,1060.1L226.2,1054.1" stroke="#a83228" stroke-width="0.9" fill="none"/><path d="M214.7,1050.6L220.7,1056.6M214.7,1056.6L220.7,1050.6" stroke="#a83228" stroke-width="0.9" fill="none"/><path d="M215.8,1051.2L221.8,1057.2M215.8,1057.2L221.8,1051.2" stroke="#a83228" stroke-width="0.9" fill="none"/><path d="M215.9,1051.9L221.9,1057.9M215.9,1057.9L221.9,1051.9" stroke="#a83228" stroke-width="0.9" fill="none"/><path d="M218.5,1053.0L224.5,1059.0M218.5,1059.0L224.5,1053.0" stroke="#a83228" stroke-width="0.9" fill="none"/><path d="M214.6,1052.3L220.6,1058.3M214.6,1058.3L220.6,1052.3" stroke="#a83228" stroke-width="0.9" fill="none"/><path d="M214.5,1051.8L220.5,1057.8M214.5,1057.8L220.5,1051.8" stroke="#a83228" stroke-width="0.9" fill="none"/><path d="M214.1,1054.5L220.1,1060.5M214.1,1060.5L220.1,1054.5" stroke="#a83228" stroke-width="0.9" fill="none"/><path d="M216.4,1050.9L222.4,1056.9M216.4,1056.9L222.4,1050.9" stroke="#a83228" stroke-width="0.9" fill="none"/><path d="M214.7,1049.0L220.7,1055.0M214.7,1055.0L220.7,1049.0" stroke="#a83228" stroke-width="0.9" fill="none"/><path d="M213.4,1051.8L219.4,1057.8M213.4,1057.8L219.4,1051.8" stroke="#a83228" stroke-width="0.9" fill="none"/><path d="M217.3,1052.8L223.3,1058.8M217.3,1058.8L223.3,1052.8" stroke="#a83228" stroke-width="0.9" fill="none"/><path d="M216.1,1052.5L222.1,1058.5M216.1,1058.5L222.1,1052.5" stroke="#a83228" stroke-width="0.9" fill="none"/><path d="M220.8,1051.7L226.8,1057.7M220.8,1057.7L226.8,1051.7" stroke="#a83228" stroke-width="0.9" fill="none"/><path d="M216.8,1049.4L222.8,1055.4M216.8,1055.4L222.8,1049.4" stroke="#a83228" stroke-width="0.9" fill="none"/><path d="M214.1,1052.8L220.1,1058.8M214.1,1058.8L220.1,1052.8" stroke="#a83228" stroke-width="0.9" fill="none"/><path d="M214.6,1054.9L220.6,1060.9M214.6,1060.9L220.6,1054.9" stroke="#a83228" stroke-width="0.9" fill="none"/><path d="M216.3,1051.8L222.3,1057.8M216.3,1057.8L222.3,1051.8" stroke="#a83228" stroke-width="0.9" fill="none"/><path d="M214.5,1051.4L220.5,1057.4M214.5,1057.4L220.5,1051.4" stroke="#a83228" stroke-width="0.9" fill="none"/><path d="M214.8,1052.3L220.8,1058.3M214.8,1058.3L220.8,1052.3" stroke="#a83228" stroke-width="0.9" fill="none"/></g>
<g><path d="M212.7,1034.6L216.9,1039.8L212.7,1045.0L208.5,1039.8Z" stroke="#a83228" stroke-width="0.9" fill="none"/><path d="M212.1,1036.4L216.3,1041.6L212.1,1046.8L207.9,1041.6Z" stroke="#a83228" stroke-width="0.9" fill="none"/><path d="M208.0,1039.8L212.2,1045.0L208.0,1050.2L203.8,1045.0Z" stroke="#a83228" stroke-width="0.9" fill="none"/><path d="M208.7,1041.7L212.9,1046.9L208.7,1052.1L204.5,1046.9Z" stroke="#a83228" stroke-width="0.9" fill="none"/><path d="M207.4,1043.5L211.6,1048.7L207.4,1053.9L203.2,1048.7Z" stroke="#a83228" stroke-width="0.9" fill="none"/><path d="M209.9,1045.4L214.1,1050.6L209.9,1055.8L205.7,1050.6Z" stroke="#a83228" stroke-width="0.9" fill="none"/><path d="M213.0,1046.0L217.2,1051.2L213.0,1056.4L208.8,1051.2Z" stroke="#a83228" stroke-width="0.9" fill="none"/><path d="M211.1,1042.9L215.3,1048.1L211.1,1053.3L206.9,1048.1Z" stroke="#a83228" stroke-width="0.9" fill="none"/><path d="M213.6,1041.1L217.8,1046.3L213.6,1051.5L209.4,1046.3Z" stroke="#a83228" stroke-width="0.9" fill="none"/><path d="M209.3,1043.5L213.5,1048.7L209.3,1053.9L205.1,1048.7Z" stroke="#a83228" stroke-width="0.9" fill="none"/><path d="M213.4,1046.0L217.6,1051.2L213.4,1056.4L209.2,1051.2Z" stroke="#a83228" stroke-width="0.9" fill="none"/><path d="M206.2,1044.4L210.4,1049.6L206.2,1054.8L202.0,1049.6Z" stroke="#a83228" stroke-width="0.9" fill="none"/><path d="M214.6,1045.1L218.8,1050.3L214.6,1055.5L210.4,1050.3Z" stroke="#a83228" stroke-width="0.9" fill="none"/><path d="M212.5,1045.2L216.7,1050.4L212.5,1055.6L208.3,1050.4Z" stroke="#a83228" stroke-width="0.9" fill="none"/><path d="M211.8,1043.7L216.0,1048.9L211.8,1054.1L207.6,1048.9Z" stroke="#a83228" stroke-width="0.9" fill="none"/><path d="M210.5,1044.6L214.7,1049.8L210.5,1055.0L206.3,1049.8Z" stroke="#a83228" stroke-width="0.9" fill="none"/><path d="M213.8,1044.7L218.0,1049.9L213.8,1055.1L209.6,1049.9Z" stroke="#a83228" stroke-width="0.9" fill="none"/><path d="M215.5,1045.0L219.7,1050.2L215.5,1055.4L211.3,1050.2Z" stroke="#a83228" stroke-width="0.9" fill="none"/><path d="M211.8,1044.4L216.0,1049.6L211.8,1054.8L207.6,1049.6Z" stroke="#a83228" stroke-width="0.9" fill="none"/><path d="M209.9,1045.4L214.1,1050.6L209.9,1055.8L205.7,1050.6Z" stroke="#a83228" stroke-width="0.9" fill="none"/><path d="M215.3,1045.5L219.5,1050.7L215.3,1055.9L211.1,1050.7Z" stroke="#a83228" stroke-width="0.9" fill="none"/><path d="M211.9,1045.2L216.1,1050.4L211.9,1055.6L207.7,1050.4Z" stroke="#a83228" stroke-width="0.9" fill="none"/><path d="M212.7,1045.9L216.9,1051.1L212.7,1056.3L208.5,1051.1Z" stroke="#a83228" stroke-width="0.9" fill="none"/><path d="M215.9,1043.6L220.1,1048.8L215.9,1054.0L211.7,1048.8Z" stroke="#a83228" stroke-width="0.9" fill="none"/></g>
<line x1="38.50" y1="1193.00" x2="294.70" y2="989.10" stroke="#8a93b2" stroke-width="1.45"/>
<line x1="38.50" y1="1184.84" x2="284.45" y2="989.10" stroke="#3aad3a" stroke-width="1.25" stroke-dasharray="5.5,5"/>
<line x1="48.75" y1="1193.00" x2="294.70" y2="997.26" stroke="#3aad3a" stroke-width="1.25" stroke-dasharray="5.5,5"/>
<line x1="216.30" y1="989.1" x2="216.30" y2="1193.0" stroke="#8a93b2" stroke-width="1.45"/>
</g>
<line x1="38.5" y1="1051.49" x2="295.2" y2="1051.49" stroke="#8a93b2" stroke-width="1.45"/>
<rect x="192.22" y="1009.49" width="76.86" height="61.17" fill="none" stroke="#a07aa4" stroke-width="2.6"/>
<line x1="38.5" y1="989.1" x2="38.5" y2="1193.5" stroke="#626262" stroke-width="1.1"/>
<line x1="38.0" y1="1193.0" x2="295.2" y2="1193.0" stroke="#626262" stroke-width="1.1"/>
<line x1="38.50" y1="1193.0" x2="38.50" y2="1190.0" stroke="#626262" stroke-width="1"/>
<line x1="38.5" y1="1193.00" x2="41.5" y2="1193.00" stroke="#626262" stroke-width="1"/>
<text x="38.50" y="1211.00" font-size="14" text-anchor="middle" fill="#222222">2</text>
<text x="32.50" y="1198.00" font-size="14" text-anchor="end" fill="#222222">2</text>
<line x1="89.74" y1="1193.0" x2="89.74" y2="1190.0" stroke="#626262" stroke-width="1"/>
<line x1="38.5" y1="1152.22" x2="41.5" y2="1152.22" stroke="#626262" stroke-width="1"/>
<text x="89.74" y="1211.00" font-size="14" text-anchor="middle" fill="#222222">3</text>
<text x="32.50" y="1157.22" font-size="14" text-anchor="end" fill="#222222">3</text>
<line x1="140.98" y1="1193.0" x2="140.98" y2="1190.0" stroke="#626262" stroke-width="1"/>
<line x1="38.5" y1="1111.44" x2="41.5" y2="1111.44" stroke="#626262" stroke-width="1"/>
<text x="140.98" y="1211.00" font-size="14" text-anchor="middle" fill="#222222">4</text>
<text x="32.50" y="1116.44" font-size="14" text-anchor="end" fill="#222222">4</text>
<line x1="192.22" y1="1193.0" x2="192.22" y2="1190.0" stroke="#626262" stroke-width="1"/>
<line x1="38.5" y1="1070.66" x2="41.5" y2="1070.66" stroke="#626262" stroke-width="1"/>
<text x="192.22" y="1211.00" font-size="14" text-anchor="middle" fill="#222222">5</text>
<text x="32.50" y="1075.66" font-size="14" text-anchor="end" fill="#222222">5</text>
<line x1="243.46" y1="1193.0" x2="243.46" y2="1190.0" stroke="#626262" stroke-width="1"/>
<line x1="38.5" y1="1029.88" x2="41.5" y2="1029.88" stroke="#626262" stroke-width="1"/>
<text x="243.46" y="1211.00" font-size="14" text-anchor="middle" fill="#222222">6</text>
<text x="32.50" y="1034.88" font-size="14" text-anchor="end" fill="#222222">6</text>
<line x1="294.70" y1="1193.0" x2="294.70" y2="1190.0" stroke="#626262" stroke-width="1"/>
<line x1="38.5" y1="989.10" x2="41.5" y2="989.10" stroke="#626262" stroke-width="1"/>
<text x="294.70" y="1211.00" font-size="14" text-anchor="middle" fill="#222222">7</text>
<text x="32.50" y="994.10" font-size="14" text-anchor="end" fill="#222222">7</text>
<text x="166.60" y="985.10" font-size="16.6" font-weight="bold" text-anchor="middle" fill="#000">iCNN-GRU ast04</text>
<text x="3" y="991.30" font-size="16" fill="#111">(d)</text>
<text transform="translate(18.5,1091.05) rotate(-90)" font-size="16.5" text-anchor="middle" fill="#222222">Predictions (m)</text>
<line x1="344.40" y1="989.1" x2="344.40" y2="1193.0" stroke="#e3e3e3" stroke-width="1"/>
<line x1="344.4" y1="1193.00" x2="600.8" y2="1193.00" stroke="#e3e3e3" stroke-width="1"/>
<line x1="424.74" y1="989.1" x2="424.74" y2="1193.0" stroke="#e3e3e3" stroke-width="1"/>
<line x1="344.4" y1="1129.11" x2="600.8" y2="1129.11" stroke="#e3e3e3" stroke-width="1"/>
<line x1="515.33" y1="989.1" x2="515.33" y2="1193.0" stroke="#e3e3e3" stroke-width="1"/>
<line x1="344.4" y1="1057.07" x2="600.8" y2="1057.07" stroke="#e3e3e3" stroke-width="1"/>
<line x1="600.80" y1="989.1" x2="600.80" y2="1193.0" stroke="#e3e3e3" stroke-width="1"/>
<line x1="344.4" y1="989.10" x2="600.8" y2="989.10" stroke="#e3e3e3" stroke-width="1"/>
<clipPath id="cr2"><rect x="344.4" y="989.1" width="256.4" height="203.9"/></clipPath>
<g clip-path="url(#cr2)">
<g><circle cx="518.7" cy="1049.2" r="5.0" fill="none" stroke="#422fc5" stroke-width="1"/><circle cx="551.0" cy="1052.0" r="5.0" fill="none" stroke="#327ff4" stroke-width="1"/><circle cx="517.0" cy="1066.0" r="5.0" fill="none" stroke="#4842e2" stroke-width="1"/><circle cx="517.0" cy="1081.5" r="5.0" fill="none" stroke="#2f89ef" stroke-width="1"/><circle cx="520.7" cy="1081.9" r="5.0" fill="none" stroke="#2692e6" stroke-width="1"/><circle cx="528.9" cy="1091.3" r="5.0" fill="none" stroke="#08bac5" stroke-width="1"/><circle cx="496.6" cy="1070.0" r="5.0" fill="none" stroke="#3e26b1" stroke-width="1"/><circle cx="479.0" cy="1077.0" r="5.0" fill="none" stroke="#473ddb" stroke-width="1"/><circle cx="474.9" cy="1083.1" r="5.0" fill="none" stroke="#4332cc" stroke-width="1"/><circle cx="470.8" cy="1081.5" r="5.0" fill="none" stroke="#4845e5" stroke-width="1"/><circle cx="477.4" cy="1084.3" r="5.0" fill="none" stroke="#3f27b6" stroke-width="1"/><circle cx="483.1" cy="1092.5" r="5.0" fill="none" stroke="#4840e0" stroke-width="1"/><circle cx="484.7" cy="1093.7" r="5.0" fill="none" stroke="#484aea" stroke-width="1"/><circle cx="492.9" cy="1098.7" r="5.0" fill="none" stroke="#3281f3" stroke-width="1"/><circle cx="452.0" cy="1079.0" r="5.0" fill="none" stroke="#2791e7" stroke-width="1"/><circle cx="428.3" cy="1075.0" r="5.0" fill="none" stroke="#31c09f" stroke-width="1"/><circle cx="449.6" cy="1092.1" r="5.0" fill="none" stroke="#3e64f7" stroke-width="1"/><circle cx="458.6" cy="1093.3" r="5.0" fill="none" stroke="#473cdb" stroke-width="1"/><circle cx="466.7" cy="1094.6" r="5.0" fill="none" stroke="#3d25ad" stroke-width="1"/><circle cx="457.3" cy="1101.1" r="5.0" fill="none" stroke="#3e26b2" stroke-width="1"/><circle cx="473.7" cy="1104.4" r="5.0" fill="none" stroke="#4653f1" stroke-width="1"/><circle cx="432.0" cy="1093.3" r="5.0" fill="none" stroke="#2395e3" stroke-width="1"/><circle cx="434.0" cy="1099.5" r="5.0" fill="none" stroke="#337bf7" stroke-width="1"/><circle cx="438.1" cy="1107.6" r="5.0" fill="none" stroke="#4844e4" stroke-width="1"/><circle cx="442.2" cy="1106.8" r="5.0" fill="none" stroke="#463bd9" stroke-width="1"/><circle cx="451.2" cy="1111.7" r="5.0" fill="none" stroke="#4029ba" stroke-width="1"/><circle cx="455.7" cy="1111.7" r="5.0" fill="none" stroke="#4536d3" stroke-width="1"/><circle cx="462.6" cy="1112.5" r="5.0" fill="none" stroke="#4850f0" stroke-width="1"/><circle cx="466.7" cy="1112.5" r="5.0" fill="none" stroke="#3f61f6" stroke-width="1"/><circle cx="462.6" cy="1123.2" r="5.0" fill="none" stroke="#3183f3" stroke-width="1"/><circle cx="468.8" cy="1124.8" r="5.0" fill="none" stroke="#2296e2" stroke-width="1"/><circle cx="474.1" cy="1120.7" r="5.0" fill="none" stroke="#2197e1" stroke-width="1"/><circle cx="442.0" cy="1124.8" r="5.0" fill="none" stroke="#473ede" stroke-width="1"/><circle cx="463.2" cy="1114.9" r="5.0" fill="none" stroke="#405ff5" stroke-width="1"/><circle cx="430.5" cy="1128.0" r="5.0" fill="none" stroke="#4028b8" stroke-width="1"/><circle cx="438.8" cy="1115.7" r="5.0" fill="none" stroke="#3f27b2" stroke-width="1"/><circle cx="456.9" cy="1113.4" r="5.0" fill="none" stroke="#4840e0" stroke-width="1"/><circle cx="437.8" cy="1126.4" r="5.0" fill="none" stroke="#4538d5" stroke-width="1"/><circle cx="426.1" cy="1123.5" r="5.0" fill="none" stroke="#412cc0" stroke-width="1"/><circle cx="437.0" cy="1126.2" r="5.0" fill="none" stroke="#4435d1" stroke-width="1"/><circle cx="427.9" cy="1127.6" r="5.0" fill="none" stroke="#3d25ad" stroke-width="1"/><circle cx="455.4" cy="1117.0" r="5.0" fill="none" stroke="#484aea" stroke-width="1"/><circle cx="453.0" cy="1126.4" r="5.0" fill="none" stroke="#3870f8" stroke-width="1"/><circle cx="451.8" cy="1120.0" r="5.0" fill="none" stroke="#484beb" stroke-width="1"/><circle cx="460.0" cy="1118.0" r="5.0" fill="none" stroke="#3f62f6" stroke-width="1"/><circle cx="454.3" cy="1123.1" r="5.0" fill="none" stroke="#3d66f7" stroke-width="1"/><circle cx="445.2" cy="1117.1" r="5.0" fill="none" stroke="#412bbe" stroke-width="1"/><circle cx="451.8" cy="1105.1" r="5.0" fill="none" stroke="#3f27b4" stroke-width="1"/><circle cx="453.7" cy="1120.6" r="5.0" fill="none" stroke="#4655f2" stroke-width="1"/><circle cx="425.3" cy="1108.8" r="5.0" fill="none" stroke="#3870f8" stroke-width="1"/><circle cx="436.5" cy="1124.9" r="5.0" fill="none" stroke="#422ec5" stroke-width="1"/><circle cx="436.5" cy="1109.8" r="5.0" fill="none" stroke="#4840e0" stroke-width="1"/><circle cx="440.4" cy="1122.6" r="5.0" fill="none" stroke="#4331cb" stroke-width="1"/><circle cx="439.3" cy="1127.1" r="5.0" fill="none" stroke="#483fde" stroke-width="1"/><circle cx="464.0" cy="1099.9" r="5.0" fill="none" stroke="#3e26b1" stroke-width="1"/><circle cx="479.0" cy="1122.8" r="5.0" fill="none" stroke="#1ba5db" stroke-width="1"/><circle cx="435.8" cy="1127.4" r="5.0" fill="none" stroke="#4536d2" stroke-width="1"/><circle cx="456.8" cy="1116.3" r="5.0" fill="none" stroke="#484cec" stroke-width="1"/><circle cx="438.8" cy="1122.3" r="5.0" fill="none" stroke="#412cbf" stroke-width="1"/><circle cx="428.1" cy="1126.9" r="5.0" fill="none" stroke="#3d25aa" stroke-width="1"/><circle cx="433.5" cy="1117.0" r="5.0" fill="none" stroke="#422ec4" stroke-width="1"/><circle cx="433.5" cy="1122.6" r="5.0" fill="none" stroke="#3d25aa" stroke-width="1"/><circle cx="432.6" cy="1112.9" r="5.0" fill="none" stroke="#4840e0" stroke-width="1"/><circle cx="443.5" cy="1110.4" r="5.0" fill="none" stroke="#4029bb" stroke-width="1"/><circle cx="444.1" cy="1122.0" r="5.0" fill="none" stroke="#463ad8" stroke-width="1"/><circle cx="458.6" cy="1122.4" r="5.0" fill="none" stroke="#3772f8" stroke-width="1"/><circle cx="447.2" cy="1110.7" r="5.0" fill="none" stroke="#3d25ab" stroke-width="1"/><circle cx="426.1" cy="1121.2" r="5.0" fill="none" stroke="#4435d1" stroke-width="1"/><circle cx="437.5" cy="1124.7" r="5.0" fill="none" stroke="#4330c9" stroke-width="1"/><circle cx="458.9" cy="1103.2" r="5.0" fill="none" stroke="#3d25ae" stroke-width="1"/><circle cx="427.0" cy="1125.3" r="5.0" fill="none" stroke="#3e26b1" stroke-width="1"/><circle cx="430.5" cy="1123.9" r="5.0" fill="none" stroke="#3d25ab" stroke-width="1"/></g>
<g><path d="M441.9,1162.5L449.1,1169.7M441.9,1169.7L449.1,1162.5" stroke="#3cc68e" stroke-width="1" fill="none"/><path d="M448.8,1147.0L456.0,1154.2M448.8,1154.2L456.0,1147.0" stroke="#09b7c9" stroke-width="1" fill="none"/><path d="M454.1,1147.8L461.3,1155.0M454.1,1155.0L461.3,1147.8" stroke="#1fc0b1" stroke-width="1" fill="none"/><path d="M434.5,1152.3L441.7,1159.5M434.5,1159.5L441.7,1152.3" stroke="#19a7d9" stroke-width="1" fill="none"/><path d="M515.1,1135.5L522.3,1142.7M515.1,1142.7L522.3,1135.5" stroke="#f9c733" stroke-width="1" fill="none"/><path d="M433.5,1129.0L440.7,1136.2M433.5,1136.2L440.7,1129.0" stroke="#484fef" stroke-width="1" fill="none"/><path d="M424.8,1141.3L432.0,1148.5M424.8,1148.5L432.0,1141.3" stroke="#3a6bf8" stroke-width="1" fill="none"/><path d="M421.9,1133.9L429.1,1141.1M421.9,1141.1L429.1,1133.9" stroke="#473ddc" stroke-width="1" fill="none"/><path d="M430.8,1135.4L438.0,1142.6M430.8,1142.6L438.0,1135.4" stroke="#3d66f7" stroke-width="1" fill="none"/><path d="M436.2,1153.3L443.4,1160.5M436.2,1160.5L443.4,1153.3" stroke="#13add3" stroke-width="1" fill="none"/><path d="M430.9,1128.9L438.1,1136.1M430.9,1136.1L438.1,1128.9" stroke="#4845e5" stroke-width="1" fill="none"/><path d="M436.1,1134.3L443.3,1141.5M436.1,1141.5L443.3,1134.3" stroke="#3674f8" stroke-width="1" fill="none"/><path d="M429.8,1131.3L437.0,1138.5M429.8,1138.5L437.0,1131.3" stroke="#484cec" stroke-width="1" fill="none"/><path d="M444.0,1144.3L451.2,1151.5M444.0,1151.5L451.2,1144.3" stroke="#1aa6da" stroke-width="1" fill="none"/><path d="M425.9,1132.5L433.1,1139.7M425.9,1139.7L433.1,1132.5" stroke="#4844e4" stroke-width="1" fill="none"/><path d="M429.5,1134.6L436.7,1141.8M429.5,1141.8L436.7,1134.6" stroke="#425cf4" stroke-width="1" fill="none"/><path d="M429.9,1136.8L437.1,1144.0M429.9,1144.0L437.1,1136.8" stroke="#3b69f8" stroke-width="1" fill="none"/><path d="M438.5,1140.5L445.7,1147.7M438.5,1147.7L445.7,1140.5" stroke="#2692e6" stroke-width="1" fill="none"/><path d="M425.4,1138.4L432.6,1145.6M425.4,1145.6L432.6,1138.4" stroke="#415ff5" stroke-width="1" fill="none"/><path d="M425.0,1136.7L432.2,1143.9M425.0,1143.9L432.2,1136.7" stroke="#4653f1" stroke-width="1" fill="none"/><path d="M423.7,1145.4L430.9,1152.6M423.7,1152.6L430.9,1145.4" stroke="#3479f7" stroke-width="1" fill="none"/><path d="M431.6,1133.7L438.8,1140.9M431.6,1140.9L438.8,1133.7" stroke="#4060f5" stroke-width="1" fill="none"/><path d="M425.8,1127.1L433.0,1134.3M425.8,1134.3L433.0,1127.1" stroke="#422fc6" stroke-width="1" fill="none"/><path d="M421.5,1136.5L428.7,1143.7M421.5,1143.7L428.7,1136.5" stroke="#4846e6" stroke-width="1" fill="none"/><path d="M434.4,1140.0L441.6,1147.2M434.4,1147.2L441.6,1140.0" stroke="#3087f1" stroke-width="1" fill="none"/><path d="M430.5,1138.8L437.7,1146.0M430.5,1146.0L437.7,1138.8" stroke="#3674f8" stroke-width="1" fill="none"/><path d="M446.0,1136.1L453.2,1143.3M446.0,1143.3L453.2,1136.1" stroke="#2395e3" stroke-width="1" fill="none"/><path d="M432.9,1128.6L440.1,1135.8M432.9,1135.8L440.1,1128.6" stroke="#484beb" stroke-width="1" fill="none"/><path d="M423.9,1139.8L431.1,1147.0M423.9,1147.0L431.1,1139.8" stroke="#4060f5" stroke-width="1" fill="none"/><path d="M425.6,1146.9L432.8,1154.1M425.6,1154.1L432.8,1146.9" stroke="#3186f1" stroke-width="1" fill="none"/><path d="M431.3,1136.5L438.5,1143.7M431.3,1143.7L438.5,1136.5" stroke="#3a6df8" stroke-width="1" fill="none"/><path d="M425.1,1135.2L432.3,1142.4M425.1,1142.4L432.3,1135.2" stroke="#484cec" stroke-width="1" fill="none"/><path d="M426.1,1138.0L433.3,1145.2M426.1,1145.2L433.3,1138.0" stroke="#4060f5" stroke-width="1" fill="none"/></g>
<g><path d="M412.8,1084.5L417.6,1090.1L412.8,1095.7L408.0,1090.1Z" stroke="#1fc0b1" stroke-width="1" fill="none"/><path d="M410.7,1090.6L415.5,1096.2L410.7,1101.8L405.9,1096.2Z" stroke="#08b8c8" stroke-width="1" fill="none"/><path d="M397.2,1102.0L402.0,1107.6L397.2,1113.2L392.4,1107.6Z" stroke="#0ab6ca" stroke-width="1" fill="none"/><path d="M399.3,1108.2L404.1,1113.8L399.3,1119.4L394.5,1113.8Z" stroke="#1ea2de" stroke-width="1" fill="none"/><path d="M395.2,1114.3L400.0,1119.9L395.2,1125.5L390.4,1119.9Z" stroke="#209be0" stroke-width="1" fill="none"/><path d="M403.4,1120.4L408.2,1126.0L403.4,1131.6L398.6,1126.0Z" stroke="#3771f8" stroke-width="1" fill="none"/><path d="M413.6,1122.5L418.4,1128.1L413.6,1133.7L408.8,1128.1Z" stroke="#4840e0" stroke-width="1" fill="none"/><path d="M407.5,1112.3L412.3,1117.9L407.5,1123.5L402.7,1117.9Z" stroke="#3186f1" stroke-width="1" fill="none"/><path d="M415.6,1106.1L420.4,1111.7L415.6,1117.3L410.8,1111.7Z" stroke="#3185f2" stroke-width="1" fill="none"/><path d="M401.3,1114.3L406.1,1119.9L401.3,1125.5L396.5,1119.9Z" stroke="#298fe9" stroke-width="1" fill="none"/><path d="M415.0,1122.7L419.8,1128.3L415.0,1133.9L410.2,1128.3Z" stroke="#463bd9" stroke-width="1" fill="none"/><path d="M391.1,1117.3L395.9,1122.9L391.1,1128.5L386.3,1122.9Z" stroke="#209ce0" stroke-width="1" fill="none"/><path d="M419.2,1119.5L424.0,1125.1L419.2,1130.7L414.4,1125.1Z" stroke="#463ad9" stroke-width="1" fill="none"/><path d="M412.2,1119.8L417.0,1125.4L412.2,1131.0L407.4,1125.4Z" stroke="#4851f0" stroke-width="1" fill="none"/><path d="M409.7,1115.0L414.5,1120.6L409.7,1126.2L404.9,1120.6Z" stroke="#3773f8" stroke-width="1" fill="none"/><path d="M405.3,1117.8L410.1,1123.4L405.3,1129.0L400.5,1123.4Z" stroke="#3576f8" stroke-width="1" fill="none"/><path d="M416.4,1118.2L421.2,1123.8L416.4,1129.4L411.6,1123.8Z" stroke="#4849e9" stroke-width="1" fill="none"/><path d="M422.2,1119.1L427.0,1124.7L422.2,1130.3L417.4,1124.7Z" stroke="#4433ce" stroke-width="1" fill="none"/><path d="M409.7,1117.4L414.5,1123.0L409.7,1128.6L404.9,1123.0Z" stroke="#3c69f8" stroke-width="1" fill="none"/><path d="M403.3,1120.7L408.1,1126.3L403.3,1131.9L398.5,1126.3Z" stroke="#3870f8" stroke-width="1" fill="none"/><path d="M421.5,1120.9L426.3,1126.5L421.5,1132.1L416.7,1126.5Z" stroke="#422ec5" stroke-width="1" fill="none"/><path d="M410.2,1119.8L415.0,1125.4L410.2,1131.0L405.4,1125.4Z" stroke="#435af3" stroke-width="1" fill="none"/><path d="M412.7,1122.1L417.5,1127.7L412.7,1133.3L407.9,1127.7Z" stroke="#4845e5" stroke-width="1" fill="none"/><path d="M423.4,1114.6L428.2,1120.2L423.4,1125.8L418.6,1120.2Z" stroke="#4840e0" stroke-width="1" fill="none"/></g>
<line x1="344.40" y1="1193.00" x2="600.80" y2="989.10" stroke="#8a93b2" stroke-width="1.45"/>
<line x1="344.40" y1="1165.81" x2="566.61" y2="989.10" stroke="#3aad3a" stroke-width="1.25" stroke-dasharray="5.5,5"/>
<line x1="378.59" y1="1193.00" x2="600.80" y2="1016.29" stroke="#3aad3a" stroke-width="1.25" stroke-dasharray="5.5,5"/>
<line x1="424.74" y1="989.1" x2="424.74" y2="1193.0" stroke="#8a93b2" stroke-width="1.45"/>
<line x1="344.4" y1="1129.11" x2="600.8" y2="1129.11" stroke="#8a93b2" stroke-width="1.45"/>
</g>
<line x1="344.4" y1="989.1" x2="344.4" y2="1193.5" stroke="#626262" stroke-width="1.1"/>
<line x1="343.9" y1="1193.0" x2="601.3" y2="1193.0" stroke="#626262" stroke-width="1.1"/>
<line x1="344.40" y1="1193.0" x2="344.40" y2="1190.0" stroke="#626262" stroke-width="1"/>
<line x1="344.4" y1="1193.00" x2="347.4" y2="1193.00" stroke="#626262" stroke-width="1"/>
<text x="344.40" y="1211.00" font-size="14" text-anchor="middle" fill="#222222">5</text>
<text x="338.50" y="1198.00" font-size="14" text-anchor="end" fill="#222222">5</text>
<line x1="424.74" y1="1193.0" x2="424.74" y2="1190.0" stroke="#626262" stroke-width="1"/>
<line x1="344.4" y1="1129.11" x2="347.4" y2="1129.11" stroke="#626262" stroke-width="1"/>
<text x="424.74" y="1211.00" font-size="14" text-anchor="middle" fill="#222222">5.47</text>
<text x="338.50" y="1134.11" font-size="14" text-anchor="end" fill="#222222">5.47</text>
<line x1="515.33" y1="1193.0" x2="515.33" y2="1190.0" stroke="#626262" stroke-width="1"/>
<line x1="344.4" y1="1057.07" x2="347.4" y2="1057.07" stroke="#626262" stroke-width="1"/>
<text x="515.33" y="1211.00" font-size="14" text-anchor="middle" fill="#222222">6</text>
<text x="338.50" y="1062.07" font-size="14" text-anchor="end" fill="#222222">6</text>
<line x1="600.80" y1="1193.0" x2="600.80" y2="1190.0" stroke="#626262" stroke-width="1"/>
<line x1="344.4" y1="989.10" x2="347.4" y2="989.10" stroke="#626262" stroke-width="1"/>
<text x="600.80" y="1211.00" font-size="14" text-anchor="middle" fill="#222222">6.5</text>
<text x="338.50" y="994.10" font-size="14" text-anchor="end" fill="#222222">6.5</text>
<rect x="620.5" y="989.1" width="17.0" height="203.9" fill="url(#parula)" stroke="#626262" stroke-width="1"/>
<text x="643.50" y="1198.00" font-size="14" text-anchor="start" fill="#222222">0</text>
<line x1="634.5" y1="1163.87" x2="637.5" y2="1163.87" stroke="#626262" stroke-width="1"/>
<text x="643.50" y="1168.87" font-size="14" text-anchor="start" fill="#222222">0.1</text>
<line x1="634.5" y1="1134.74" x2="637.5" y2="1134.74" stroke="#626262" stroke-width="1"/>
<text x="643.50" y="1139.74" font-size="14" text-anchor="start" fill="#222222">0.2</text>
<line x1="634.5" y1="1105.61" x2="637.5" y2="1105.61" stroke="#626262" stroke-width="1"/>
<text x="643.50" y="1110.61" font-size="14" text-anchor="start" fill="#222222">0.3</text>
<line x1="634.5" y1="1076.49" x2="637.5" y2="1076.49" stroke="#626262" stroke-width="1"/>
<text x="643.50" y="1081.49" font-size="14" text-anchor="start" fill="#222222">0.4</text>
<line x1="634.5" y1="1047.36" x2="637.5" y2="1047.36" stroke="#626262" stroke-width="1"/>
<text x="643.50" y="1052.36" font-size="14" text-anchor="start" fill="#222222">0.5</text>
<line x1="634.5" y1="1018.23" x2="637.5" y2="1018.23" stroke="#626262" stroke-width="1"/>
<text x="643.50" y="1023.23" font-size="14" text-anchor="start" fill="#222222">0.6</text>
<text x="643.50" y="994.10" font-size="14" text-anchor="start" fill="#222222">0.7</text>
<text transform="translate(680.6,1091.05) rotate(-90)" font-size="17" text-anchor="middle" fill="#222222">Error (m)</text>
<line x1="268.2" y1="1038.60" x2="358.37" y2="1107.61" stroke="#000" stroke-width="1"/>
<path d="M367.10,1114.30L352.64,1110.16L359.56,1108.53L359.33,1101.42Z" fill="#000"/>
<text x="166.6" y="1231.6" font-size="16.6" text-anchor="middle" fill="#222222">Observations (m)</text>
<text x="472.6" y="1231.6" font-size="16.6" text-anchor="middle" fill="#222222">Observations (m)</text>
<rect x="40.8" y="995.5" width="148.4" height="66.6" fill="#fff" stroke="#4a4a4a" stroke-width="1"/>
<circle cx="65.4" cy="1005.6" r="4.6" fill="none" stroke="#17b6c8" stroke-width="1"/>
<path d="M62.0,1018.3L68.8,1025.1M62.0,1025.1L68.8,1018.3" stroke="#a83228" stroke-width="1" fill="none"/>
<circle cx="65.4" cy="1037.6" r="1.3" fill="#17b6c8"/>
<path d="M65.4,1047.4L70.2,1053.2L65.4,1059.0L60.6,1053.2Z" stroke="#a83228" stroke-width="1" fill="none"/>
<text x="89.2" y="1010.4" font-size="14" fill="#111">Hits</text>
<text x="89.2" y="1026.5" font-size="14" fill="#111">Misses</text>
<text x="89.2" y="1042.4" font-size="14" fill="#111">Correct negatives</text>
<text x="89.2" y="1058.0" font-size="14" fill="#111">False alarms</text>
<rect x="355.6" y="1000.6" width="123.4" height="52.1" fill="#fff" stroke="#4a4a4a" stroke-width="1"/>
<circle cx="380.2" cy="1010.2" r="4.8" fill="none" stroke="#4a45d0" stroke-width="1"/>
<path d="M377.0,1023.4L383.4,1029.8M377.0,1029.8L383.4,1023.4" stroke="#4a45d0" stroke-width="1" fill="none"/>
<path d="M380.2,1036.6L384.8,1042.2L380.2,1047.8L375.6,1042.2Z" stroke="#4a45d0" stroke-width="1" fill="none"/>
<text x="404.9" y="1015.0" font-size="14" fill="#111">Hits</text>
<text x="404.9" y="1031.4" font-size="14" fill="#111">Misses</text>
<text x="404.9" y="1047.0" font-size="14" fill="#111">False alarms</text>
</svg>
</body></html>
